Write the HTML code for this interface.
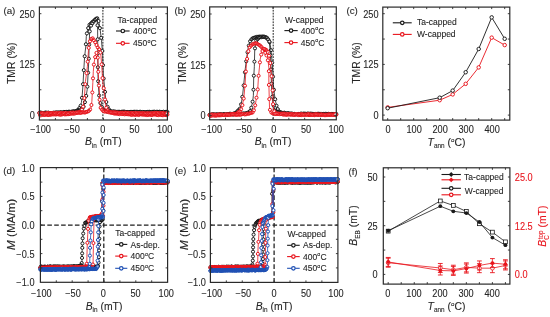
<!DOCTYPE html><html><head><meta charset="utf-8"><style>html,body{margin:0;padding:0;background:#fff;}svg{display:block;filter:blur(0.35px);}</style></head><body><svg width="550" height="317" viewBox="0 0 550 317" font-family='"Liberation Sans", sans-serif'>
<rect width="550" height="317" fill="#fff"/>
<line x1="102.9" y1="7" x2="102.9" y2="120" stroke="#1e1e1e" stroke-width="1" stroke-dasharray="1.8,1.1"/>
<path d="M167.4,112.06 L129,112.06 L116.2,111.86 L109.8,111.04 L106.92,105.49 L105.64,98.06 L104.81,89.95 L103.91,80.62 L103.3,74.74 L102.7,55.31 L101.48,40.23 L100.2,29.92 L98.92,22.22 L97.64,18.16 L96.36,18.57 L94.44,20.19 L91.24,23.03 L88.94,25.46 L87.4,30.74 L86.31,36.41 L85.8,46.15 L84.58,57.1 L83.69,71.7 L82.98,85.09 L82.09,97.01 L81.38,102.69 L80.36,106.99 L77.8,110.23 L71.4,111.86 L58.6,112.67 L39.4,113.07" fill="none" stroke="#1a1a1a" stroke-width="0.8"/>
<defs><g id="m1"><circle cx="167.4" cy="111.92" r="1.55"/><circle cx="166.1" cy="111.78" r="1.55"/><circle cx="164.8" cy="112.18" r="1.55"/><circle cx="163.5" cy="111.72" r="1.55"/><circle cx="162.2" cy="112.09" r="1.55"/><circle cx="160.9" cy="111.95" r="1.55"/><circle cx="159.6" cy="111.7" r="1.55"/><circle cx="158.3" cy="112.06" r="1.55"/><circle cx="157" cy="111.69" r="1.55"/><circle cx="155.7" cy="112" r="1.55"/><circle cx="154.4" cy="111.71" r="1.55"/><circle cx="153.1" cy="111.73" r="1.55"/><circle cx="151.8" cy="112" r="1.55"/><circle cx="150.5" cy="112.32" r="1.55"/><circle cx="149.2" cy="111.76" r="1.55"/><circle cx="147.9" cy="111.84" r="1.55"/><circle cx="146.6" cy="112.16" r="1.55"/><circle cx="145.3" cy="112.42" r="1.55"/><circle cx="144" cy="112.12" r="1.55"/><circle cx="142.7" cy="111.98" r="1.55"/><circle cx="141.4" cy="112.44" r="1.55"/><circle cx="140.1" cy="111.7" r="1.55"/><circle cx="138.8" cy="112.34" r="1.55"/><circle cx="137.5" cy="111.89" r="1.55"/><circle cx="136.2" cy="111.77" r="1.55"/><circle cx="134.9" cy="111.75" r="1.55"/><circle cx="133.6" cy="111.9" r="1.55"/><circle cx="132.3" cy="112.31" r="1.55"/><circle cx="131" cy="111.8" r="1.55"/><circle cx="129.7" cy="112.12" r="1.55"/><circle cx="128.4" cy="112.16" r="1.55"/><circle cx="127.1" cy="111.93" r="1.55"/><circle cx="125.8" cy="112.05" r="1.55"/><circle cx="124.5" cy="111.64" r="1.55"/><circle cx="123.2" cy="111.61" r="1.55"/><circle cx="121.9" cy="111.71" r="1.55"/><circle cx="120.6" cy="112.07" r="1.55"/><circle cx="119.3" cy="111.85" r="1.55"/><circle cx="118" cy="111.74" r="1.55"/><circle cx="116.7" cy="111.93" r="1.55"/><circle cx="115.4" cy="111.72" r="1.55"/><circle cx="114.1" cy="111.43" r="1.55"/><circle cx="112.8" cy="111.66" r="1.55"/><circle cx="111.5" cy="111.42" r="1.55"/><circle cx="110.2" cy="110.89" r="1.55"/><circle cx="108.9" cy="109.37" r="1.55"/><circle cx="107.6" cy="106.81" r="1.55"/><circle cx="106.3" cy="102" r="1.55"/><circle cx="105" cy="91.89" r="1.55"/><circle cx="103.7" cy="78.53" r="1.55"/><circle cx="103" cy="65.22" r="1.55"/><circle cx="102.35" cy="50.96" r="1.55"/><circle cx="101.19" cy="37.85" r="1.55"/><circle cx="99.89" cy="28.12" r="1.55"/><circle cx="98.59" cy="21.06" r="1.55"/><circle cx="97.29" cy="18.27" r="1.55"/><circle cx="95.99" cy="18.74" r="1.55"/><circle cx="94.69" cy="20.03" r="1.55"/><circle cx="93.39" cy="21.2" r="1.55"/><circle cx="92.09" cy="22.3" r="1.55"/><circle cx="90.79" cy="23.62" r="1.55"/><circle cx="89.49" cy="24.82" r="1.55"/><circle cx="88.19" cy="28.09" r="1.55"/><circle cx="86.89" cy="33.44" r="1.55"/><circle cx="85.9" cy="44.24" r="1.55"/><circle cx="84.68" cy="56.23" r="1.55"/><circle cx="83.79" cy="70.17" r="1.55"/><circle cx="83.04" cy="84.21" r="1.55"/><circle cx="81.99" cy="97.8" r="1.55"/><circle cx="80.69" cy="105.65" r="1.55"/><circle cx="79.39" cy="108.09" r="1.55"/><circle cx="78.09" cy="110.03" r="1.55"/><circle cx="76.79" cy="110.61" r="1.55"/><circle cx="75.49" cy="111.21" r="1.55"/><circle cx="74.19" cy="111.41" r="1.55"/><circle cx="72.89" cy="111.31" r="1.55"/><circle cx="71.59" cy="111.72" r="1.55"/><circle cx="70.29" cy="112.06" r="1.55"/><circle cx="68.99" cy="111.63" r="1.55"/><circle cx="67.69" cy="112.06" r="1.55"/><circle cx="66.39" cy="111.91" r="1.55"/><circle cx="65.09" cy="111.95" r="1.55"/><circle cx="63.79" cy="111.98" r="1.55"/><circle cx="62.49" cy="112.63" r="1.55"/><circle cx="61.19" cy="112.21" r="1.55"/><circle cx="59.89" cy="112.38" r="1.55"/><circle cx="58.59" cy="112.58" r="1.55"/><circle cx="57.29" cy="112.99" r="1.55"/><circle cx="55.99" cy="112.39" r="1.55"/><circle cx="54.69" cy="112.71" r="1.55"/><circle cx="53.39" cy="112.82" r="1.55"/><circle cx="52.09" cy="113.11" r="1.55"/><circle cx="50.79" cy="113.09" r="1.55"/><circle cx="49.49" cy="113.15" r="1.55"/><circle cx="48.19" cy="112.71" r="1.55"/><circle cx="46.89" cy="112.85" r="1.55"/><circle cx="45.59" cy="112.83" r="1.55"/><circle cx="44.29" cy="113.28" r="1.55"/><circle cx="42.99" cy="113.36" r="1.55"/><circle cx="41.69" cy="112.74" r="1.55"/><circle cx="40.39" cy="112.79" r="1.55"/></g></defs>
<use href="#m1" fill="#fff"/>
<use href="#m1" fill="none" stroke="#1a1a1a" stroke-width="1"/>
<circle cx="40.39" cy="112.79" r="1.55" fill="#fff" stroke="#1a1a1a" stroke-width="1"/>
<path d="M39.4,113.07 L65,112.67 L77.8,111.86 L82.92,108.61 L84.52,103.74 L85.93,97.7 L87.27,89.18 L87.98,76 L88.68,62.78 L89.13,46.15 L89.64,31.95 L90.6,26.27 L92.52,23.03 L94.44,20.6 L96.04,18.97 L97,19.78 L97.45,24.25 L97.64,29.92 L97.77,54.26 L97.96,74.54 L98.28,84.68 L99.24,96.85 L100.84,105.37 L103.4,110.23 L109.8,111.86 L122.6,112.26 L167.4,112.46" fill="none" stroke="#1a1a1a" stroke-width="0.8"/>
<defs><g id="m2"><circle cx="39.4" cy="112.86" r="1.55"/><circle cx="40.7" cy="112.84" r="1.55"/><circle cx="42" cy="113.02" r="1.55"/><circle cx="43.3" cy="113.08" r="1.55"/><circle cx="44.6" cy="112.8" r="1.55"/><circle cx="45.9" cy="112.57" r="1.55"/><circle cx="47.2" cy="112.88" r="1.55"/><circle cx="48.5" cy="112.82" r="1.55"/><circle cx="49.8" cy="112.96" r="1.55"/><circle cx="51.1" cy="113.25" r="1.55"/><circle cx="52.4" cy="113.02" r="1.55"/><circle cx="53.7" cy="112.86" r="1.55"/><circle cx="55" cy="112.92" r="1.55"/><circle cx="56.3" cy="112.95" r="1.55"/><circle cx="57.6" cy="112.43" r="1.55"/><circle cx="58.9" cy="113.08" r="1.55"/><circle cx="60.2" cy="112.97" r="1.55"/><circle cx="61.5" cy="113.02" r="1.55"/><circle cx="62.8" cy="112.94" r="1.55"/><circle cx="64.1" cy="112.59" r="1.55"/><circle cx="65.4" cy="112.56" r="1.55"/><circle cx="66.7" cy="112.24" r="1.55"/><circle cx="68" cy="112.58" r="1.55"/><circle cx="69.3" cy="112.04" r="1.55"/><circle cx="70.6" cy="111.97" r="1.55"/><circle cx="71.9" cy="112" r="1.55"/><circle cx="73.2" cy="111.88" r="1.55"/><circle cx="74.5" cy="111.94" r="1.55"/><circle cx="75.8" cy="111.62" r="1.55"/><circle cx="77.1" cy="111.5" r="1.55"/><circle cx="78.4" cy="111.2" r="1.55"/><circle cx="79.7" cy="110.33" r="1.55"/><circle cx="81" cy="109.72" r="1.55"/><circle cx="82.3" cy="108.86" r="1.55"/><circle cx="83.6" cy="106.65" r="1.55"/><circle cx="84.9" cy="102.15" r="1.55"/><circle cx="86.2" cy="95.87" r="1.55"/><circle cx="87.4" cy="86.65" r="1.55"/><circle cx="88.15" cy="72.68" r="1.55"/><circle cx="88.79" cy="58.69" r="1.55"/><circle cx="89.18" cy="44.61" r="1.55"/><circle cx="89.75" cy="31.38" r="1.55"/><circle cx="91.05" cy="25.65" r="1.55"/><circle cx="92.35" cy="23.3" r="1.55"/><circle cx="93.65" cy="21.59" r="1.55"/><circle cx="94.95" cy="19.95" r="1.55"/><circle cx="96.25" cy="19.03" r="1.55"/><circle cx="97.49" cy="25.34" r="1.55"/><circle cx="97.69" cy="39.31" r="1.55"/><circle cx="97.76" cy="53.48" r="1.55"/><circle cx="97.89" cy="67.28" r="1.55"/><circle cx="98.18" cy="81.24" r="1.55"/><circle cx="99.12" cy="95.52" r="1.55"/><circle cx="100.4" cy="103.05" r="1.55"/><circle cx="101.7" cy="106.9" r="1.55"/><circle cx="103" cy="109.51" r="1.55"/><circle cx="104.3" cy="110.08" r="1.55"/><circle cx="105.6" cy="110.81" r="1.55"/><circle cx="106.9" cy="111.5" r="1.55"/><circle cx="108.2" cy="111.74" r="1.55"/><circle cx="109.5" cy="111.94" r="1.55"/><circle cx="110.8" cy="111.7" r="1.55"/><circle cx="112.1" cy="111.82" r="1.55"/><circle cx="113.4" cy="111.7" r="1.55"/><circle cx="114.7" cy="112.23" r="1.55"/><circle cx="116" cy="112.08" r="1.55"/><circle cx="117.3" cy="112.32" r="1.55"/><circle cx="118.6" cy="112" r="1.55"/><circle cx="119.9" cy="111.95" r="1.55"/><circle cx="121.2" cy="112.47" r="1.55"/><circle cx="122.5" cy="112.65" r="1.55"/><circle cx="123.8" cy="112.55" r="1.55"/><circle cx="125.1" cy="112.52" r="1.55"/><circle cx="126.4" cy="112.53" r="1.55"/><circle cx="127.7" cy="112.48" r="1.55"/><circle cx="129" cy="112.07" r="1.55"/><circle cx="130.3" cy="112.31" r="1.55"/><circle cx="131.6" cy="112.19" r="1.55"/><circle cx="132.9" cy="111.93" r="1.55"/><circle cx="134.2" cy="111.94" r="1.55"/><circle cx="135.5" cy="112.14" r="1.55"/><circle cx="136.8" cy="112.13" r="1.55"/><circle cx="138.1" cy="112.49" r="1.55"/><circle cx="139.4" cy="112.7" r="1.55"/><circle cx="140.7" cy="112.3" r="1.55"/><circle cx="142" cy="112.7" r="1.55"/><circle cx="143.3" cy="112.74" r="1.55"/><circle cx="144.6" cy="112.72" r="1.55"/><circle cx="145.9" cy="112.26" r="1.55"/><circle cx="147.2" cy="112.15" r="1.55"/><circle cx="148.5" cy="112.16" r="1.55"/><circle cx="149.8" cy="112.14" r="1.55"/><circle cx="151.1" cy="112.15" r="1.55"/><circle cx="152.4" cy="112.49" r="1.55"/><circle cx="153.7" cy="112.72" r="1.55"/><circle cx="155" cy="112.68" r="1.55"/><circle cx="156.3" cy="112.4" r="1.55"/><circle cx="157.6" cy="112.54" r="1.55"/><circle cx="158.9" cy="112.66" r="1.55"/><circle cx="160.2" cy="112.1" r="1.55"/><circle cx="161.5" cy="112.57" r="1.55"/><circle cx="162.8" cy="112.77" r="1.55"/><circle cx="164.1" cy="112.67" r="1.55"/><circle cx="165.4" cy="112.65" r="1.55"/><circle cx="166.7" cy="112.44" r="1.55"/></g></defs>
<use href="#m2" fill="#fff"/>
<use href="#m2" fill="none" stroke="#1a1a1a" stroke-width="1"/>
<circle cx="166.7" cy="112.44" r="1.55" fill="#fff" stroke="#1a1a1a" stroke-width="1"/>
<path d="M167.4,114.9 L129,114.49 L116.2,113.68 L109.8,112.26 L106.6,109.42 L105.32,102.93 L104.36,92.79 L102.7,81.44 L101.8,66.43 L100.71,53.45 L99.24,49.39 L97.45,46.96 L95.08,42.09 L92.2,37.63 L90.28,40.47 L89,44.93 L88.49,50.2 L87.4,66.43 L85.48,81.44 L84.2,100.5 L82.92,107.8 L80.36,111.86 L74.6,113.48 L58.6,114.49 L39.4,114.9" fill="none" stroke="#e8141c" stroke-width="0.8"/>
<defs><g id="m3"><circle cx="167.4" cy="114.67" r="1.55"/><circle cx="166.1" cy="115.09" r="1.55"/><circle cx="164.8" cy="114.75" r="1.55"/><circle cx="163.5" cy="115.07" r="1.55"/><circle cx="162.2" cy="115.17" r="1.55"/><circle cx="160.9" cy="114.76" r="1.55"/><circle cx="159.6" cy="114.75" r="1.55"/><circle cx="158.3" cy="115.11" r="1.55"/><circle cx="157" cy="114.94" r="1.55"/><circle cx="155.7" cy="114.54" r="1.55"/><circle cx="154.4" cy="114.5" r="1.55"/><circle cx="153.1" cy="114.5" r="1.55"/><circle cx="151.8" cy="115.02" r="1.55"/><circle cx="150.5" cy="114.93" r="1.55"/><circle cx="149.2" cy="114.46" r="1.55"/><circle cx="147.9" cy="114.92" r="1.55"/><circle cx="146.6" cy="115.01" r="1.55"/><circle cx="145.3" cy="114.77" r="1.55"/><circle cx="144" cy="114.55" r="1.55"/><circle cx="142.7" cy="114.67" r="1.55"/><circle cx="141.4" cy="114.36" r="1.55"/><circle cx="140.1" cy="114.27" r="1.55"/><circle cx="138.8" cy="114.92" r="1.55"/><circle cx="137.5" cy="114.69" r="1.55"/><circle cx="136.2" cy="114.59" r="1.55"/><circle cx="134.9" cy="114.86" r="1.55"/><circle cx="133.6" cy="114.49" r="1.55"/><circle cx="132.3" cy="114.79" r="1.55"/><circle cx="131" cy="114.74" r="1.55"/><circle cx="129.7" cy="114.3" r="1.55"/><circle cx="128.4" cy="114.28" r="1.55"/><circle cx="127.1" cy="114.23" r="1.55"/><circle cx="125.8" cy="114.11" r="1.55"/><circle cx="124.5" cy="114.27" r="1.55"/><circle cx="123.2" cy="113.96" r="1.55"/><circle cx="121.9" cy="113.98" r="1.55"/><circle cx="120.6" cy="113.7" r="1.55"/><circle cx="119.3" cy="114.16" r="1.55"/><circle cx="118" cy="113.69" r="1.55"/><circle cx="116.7" cy="113.68" r="1.55"/><circle cx="115.4" cy="113.56" r="1.55"/><circle cx="114.1" cy="113.5" r="1.55"/><circle cx="112.8" cy="112.87" r="1.55"/><circle cx="111.5" cy="112.93" r="1.55"/><circle cx="110.2" cy="112.35" r="1.55"/><circle cx="108.9" cy="111.48" r="1.55"/><circle cx="107.6" cy="110.33" r="1.55"/><circle cx="106.3" cy="107.76" r="1.55"/><circle cx="105" cy="99.53" r="1.55"/><circle cx="103.7" cy="88.19" r="1.55"/><circle cx="102.51" cy="78.1" r="1.55"/><circle cx="101.62" cy="64.34" r="1.55"/><circle cx="100.41" cy="52.53" r="1.55"/><circle cx="99.11" cy="49.21" r="1.55"/><circle cx="97.81" cy="47.52" r="1.55"/><circle cx="96.51" cy="45.06" r="1.55"/><circle cx="95.21" cy="42.32" r="1.55"/><circle cx="93.91" cy="40.29" r="1.55"/><circle cx="92.61" cy="38.29" r="1.55"/><circle cx="91.31" cy="39.02" r="1.55"/><circle cx="90.01" cy="41.28" r="1.55"/><circle cx="88.71" cy="47.89" r="1.55"/><circle cx="87.71" cy="61.69" r="1.55"/><circle cx="86.53" cy="73.14" r="1.55"/><circle cx="85.3" cy="84.17" r="1.55"/><circle cx="84.36" cy="98.09" r="1.55"/><circle cx="83.12" cy="106.66" r="1.55"/><circle cx="81.82" cy="109.72" r="1.55"/><circle cx="80.52" cy="111.89" r="1.55"/><circle cx="79.22" cy="112.14" r="1.55"/><circle cx="77.92" cy="112.62" r="1.55"/><circle cx="76.62" cy="112.91" r="1.55"/><circle cx="75.32" cy="113.28" r="1.55"/><circle cx="74.02" cy="113.65" r="1.55"/><circle cx="72.72" cy="113.56" r="1.55"/><circle cx="71.42" cy="113.7" r="1.55"/><circle cx="70.12" cy="113.75" r="1.55"/><circle cx="68.82" cy="114.15" r="1.55"/><circle cx="67.52" cy="114.07" r="1.55"/><circle cx="66.22" cy="114.27" r="1.55"/><circle cx="64.92" cy="114.4" r="1.55"/><circle cx="63.62" cy="114" r="1.55"/><circle cx="62.32" cy="114.3" r="1.55"/><circle cx="61.02" cy="114.65" r="1.55"/><circle cx="59.72" cy="114.66" r="1.55"/><circle cx="58.42" cy="114.24" r="1.55"/><circle cx="57.12" cy="114.26" r="1.55"/><circle cx="55.82" cy="114.51" r="1.55"/><circle cx="54.52" cy="114.28" r="1.55"/><circle cx="53.22" cy="114.42" r="1.55"/><circle cx="51.92" cy="114.33" r="1.55"/><circle cx="50.62" cy="114.78" r="1.55"/><circle cx="49.32" cy="114.89" r="1.55"/><circle cx="48.02" cy="114.99" r="1.55"/><circle cx="46.72" cy="114.5" r="1.55"/><circle cx="45.42" cy="114.92" r="1.55"/><circle cx="44.12" cy="114.91" r="1.55"/><circle cx="42.82" cy="114.57" r="1.55"/><circle cx="41.52" cy="115.12" r="1.55"/><circle cx="40.22" cy="115.21" r="1.55"/></g></defs>
<use href="#m3" fill="#fff"/>
<use href="#m3" fill="none" stroke="#e8141c" stroke-width="1"/>
<circle cx="40.22" cy="115.21" r="1.55" fill="#fff" stroke="#e8141c" stroke-width="1"/>
<path d="M39.4,113.27 L65,113.07 L84.2,112.46 L89.32,111.04 L90.92,108.61 L91.88,101.31 L92.84,82.65 L93.29,71.7 L93.99,63.18 L95.02,57.71 L96.04,53.45 L97.13,51.83 L97.83,58.32 L98.41,74.54 L98.92,85.29 L99.5,92.91 L99.69,102.93 L100.84,108.61 L103.4,111.04 L109.8,112.46 L129,113.07 L167.4,113.27" fill="none" stroke="#e8141c" stroke-width="0.8"/>
<defs><g id="m4"><circle cx="39.4" cy="113.08" r="1.55"/><circle cx="40.7" cy="113.58" r="1.55"/><circle cx="42" cy="113.18" r="1.55"/><circle cx="43.3" cy="113.23" r="1.55"/><circle cx="44.6" cy="113.58" r="1.55"/><circle cx="45.9" cy="113.46" r="1.55"/><circle cx="47.2" cy="112.98" r="1.55"/><circle cx="48.5" cy="113.15" r="1.55"/><circle cx="49.8" cy="113.2" r="1.55"/><circle cx="51.1" cy="113.07" r="1.55"/><circle cx="52.4" cy="112.96" r="1.55"/><circle cx="53.7" cy="113.03" r="1.55"/><circle cx="55" cy="113.31" r="1.55"/><circle cx="56.3" cy="112.8" r="1.55"/><circle cx="57.6" cy="113.17" r="1.55"/><circle cx="58.9" cy="113.08" r="1.55"/><circle cx="60.2" cy="112.77" r="1.55"/><circle cx="61.5" cy="112.98" r="1.55"/><circle cx="62.8" cy="113.18" r="1.55"/><circle cx="64.1" cy="113.09" r="1.55"/><circle cx="65.4" cy="112.75" r="1.55"/><circle cx="66.7" cy="113.36" r="1.55"/><circle cx="68" cy="113.18" r="1.55"/><circle cx="69.3" cy="113.27" r="1.55"/><circle cx="70.6" cy="112.62" r="1.55"/><circle cx="71.9" cy="112.69" r="1.55"/><circle cx="73.2" cy="112.49" r="1.55"/><circle cx="74.5" cy="112.97" r="1.55"/><circle cx="75.8" cy="112.57" r="1.55"/><circle cx="77.1" cy="112.43" r="1.55"/><circle cx="78.4" cy="112.59" r="1.55"/><circle cx="79.7" cy="112.89" r="1.55"/><circle cx="81" cy="112.79" r="1.55"/><circle cx="82.3" cy="112.35" r="1.55"/><circle cx="83.6" cy="112.24" r="1.55"/><circle cx="84.9" cy="112.56" r="1.55"/><circle cx="86.2" cy="111.96" r="1.55"/><circle cx="87.5" cy="111.69" r="1.55"/><circle cx="88.8" cy="110.9" r="1.55"/><circle cx="90.1" cy="109.55" r="1.55"/><circle cx="91.4" cy="105.02" r="1.55"/><circle cx="92.33" cy="92.46" r="1.55"/><circle cx="93.01" cy="78.35" r="1.55"/><circle cx="93.88" cy="64.61" r="1.55"/><circle cx="95.17" cy="57.1" r="1.55"/><circle cx="96.47" cy="52.9" r="1.55"/><circle cx="97.77" cy="57.64" r="1.55"/><circle cx="98.31" cy="71.77" r="1.55"/><circle cx="98.95" cy="85.54" r="1.55"/><circle cx="99.63" cy="99.78" r="1.55"/><circle cx="100.68" cy="107.83" r="1.55"/><circle cx="101.98" cy="109.59" r="1.55"/><circle cx="103.28" cy="110.97" r="1.55"/><circle cx="104.58" cy="111.61" r="1.55"/><circle cx="105.88" cy="111.43" r="1.55"/><circle cx="107.18" cy="111.62" r="1.55"/><circle cx="108.48" cy="112.19" r="1.55"/><circle cx="109.78" cy="112.28" r="1.55"/><circle cx="111.08" cy="112.23" r="1.55"/><circle cx="112.38" cy="112.31" r="1.55"/><circle cx="113.68" cy="112.27" r="1.55"/><circle cx="114.98" cy="112.42" r="1.55"/><circle cx="116.28" cy="112.54" r="1.55"/><circle cx="117.58" cy="112.57" r="1.55"/><circle cx="118.88" cy="112.93" r="1.55"/><circle cx="120.18" cy="112.65" r="1.55"/><circle cx="121.48" cy="112.83" r="1.55"/><circle cx="122.78" cy="112.65" r="1.55"/><circle cx="124.08" cy="112.81" r="1.55"/><circle cx="125.38" cy="112.62" r="1.55"/><circle cx="126.68" cy="112.82" r="1.55"/><circle cx="127.98" cy="112.7" r="1.55"/><circle cx="129.28" cy="113.24" r="1.55"/><circle cx="130.58" cy="113.12" r="1.55"/><circle cx="131.88" cy="112.87" r="1.55"/><circle cx="133.18" cy="113.08" r="1.55"/><circle cx="134.48" cy="113.41" r="1.55"/><circle cx="135.78" cy="112.83" r="1.55"/><circle cx="137.08" cy="113.34" r="1.55"/><circle cx="138.38" cy="113.07" r="1.55"/><circle cx="139.68" cy="113.12" r="1.55"/><circle cx="140.98" cy="113.37" r="1.55"/><circle cx="142.28" cy="113.07" r="1.55"/><circle cx="143.58" cy="113.15" r="1.55"/><circle cx="144.88" cy="113.29" r="1.55"/><circle cx="146.18" cy="113.5" r="1.55"/><circle cx="147.48" cy="113.06" r="1.55"/><circle cx="148.78" cy="113.41" r="1.55"/><circle cx="150.08" cy="113.33" r="1.55"/><circle cx="151.38" cy="113.29" r="1.55"/><circle cx="152.68" cy="113.13" r="1.55"/><circle cx="153.98" cy="113.1" r="1.55"/><circle cx="155.28" cy="112.9" r="1.55"/><circle cx="156.58" cy="112.96" r="1.55"/><circle cx="157.88" cy="112.92" r="1.55"/><circle cx="159.18" cy="113.4" r="1.55"/><circle cx="160.48" cy="113.07" r="1.55"/><circle cx="161.78" cy="113.01" r="1.55"/><circle cx="163.08" cy="112.96" r="1.55"/><circle cx="164.38" cy="113.5" r="1.55"/><circle cx="165.68" cy="113.53" r="1.55"/><circle cx="166.98" cy="113.39" r="1.55"/></g></defs>
<use href="#m4" fill="#fff"/>
<use href="#m4" fill="none" stroke="#e8141c" stroke-width="1"/>
<circle cx="166.98" cy="113.39" r="1.55" fill="#fff" stroke="#e8141c" stroke-width="1"/>
<rect x="39.4" y="7" width="128" height="113" fill="none" stroke="#2a2a2a" stroke-width="1.2"/>
<line x1="55.4" y1="120" x2="55.4" y2="118" stroke="#2a2a2a" stroke-width="0.9"/>
<line x1="55.4" y1="7" x2="55.4" y2="9" stroke="#2a2a2a" stroke-width="0.9"/>
<line x1="71.4" y1="120" x2="71.4" y2="118" stroke="#2a2a2a" stroke-width="0.9"/>
<line x1="71.4" y1="7" x2="71.4" y2="9" stroke="#2a2a2a" stroke-width="0.9"/>
<line x1="87.4" y1="120" x2="87.4" y2="118" stroke="#2a2a2a" stroke-width="0.9"/>
<line x1="87.4" y1="7" x2="87.4" y2="9" stroke="#2a2a2a" stroke-width="0.9"/>
<line x1="103.4" y1="120" x2="103.4" y2="118" stroke="#2a2a2a" stroke-width="0.9"/>
<line x1="103.4" y1="7" x2="103.4" y2="9" stroke="#2a2a2a" stroke-width="0.9"/>
<line x1="119.4" y1="120" x2="119.4" y2="118" stroke="#2a2a2a" stroke-width="0.9"/>
<line x1="119.4" y1="7" x2="119.4" y2="9" stroke="#2a2a2a" stroke-width="0.9"/>
<line x1="135.4" y1="120" x2="135.4" y2="118" stroke="#2a2a2a" stroke-width="0.9"/>
<line x1="135.4" y1="7" x2="135.4" y2="9" stroke="#2a2a2a" stroke-width="0.9"/>
<line x1="151.4" y1="120" x2="151.4" y2="118" stroke="#2a2a2a" stroke-width="0.9"/>
<line x1="151.4" y1="7" x2="151.4" y2="9" stroke="#2a2a2a" stroke-width="0.9"/>
<line x1="39.4" y1="115.1" x2="41.4" y2="115.1" stroke="#2a2a2a" stroke-width="0.9"/>
<line x1="167.4" y1="115.1" x2="165.4" y2="115.1" stroke="#2a2a2a" stroke-width="0.9"/>
<line x1="39.4" y1="89.75" x2="41.4" y2="89.75" stroke="#2a2a2a" stroke-width="0.9"/>
<line x1="167.4" y1="89.75" x2="165.4" y2="89.75" stroke="#2a2a2a" stroke-width="0.9"/>
<line x1="39.4" y1="64.4" x2="41.4" y2="64.4" stroke="#2a2a2a" stroke-width="0.9"/>
<line x1="167.4" y1="64.4" x2="165.4" y2="64.4" stroke="#2a2a2a" stroke-width="0.9"/>
<line x1="39.4" y1="39.05" x2="41.4" y2="39.05" stroke="#2a2a2a" stroke-width="0.9"/>
<line x1="167.4" y1="39.05" x2="165.4" y2="39.05" stroke="#2a2a2a" stroke-width="0.9"/>
<line x1="39.4" y1="13.7" x2="41.4" y2="13.7" stroke="#2a2a2a" stroke-width="0.9"/>
<line x1="167.4" y1="13.7" x2="165.4" y2="13.7" stroke="#2a2a2a" stroke-width="0.9"/>
<text x="3.4" y="14.2" font-size="9.8" text-anchor="start" fill="#262626" stroke="#262626" stroke-width="0.1">(a)</text>
<text transform="translate(34.8,17.6) scale(0.92,1)" font-size="10" text-anchor="end" fill="#262626" stroke="#262626" stroke-width="0.1">250</text>
<text transform="translate(34.8,68.3) scale(0.92,1)" font-size="10" text-anchor="end" fill="#262626" stroke="#262626" stroke-width="0.1">125</text>
<text transform="translate(34.8,119) scale(0.92,1)" font-size="10" text-anchor="end" fill="#262626" stroke="#262626" stroke-width="0.1">0</text>
<text transform="translate(40.6,132.7) scale(0.92,1)" font-size="10" text-anchor="middle" fill="#262626" stroke="#262626" stroke-width="0.1">−<tspan dx="0.8"></tspan>100</text>
<text transform="translate(72,132.7) scale(0.92,1)" font-size="10" text-anchor="middle" fill="#262626" stroke="#262626" stroke-width="0.1">−<tspan dx="0.8"></tspan>50</text>
<text transform="translate(102.8,132.7) scale(0.92,1)" font-size="10" text-anchor="middle" fill="#262626" stroke="#262626" stroke-width="0.1">0</text>
<text transform="translate(134.4,132.7) scale(0.92,1)" font-size="10" text-anchor="middle" fill="#262626" stroke="#262626" stroke-width="0.1">50</text>
<text transform="translate(164.6,132.7) scale(0.92,1)" font-size="10" text-anchor="middle" fill="#262626" stroke="#262626" stroke-width="0.1">100</text>
<text x="103.3" y="145.2" font-size="10.4" text-anchor="middle" fill="#262626" stroke="#262626" stroke-width="0.1"><tspan font-style="italic">B</tspan><tspan font-size="6.4" dy="2.6">in</tspan><tspan dy="-2.6"> (mT)</tspan></text>
<text x="0" y="0" font-size="10.4" text-anchor="middle" fill="#262626" stroke="#262626" stroke-width="0.1" transform="translate(14.6,63.2) rotate(-90)">TMR (%)</text>
<text x="117.6" y="23.4" font-size="8.5" text-anchor="start" fill="#262626" stroke="#262626" stroke-width="0.1">Ta-capped</text>
<line x1="116" y1="31" x2="129.6" y2="31" stroke="#1a1a1a" stroke-width="1.1"/>
<circle cx="122.8" cy="31" r="1.75" fill="#fff" stroke="#1a1a1a" stroke-width="1.2"/>
<text x="133.1" y="34.1" font-size="8.5" text-anchor="start" fill="#262626" stroke="#262626" stroke-width="0.1">400<tspan font-size="5.3" dy="-3.3" dx="0.15">o</tspan><tspan dy="3.3" dx="0.1">C</tspan></text>
<line x1="116" y1="43.3" x2="129.6" y2="43.3" stroke="#e8141c" stroke-width="1.1"/>
<circle cx="122.8" cy="43.3" r="1.75" fill="#fff" stroke="#e8141c" stroke-width="1.2"/>
<text x="133.1" y="46.4" font-size="8.5" text-anchor="start" fill="#262626" stroke="#262626" stroke-width="0.1">450<tspan font-size="5.3" dy="-3.3" dx="0.15">o</tspan><tspan dy="3.3" dx="0.1">C</tspan></text>
<line x1="273.2" y1="6.9" x2="273.2" y2="119.8" stroke="#1e1e1e" stroke-width="1" stroke-dasharray="1.8,1.1"/>
<path d="M336.3,114.18 L298.32,113.98 L285.66,113.37 L279.33,111.75 L276.8,107.29 L275.03,98.36 L274.27,93.09 L273.38,84.98 L272.87,72.61 L271.99,60 L270.47,45.8 L269.2,40.36 L266.67,37.52 L263.5,36.71 L257.18,36.71 L252.11,38.34 L250.02,41.58 L248.31,47.26 L246.79,56.79 L245.27,68.76 L243.88,82.95 L242.62,95.12 L241.35,103.23 L239.45,109.72 L235.02,113.37 L222.36,114.59 L209.7,114.79" fill="none" stroke="#1a1a1a" stroke-width="0.8"/>
<defs><g id="m5"><circle cx="336.3" cy="114.01" r="1.55"/><circle cx="335" cy="113.97" r="1.55"/><circle cx="333.7" cy="114" r="1.55"/><circle cx="332.4" cy="114.13" r="1.55"/><circle cx="331.1" cy="113.88" r="1.55"/><circle cx="329.8" cy="114.11" r="1.55"/><circle cx="328.5" cy="113.95" r="1.55"/><circle cx="327.2" cy="114.5" r="1.55"/><circle cx="325.9" cy="114.51" r="1.55"/><circle cx="324.6" cy="114.16" r="1.55"/><circle cx="323.3" cy="113.91" r="1.55"/><circle cx="322" cy="114.48" r="1.55"/><circle cx="320.7" cy="113.95" r="1.55"/><circle cx="319.4" cy="113.98" r="1.55"/><circle cx="318.1" cy="113.69" r="1.55"/><circle cx="316.8" cy="113.98" r="1.55"/><circle cx="315.5" cy="114.05" r="1.55"/><circle cx="314.2" cy="114.07" r="1.55"/><circle cx="312.9" cy="113.82" r="1.55"/><circle cx="311.6" cy="114.06" r="1.55"/><circle cx="310.3" cy="113.65" r="1.55"/><circle cx="309" cy="113.85" r="1.55"/><circle cx="307.7" cy="113.7" r="1.55"/><circle cx="306.4" cy="113.94" r="1.55"/><circle cx="305.1" cy="113.65" r="1.55"/><circle cx="303.8" cy="113.63" r="1.55"/><circle cx="302.5" cy="113.85" r="1.55"/><circle cx="301.2" cy="113.78" r="1.55"/><circle cx="299.9" cy="114.06" r="1.55"/><circle cx="298.6" cy="114.01" r="1.55"/><circle cx="297.3" cy="114.13" r="1.55"/><circle cx="296" cy="113.99" r="1.55"/><circle cx="294.7" cy="113.98" r="1.55"/><circle cx="293.4" cy="114.05" r="1.55"/><circle cx="292.1" cy="113.59" r="1.55"/><circle cx="290.8" cy="113.48" r="1.55"/><circle cx="289.5" cy="113.94" r="1.55"/><circle cx="288.2" cy="113.21" r="1.55"/><circle cx="286.9" cy="113.61" r="1.55"/><circle cx="285.6" cy="113.47" r="1.55"/><circle cx="284.3" cy="112.66" r="1.55"/><circle cx="283" cy="112.96" r="1.55"/><circle cx="281.7" cy="112.67" r="1.55"/><circle cx="280.4" cy="112.13" r="1.55"/><circle cx="279.1" cy="111.53" r="1.55"/><circle cx="277.8" cy="109.15" r="1.55"/><circle cx="276.5" cy="105.68" r="1.55"/><circle cx="275.2" cy="99.25" r="1.55"/><circle cx="273.9" cy="89.74" r="1.55"/><circle cx="273.04" cy="76.68" r="1.55"/><circle cx="272.17" cy="62.67" r="1.55"/><circle cx="270.93" cy="50.19" r="1.55"/><circle cx="269.63" cy="42.22" r="1.55"/><circle cx="268.33" cy="39.5" r="1.55"/><circle cx="267.03" cy="37.98" r="1.55"/><circle cx="265.73" cy="37.34" r="1.55"/><circle cx="264.43" cy="36.87" r="1.55"/><circle cx="263.13" cy="36.57" r="1.55"/><circle cx="261.83" cy="36.6" r="1.55"/><circle cx="260.53" cy="36.67" r="1.55"/><circle cx="259.23" cy="36.6" r="1.55"/><circle cx="257.93" cy="36.81" r="1.55"/><circle cx="256.63" cy="36.91" r="1.55"/><circle cx="255.33" cy="37.34" r="1.55"/><circle cx="254.03" cy="37.76" r="1.55"/><circle cx="252.73" cy="38.19" r="1.55"/><circle cx="251.43" cy="39.39" r="1.55"/><circle cx="250.13" cy="41.27" r="1.55"/><circle cx="248.83" cy="45.64" r="1.55"/><circle cx="247.53" cy="52.26" r="1.55"/><circle cx="246.23" cy="61.25" r="1.55"/><circle cx="244.93" cy="72.31" r="1.55"/><circle cx="243.63" cy="85.45" r="1.55"/><circle cx="242.33" cy="96.84" r="1.55"/><circle cx="241.03" cy="104.41" r="1.55"/><circle cx="239.73" cy="108.7" r="1.55"/><circle cx="238.43" cy="110.22" r="1.55"/><circle cx="237.13" cy="111.45" r="1.55"/><circle cx="235.83" cy="112.89" r="1.55"/><circle cx="234.53" cy="113.18" r="1.55"/><circle cx="233.23" cy="113.74" r="1.55"/><circle cx="231.93" cy="114.05" r="1.55"/><circle cx="230.63" cy="113.79" r="1.55"/><circle cx="229.33" cy="113.83" r="1.55"/><circle cx="228.03" cy="114.03" r="1.55"/><circle cx="226.73" cy="114.32" r="1.55"/><circle cx="225.43" cy="114.51" r="1.55"/><circle cx="224.13" cy="114.51" r="1.55"/><circle cx="222.83" cy="114.66" r="1.55"/><circle cx="221.53" cy="114.26" r="1.55"/><circle cx="220.23" cy="114.34" r="1.55"/><circle cx="218.93" cy="114.45" r="1.55"/><circle cx="217.63" cy="114.86" r="1.55"/><circle cx="216.33" cy="114.53" r="1.55"/><circle cx="215.03" cy="114.76" r="1.55"/><circle cx="213.73" cy="114.34" r="1.55"/><circle cx="212.43" cy="114.4" r="1.55"/><circle cx="211.13" cy="114.58" r="1.55"/><circle cx="209.83" cy="114.93" r="1.55"/></g></defs>
<use href="#m5" fill="#fff"/>
<use href="#m5" fill="none" stroke="#1a1a1a" stroke-width="1"/>
<circle cx="209.83" cy="114.93" r="1.55" fill="#fff" stroke="#1a1a1a" stroke-width="1"/>
<path d="M209.7,114.79 L235.02,114.18 L247.68,112.97 L250.21,110.94 L251.29,107.9 L252.74,101.2 L253.38,95.32 L253.69,77.88 L254.33,66.73 L254.71,50.5 L255.91,41.18 L259.07,37.52 L263.5,36.71 L266.67,37.52 L269.2,40.77 L270.47,54.56 L271.1,74.84 L271.73,91.06 L273,103.23 L274.9,110.53 L279.33,113.37 L298.32,113.98 L336.3,114.18" fill="none" stroke="#1a1a1a" stroke-width="0.8"/>
<defs><g id="m6"><circle cx="209.7" cy="114.95" r="1.55"/><circle cx="211" cy="114.9" r="1.55"/><circle cx="212.3" cy="114.56" r="1.55"/><circle cx="213.6" cy="114.71" r="1.55"/><circle cx="214.9" cy="114.64" r="1.55"/><circle cx="216.2" cy="114.61" r="1.55"/><circle cx="217.5" cy="114.3" r="1.55"/><circle cx="218.8" cy="114.89" r="1.55"/><circle cx="220.1" cy="114.3" r="1.55"/><circle cx="221.4" cy="114.89" r="1.55"/><circle cx="222.7" cy="114.83" r="1.55"/><circle cx="224" cy="114.06" r="1.55"/><circle cx="225.3" cy="114.38" r="1.55"/><circle cx="226.6" cy="114.64" r="1.55"/><circle cx="227.9" cy="114.73" r="1.55"/><circle cx="229.2" cy="114.28" r="1.55"/><circle cx="230.5" cy="114.11" r="1.55"/><circle cx="231.8" cy="114.03" r="1.55"/><circle cx="233.1" cy="114.59" r="1.55"/><circle cx="234.4" cy="113.97" r="1.55"/><circle cx="235.7" cy="114.18" r="1.55"/><circle cx="237" cy="113.71" r="1.55"/><circle cx="238.3" cy="113.89" r="1.55"/><circle cx="239.6" cy="114.11" r="1.55"/><circle cx="240.9" cy="113.32" r="1.55"/><circle cx="242.2" cy="113.75" r="1.55"/><circle cx="243.5" cy="113.38" r="1.55"/><circle cx="244.8" cy="113.55" r="1.55"/><circle cx="246.1" cy="113.28" r="1.55"/><circle cx="247.4" cy="112.78" r="1.55"/><circle cx="248.7" cy="112.47" r="1.55"/><circle cx="250" cy="111.1" r="1.55"/><circle cx="251.3" cy="107.7" r="1.55"/><circle cx="252.6" cy="101.72" r="1.55"/><circle cx="253.48" cy="89.69" r="1.55"/><circle cx="253.82" cy="75.68" r="1.55"/><circle cx="254.44" cy="61.63" r="1.55"/><circle cx="254.97" cy="48.37" r="1.55"/><circle cx="256.27" cy="40.71" r="1.55"/><circle cx="257.57" cy="39.21" r="1.55"/><circle cx="258.87" cy="37.86" r="1.55"/><circle cx="260.17" cy="37.18" r="1.55"/><circle cx="261.47" cy="37.16" r="1.55"/><circle cx="262.77" cy="36.95" r="1.55"/><circle cx="264.07" cy="36.74" r="1.55"/><circle cx="265.37" cy="37.32" r="1.55"/><circle cx="266.67" cy="37.59" r="1.55"/><circle cx="267.97" cy="39.31" r="1.55"/><circle cx="269.27" cy="41.41" r="1.55"/><circle cx="270.5" cy="55.44" r="1.55"/><circle cx="270.93" cy="69.44" r="1.55"/><circle cx="271.44" cy="83.63" r="1.55"/><circle cx="272.33" cy="96.81" r="1.55"/><circle cx="273.63" cy="105.61" r="1.55"/><circle cx="274.93" cy="110.49" r="1.55"/><circle cx="276.23" cy="111.21" r="1.55"/><circle cx="277.53" cy="111.86" r="1.55"/><circle cx="278.83" cy="112.73" r="1.55"/><circle cx="280.13" cy="113.67" r="1.55"/><circle cx="281.43" cy="113.27" r="1.55"/><circle cx="282.73" cy="113.83" r="1.55"/><circle cx="284.03" cy="113.32" r="1.55"/><circle cx="285.33" cy="113.38" r="1.55"/><circle cx="286.63" cy="113.61" r="1.55"/><circle cx="287.93" cy="113.4" r="1.55"/><circle cx="289.23" cy="113.59" r="1.55"/><circle cx="290.53" cy="114.1" r="1.55"/><circle cx="291.83" cy="114.08" r="1.55"/><circle cx="293.13" cy="114.06" r="1.55"/><circle cx="294.43" cy="113.96" r="1.55"/><circle cx="295.73" cy="114.23" r="1.55"/><circle cx="297.03" cy="114.29" r="1.55"/><circle cx="298.33" cy="114.02" r="1.55"/><circle cx="299.63" cy="114.16" r="1.55"/><circle cx="300.93" cy="113.63" r="1.55"/><circle cx="302.23" cy="114.19" r="1.55"/><circle cx="303.53" cy="113.97" r="1.55"/><circle cx="304.83" cy="114.22" r="1.55"/><circle cx="306.13" cy="114.14" r="1.55"/><circle cx="307.43" cy="113.86" r="1.55"/><circle cx="308.73" cy="113.68" r="1.55"/><circle cx="310.03" cy="114.38" r="1.55"/><circle cx="311.33" cy="113.75" r="1.55"/><circle cx="312.63" cy="114.03" r="1.55"/><circle cx="313.93" cy="113.94" r="1.55"/><circle cx="315.23" cy="113.91" r="1.55"/><circle cx="316.53" cy="114.27" r="1.55"/><circle cx="317.83" cy="114.47" r="1.55"/><circle cx="319.13" cy="113.9" r="1.55"/><circle cx="320.43" cy="114.22" r="1.55"/><circle cx="321.73" cy="113.95" r="1.55"/><circle cx="323.03" cy="114.16" r="1.55"/><circle cx="324.33" cy="114.03" r="1.55"/><circle cx="325.63" cy="113.86" r="1.55"/><circle cx="326.93" cy="113.86" r="1.55"/><circle cx="328.23" cy="113.91" r="1.55"/><circle cx="329.53" cy="114.47" r="1.55"/><circle cx="330.83" cy="114.15" r="1.55"/><circle cx="332.13" cy="113.94" r="1.55"/><circle cx="333.43" cy="114.49" r="1.55"/><circle cx="334.73" cy="114.57" r="1.55"/><circle cx="336.03" cy="114.14" r="1.55"/></g></defs>
<use href="#m6" fill="#fff"/>
<use href="#m6" fill="none" stroke="#1a1a1a" stroke-width="1"/>
<circle cx="336.03" cy="114.14" r="1.55" fill="#fff" stroke="#1a1a1a" stroke-width="1"/>
<path d="M336.3,114.99 L298.32,114.79 L285.66,114.39 L276.17,113.78 L273,113.37 L270.47,111.75 L269.52,107.9 L269.01,89.04 L268.82,78.9 L268.89,67.94 L268.25,62.67 L267.3,56.79 L264.14,50.5 L260.34,45.64 L255.91,43.2 L252.74,44.01 L249.58,47.26 L247.68,53.75 L246.41,64.7 L245.78,73.22 L245.02,84.98 L243.88,97.55 L242.62,104.04 L241.79,107.9 L240.08,111.34 L235.02,114.18 L222.36,115.2 L209.7,115.6" fill="none" stroke="#e8141c" stroke-width="0.8"/>
<defs><g id="m7"><circle cx="336.3" cy="114.74" r="1.55"/><circle cx="335" cy="114.77" r="1.55"/><circle cx="333.7" cy="114.69" r="1.55"/><circle cx="332.4" cy="114.86" r="1.55"/><circle cx="331.1" cy="114.68" r="1.55"/><circle cx="329.8" cy="114.78" r="1.55"/><circle cx="328.5" cy="114.78" r="1.55"/><circle cx="327.2" cy="114.99" r="1.55"/><circle cx="325.9" cy="115.21" r="1.55"/><circle cx="324.6" cy="115.11" r="1.55"/><circle cx="323.3" cy="114.86" r="1.55"/><circle cx="322" cy="114.86" r="1.55"/><circle cx="320.7" cy="114.93" r="1.55"/><circle cx="319.4" cy="114.82" r="1.55"/><circle cx="318.1" cy="114.78" r="1.55"/><circle cx="316.8" cy="114.58" r="1.55"/><circle cx="315.5" cy="114.73" r="1.55"/><circle cx="314.2" cy="115.2" r="1.55"/><circle cx="312.9" cy="114.61" r="1.55"/><circle cx="311.6" cy="114.86" r="1.55"/><circle cx="310.3" cy="114.95" r="1.55"/><circle cx="309" cy="115.1" r="1.55"/><circle cx="307.7" cy="114.64" r="1.55"/><circle cx="306.4" cy="114.67" r="1.55"/><circle cx="305.1" cy="114.65" r="1.55"/><circle cx="303.8" cy="114.75" r="1.55"/><circle cx="302.5" cy="114.78" r="1.55"/><circle cx="301.2" cy="115.12" r="1.55"/><circle cx="299.9" cy="115.04" r="1.55"/><circle cx="298.6" cy="115.05" r="1.55"/><circle cx="297.3" cy="114.42" r="1.55"/><circle cx="296" cy="114.39" r="1.55"/><circle cx="294.7" cy="114.82" r="1.55"/><circle cx="293.4" cy="114.91" r="1.55"/><circle cx="292.1" cy="114.57" r="1.55"/><circle cx="290.8" cy="114.61" r="1.55"/><circle cx="289.5" cy="114.16" r="1.55"/><circle cx="288.2" cy="114.39" r="1.55"/><circle cx="286.9" cy="114.72" r="1.55"/><circle cx="285.6" cy="114.61" r="1.55"/><circle cx="284.3" cy="114.55" r="1.55"/><circle cx="283" cy="114.55" r="1.55"/><circle cx="281.7" cy="113.96" r="1.55"/><circle cx="280.4" cy="113.78" r="1.55"/><circle cx="279.1" cy="113.72" r="1.55"/><circle cx="277.8" cy="113.9" r="1.55"/><circle cx="276.5" cy="113.93" r="1.55"/><circle cx="275.2" cy="113.96" r="1.55"/><circle cx="273.9" cy="113.64" r="1.55"/><circle cx="272.6" cy="113.22" r="1.55"/><circle cx="271.3" cy="112.47" r="1.55"/><circle cx="270" cy="109.82" r="1.55"/><circle cx="269.28" cy="99.1" r="1.55"/><circle cx="268.94" cy="84.94" r="1.55"/><circle cx="268.87" cy="71.17" r="1.55"/><circle cx="267.88" cy="60.26" r="1.55"/><circle cx="266.58" cy="55.47" r="1.55"/><circle cx="265.28" cy="52.81" r="1.55"/><circle cx="263.98" cy="50.24" r="1.55"/><circle cx="262.68" cy="48.52" r="1.55"/><circle cx="261.38" cy="46.89" r="1.55"/><circle cx="260.08" cy="45.53" r="1.55"/><circle cx="258.78" cy="44.84" r="1.55"/><circle cx="257.48" cy="43.95" r="1.55"/><circle cx="256.18" cy="43.22" r="1.55"/><circle cx="254.88" cy="43.48" r="1.55"/><circle cx="253.58" cy="43.83" r="1.55"/><circle cx="252.28" cy="44.46" r="1.55"/><circle cx="250.98" cy="45.74" r="1.55"/><circle cx="249.68" cy="47.19" r="1.55"/><circle cx="248.38" cy="51.22" r="1.55"/><circle cx="247.08" cy="58.91" r="1.55"/><circle cx="245.9" cy="71.55" r="1.55"/><circle cx="244.97" cy="85.7" r="1.55"/><circle cx="243.7" cy="98.55" r="1.55"/><circle cx="242.4" cy="105.19" r="1.55"/><circle cx="241.1" cy="109.3" r="1.55"/><circle cx="239.8" cy="111.32" r="1.55"/><circle cx="238.5" cy="112.06" r="1.55"/><circle cx="237.2" cy="113.29" r="1.55"/><circle cx="235.9" cy="113.84" r="1.55"/><circle cx="234.6" cy="114.08" r="1.55"/><circle cx="233.3" cy="113.99" r="1.55"/><circle cx="232" cy="114.42" r="1.55"/><circle cx="230.7" cy="114.65" r="1.55"/><circle cx="229.4" cy="114.58" r="1.55"/><circle cx="228.1" cy="114.57" r="1.55"/><circle cx="226.8" cy="114.96" r="1.55"/><circle cx="225.5" cy="115.24" r="1.55"/><circle cx="224.2" cy="114.86" r="1.55"/><circle cx="222.9" cy="114.83" r="1.55"/><circle cx="221.6" cy="115.11" r="1.55"/><circle cx="220.3" cy="115.21" r="1.55"/><circle cx="219" cy="115.43" r="1.55"/><circle cx="217.7" cy="115.14" r="1.55"/><circle cx="216.4" cy="115.6" r="1.55"/><circle cx="215.1" cy="115.6" r="1.55"/><circle cx="213.8" cy="115.48" r="1.55"/><circle cx="212.5" cy="115.31" r="1.55"/><circle cx="211.2" cy="115.88" r="1.55"/><circle cx="209.9" cy="115.46" r="1.55"/></g></defs>
<use href="#m7" fill="#fff"/>
<use href="#m7" fill="none" stroke="#e8141c" stroke-width="1"/>
<circle cx="209.9" cy="115.46" r="1.55" fill="#fff" stroke="#e8141c" stroke-width="1"/>
<path d="M209.7,114.79 L235.02,114.59 L247.68,113.98 L252.74,112.56 L254.52,109.52 L255.97,100.8 L257.62,91.47 L258.44,77.27 L259.39,67.94 L260.21,59.18 L261.61,52.53 L264.14,48.48 L267.3,50.5 L269.83,58.62 L271.1,70.78 L272.05,82.95 L272.68,90.66 L273,103.23 L273.63,110.53 L276.17,113.78 L298.32,114.39 L336.3,114.59" fill="none" stroke="#e8141c" stroke-width="0.8"/>
<defs><g id="m8"><circle cx="209.7" cy="115.02" r="1.55"/><circle cx="211" cy="114.59" r="1.55"/><circle cx="212.3" cy="114.58" r="1.55"/><circle cx="213.6" cy="114.94" r="1.55"/><circle cx="214.9" cy="114.61" r="1.55"/><circle cx="216.2" cy="115.06" r="1.55"/><circle cx="217.5" cy="114.73" r="1.55"/><circle cx="218.8" cy="114.5" r="1.55"/><circle cx="220.1" cy="114.51" r="1.55"/><circle cx="221.4" cy="114.64" r="1.55"/><circle cx="222.7" cy="114.8" r="1.55"/><circle cx="224" cy="114.99" r="1.55"/><circle cx="225.3" cy="114.42" r="1.55"/><circle cx="226.6" cy="114.58" r="1.55"/><circle cx="227.9" cy="114.44" r="1.55"/><circle cx="229.2" cy="114.97" r="1.55"/><circle cx="230.5" cy="114.37" r="1.55"/><circle cx="231.8" cy="114.3" r="1.55"/><circle cx="233.1" cy="114.3" r="1.55"/><circle cx="234.4" cy="114.52" r="1.55"/><circle cx="235.7" cy="114.83" r="1.55"/><circle cx="237" cy="114.76" r="1.55"/><circle cx="238.3" cy="114.59" r="1.55"/><circle cx="239.6" cy="114.72" r="1.55"/><circle cx="240.9" cy="114.61" r="1.55"/><circle cx="242.2" cy="114.12" r="1.55"/><circle cx="243.5" cy="113.96" r="1.55"/><circle cx="244.8" cy="114.42" r="1.55"/><circle cx="246.1" cy="114.23" r="1.55"/><circle cx="247.4" cy="113.67" r="1.55"/><circle cx="248.7" cy="113.81" r="1.55"/><circle cx="250" cy="113.25" r="1.55"/><circle cx="251.3" cy="112.88" r="1.55"/><circle cx="252.6" cy="112.48" r="1.55"/><circle cx="253.9" cy="110.35" r="1.55"/><circle cx="255.2" cy="105.28" r="1.55"/><circle cx="256.5" cy="97.74" r="1.55"/><circle cx="257.73" cy="89.47" r="1.55"/><circle cx="258.6" cy="75.8" r="1.55"/><circle cx="259.9" cy="62.36" r="1.55"/><circle cx="261.2" cy="54.59" r="1.55"/><circle cx="262.5" cy="51" r="1.55"/><circle cx="263.8" cy="48.97" r="1.55"/><circle cx="265.1" cy="49.19" r="1.55"/><circle cx="266.4" cy="50.03" r="1.55"/><circle cx="267.7" cy="51.77" r="1.55"/><circle cx="269" cy="55.82" r="1.55"/><circle cx="270.3" cy="63.12" r="1.55"/><circle cx="271.52" cy="76.17" r="1.55"/><circle cx="272.65" cy="90.33" r="1.55"/><circle cx="273.08" cy="104.12" r="1.55"/><circle cx="274.35" cy="111.35" r="1.55"/><circle cx="275.65" cy="113.39" r="1.55"/><circle cx="276.95" cy="113.47" r="1.55"/><circle cx="278.25" cy="113.77" r="1.55"/><circle cx="279.55" cy="114.09" r="1.55"/><circle cx="280.85" cy="114.09" r="1.55"/><circle cx="282.15" cy="113.62" r="1.55"/><circle cx="283.45" cy="113.65" r="1.55"/><circle cx="284.75" cy="113.71" r="1.55"/><circle cx="286.05" cy="114.34" r="1.55"/><circle cx="287.35" cy="113.91" r="1.55"/><circle cx="288.65" cy="114.29" r="1.55"/><circle cx="289.95" cy="114.44" r="1.55"/><circle cx="291.25" cy="114.08" r="1.55"/><circle cx="292.55" cy="114.07" r="1.55"/><circle cx="293.85" cy="114.58" r="1.55"/><circle cx="295.15" cy="114.38" r="1.55"/><circle cx="296.45" cy="114.17" r="1.55"/><circle cx="297.75" cy="114.52" r="1.55"/><circle cx="299.05" cy="114.26" r="1.55"/><circle cx="300.35" cy="114.24" r="1.55"/><circle cx="301.65" cy="114.06" r="1.55"/><circle cx="302.95" cy="114.59" r="1.55"/><circle cx="304.25" cy="114.71" r="1.55"/><circle cx="305.55" cy="114.52" r="1.55"/><circle cx="306.85" cy="114.74" r="1.55"/><circle cx="308.15" cy="114.11" r="1.55"/><circle cx="309.45" cy="114.26" r="1.55"/><circle cx="310.75" cy="114.43" r="1.55"/><circle cx="312.05" cy="114.78" r="1.55"/><circle cx="313.35" cy="114.78" r="1.55"/><circle cx="314.65" cy="114.39" r="1.55"/><circle cx="315.95" cy="114.31" r="1.55"/><circle cx="317.25" cy="114.44" r="1.55"/><circle cx="318.55" cy="114.49" r="1.55"/><circle cx="319.85" cy="114.8" r="1.55"/><circle cx="321.15" cy="114.29" r="1.55"/><circle cx="322.45" cy="114.73" r="1.55"/><circle cx="323.75" cy="114.69" r="1.55"/><circle cx="325.05" cy="114.75" r="1.55"/><circle cx="326.35" cy="114.73" r="1.55"/><circle cx="327.65" cy="114.62" r="1.55"/><circle cx="328.95" cy="114.43" r="1.55"/><circle cx="330.25" cy="114.43" r="1.55"/><circle cx="331.55" cy="114.47" r="1.55"/><circle cx="332.85" cy="114.77" r="1.55"/><circle cx="334.15" cy="114.28" r="1.55"/><circle cx="335.45" cy="114.37" r="1.55"/></g></defs>
<use href="#m8" fill="#fff"/>
<use href="#m8" fill="none" stroke="#e8141c" stroke-width="1"/>
<circle cx="335.45" cy="114.37" r="1.55" fill="#fff" stroke="#e8141c" stroke-width="1"/>
<rect x="209.7" y="6.9" width="126.6" height="112.9" fill="none" stroke="#2a2a2a" stroke-width="1.2"/>
<line x1="225.53" y1="119.8" x2="225.53" y2="117.8" stroke="#2a2a2a" stroke-width="0.9"/>
<line x1="225.53" y1="6.9" x2="225.53" y2="8.9" stroke="#2a2a2a" stroke-width="0.9"/>
<line x1="241.35" y1="119.8" x2="241.35" y2="117.8" stroke="#2a2a2a" stroke-width="0.9"/>
<line x1="241.35" y1="6.9" x2="241.35" y2="8.9" stroke="#2a2a2a" stroke-width="0.9"/>
<line x1="257.18" y1="119.8" x2="257.18" y2="117.8" stroke="#2a2a2a" stroke-width="0.9"/>
<line x1="257.18" y1="6.9" x2="257.18" y2="8.9" stroke="#2a2a2a" stroke-width="0.9"/>
<line x1="273" y1="119.8" x2="273" y2="117.8" stroke="#2a2a2a" stroke-width="0.9"/>
<line x1="273" y1="6.9" x2="273" y2="8.9" stroke="#2a2a2a" stroke-width="0.9"/>
<line x1="288.82" y1="119.8" x2="288.82" y2="117.8" stroke="#2a2a2a" stroke-width="0.9"/>
<line x1="288.82" y1="6.9" x2="288.82" y2="8.9" stroke="#2a2a2a" stroke-width="0.9"/>
<line x1="304.65" y1="119.8" x2="304.65" y2="117.8" stroke="#2a2a2a" stroke-width="0.9"/>
<line x1="304.65" y1="6.9" x2="304.65" y2="8.9" stroke="#2a2a2a" stroke-width="0.9"/>
<line x1="320.48" y1="119.8" x2="320.48" y2="117.8" stroke="#2a2a2a" stroke-width="0.9"/>
<line x1="320.48" y1="6.9" x2="320.48" y2="8.9" stroke="#2a2a2a" stroke-width="0.9"/>
<line x1="209.7" y1="115.4" x2="211.7" y2="115.4" stroke="#2a2a2a" stroke-width="0.9"/>
<line x1="336.3" y1="115.4" x2="334.3" y2="115.4" stroke="#2a2a2a" stroke-width="0.9"/>
<line x1="209.7" y1="90.05" x2="211.7" y2="90.05" stroke="#2a2a2a" stroke-width="0.9"/>
<line x1="336.3" y1="90.05" x2="334.3" y2="90.05" stroke="#2a2a2a" stroke-width="0.9"/>
<line x1="209.7" y1="64.7" x2="211.7" y2="64.7" stroke="#2a2a2a" stroke-width="0.9"/>
<line x1="336.3" y1="64.7" x2="334.3" y2="64.7" stroke="#2a2a2a" stroke-width="0.9"/>
<line x1="209.7" y1="39.35" x2="211.7" y2="39.35" stroke="#2a2a2a" stroke-width="0.9"/>
<line x1="336.3" y1="39.35" x2="334.3" y2="39.35" stroke="#2a2a2a" stroke-width="0.9"/>
<line x1="209.7" y1="14" x2="211.7" y2="14" stroke="#2a2a2a" stroke-width="0.9"/>
<line x1="336.3" y1="14" x2="334.3" y2="14" stroke="#2a2a2a" stroke-width="0.9"/>
<text x="174.4" y="14.2" font-size="9.8" text-anchor="start" fill="#262626" stroke="#262626" stroke-width="0.1">(b)</text>
<text transform="translate(205.6,17.9) scale(0.92,1)" font-size="10" text-anchor="end" fill="#262626" stroke="#262626" stroke-width="0.1">250</text>
<text transform="translate(205.6,68.6) scale(0.92,1)" font-size="10" text-anchor="end" fill="#262626" stroke="#262626" stroke-width="0.1">125</text>
<text transform="translate(205.6,119.3) scale(0.92,1)" font-size="10" text-anchor="end" fill="#262626" stroke="#262626" stroke-width="0.1">0</text>
<text transform="translate(211.7,132.7) scale(0.92,1)" font-size="10" text-anchor="middle" fill="#262626" stroke="#262626" stroke-width="0.1">−<tspan dx="0.8"></tspan>100</text>
<text transform="translate(244,132.7) scale(0.92,1)" font-size="10" text-anchor="middle" fill="#262626" stroke="#262626" stroke-width="0.1">−<tspan dx="0.8"></tspan>50</text>
<text transform="translate(273.8,132.7) scale(0.92,1)" font-size="10" text-anchor="middle" fill="#262626" stroke="#262626" stroke-width="0.1">0</text>
<text transform="translate(306,132.7) scale(0.92,1)" font-size="10" text-anchor="middle" fill="#262626" stroke="#262626" stroke-width="0.1">50</text>
<text transform="translate(336.1,132.7) scale(0.92,1)" font-size="10" text-anchor="middle" fill="#262626" stroke="#262626" stroke-width="0.1">100</text>
<text x="273" y="145.2" font-size="10.4" text-anchor="middle" fill="#262626" stroke="#262626" stroke-width="0.1"><tspan font-style="italic">B</tspan><tspan font-size="6.4" dy="2.6">in</tspan><tspan dy="-2.6"> (mT)</tspan></text>
<text x="0" y="0" font-size="10.4" text-anchor="middle" fill="#262626" stroke="#262626" stroke-width="0.1" transform="translate(186.2,63.2) rotate(-90)">TMR (%)</text>
<text x="285" y="23" font-size="8.5" text-anchor="start" fill="#262626" stroke="#262626" stroke-width="0.1">W-capped</text>
<line x1="284.4" y1="30.6" x2="297.7" y2="30.6" stroke="#1a1a1a" stroke-width="1.1"/>
<circle cx="291.05" cy="30.6" r="1.75" fill="#fff" stroke="#1a1a1a" stroke-width="1.2"/>
<text x="300.8" y="33.7" font-size="8.5" text-anchor="start" fill="#262626" stroke="#262626" stroke-width="0.1">400<tspan font-size="5.3" dy="-3.3" dx="0.15">o</tspan><tspan dy="3.3" dx="0.1">C</tspan></text>
<line x1="284.4" y1="42.6" x2="297.7" y2="42.6" stroke="#e8141c" stroke-width="1.1"/>
<circle cx="291.05" cy="42.6" r="1.75" fill="#fff" stroke="#e8141c" stroke-width="1.2"/>
<text x="300.8" y="45.7" font-size="8.5" text-anchor="start" fill="#262626" stroke="#262626" stroke-width="0.1">450<tspan font-size="5.3" dy="-3.3" dx="0.15">o</tspan><tspan dy="3.3" dx="0.1">C</tspan></text>
<path d="M387.7,107.39 L439.7,100.21 L452.7,94.41 L465.7,83.83 L478.7,67.4 L491.7,37.63 L504.7,45.09" fill="none" stroke="#e8141c" stroke-width="0.9"/>
<circle cx="387.7" cy="107.39" r="1.75" fill="#fff" stroke="#e8141c" stroke-width="0.95"/>
<circle cx="439.7" cy="100.21" r="1.75" fill="#fff" stroke="#e8141c" stroke-width="0.95"/>
<circle cx="452.7" cy="94.41" r="1.75" fill="#fff" stroke="#e8141c" stroke-width="0.95"/>
<circle cx="465.7" cy="83.83" r="1.75" fill="#fff" stroke="#e8141c" stroke-width="0.95"/>
<circle cx="478.7" cy="67.4" r="1.75" fill="#fff" stroke="#e8141c" stroke-width="0.95"/>
<circle cx="491.7" cy="37.63" r="1.75" fill="#fff" stroke="#e8141c" stroke-width="0.95"/>
<circle cx="504.7" cy="45.09" r="1.75" fill="#fff" stroke="#e8141c" stroke-width="0.95"/>
<path d="M387.7,108.2 L439.7,97.7 L452.7,90.6 L465.7,72.23 L478.7,48.99 L491.7,17.39 L504.7,38.81" fill="none" stroke="#1a1a1a" stroke-width="0.9"/>
<circle cx="387.7" cy="108.2" r="1.75" fill="#fff" stroke="#1a1a1a" stroke-width="0.95"/>
<circle cx="439.7" cy="97.7" r="1.75" fill="#fff" stroke="#1a1a1a" stroke-width="0.95"/>
<circle cx="452.7" cy="90.6" r="1.75" fill="#fff" stroke="#1a1a1a" stroke-width="0.95"/>
<circle cx="465.7" cy="72.23" r="1.75" fill="#fff" stroke="#1a1a1a" stroke-width="0.95"/>
<circle cx="478.7" cy="48.99" r="1.75" fill="#fff" stroke="#1a1a1a" stroke-width="0.95"/>
<circle cx="491.7" cy="17.39" r="1.75" fill="#fff" stroke="#1a1a1a" stroke-width="0.95"/>
<circle cx="504.7" cy="38.81" r="1.75" fill="#fff" stroke="#1a1a1a" stroke-width="0.95"/>
<rect x="382.8" y="7.1" width="127" height="113" fill="none" stroke="#2a2a2a" stroke-width="1.2"/>
<line x1="387.7" y1="120.1" x2="387.7" y2="118.1" stroke="#2a2a2a" stroke-width="0.9"/>
<line x1="387.7" y1="7.1" x2="387.7" y2="9.1" stroke="#2a2a2a" stroke-width="0.9"/>
<line x1="400.7" y1="120.1" x2="400.7" y2="118.1" stroke="#2a2a2a" stroke-width="0.9"/>
<line x1="400.7" y1="7.1" x2="400.7" y2="9.1" stroke="#2a2a2a" stroke-width="0.9"/>
<line x1="413.7" y1="120.1" x2="413.7" y2="118.1" stroke="#2a2a2a" stroke-width="0.9"/>
<line x1="413.7" y1="7.1" x2="413.7" y2="9.1" stroke="#2a2a2a" stroke-width="0.9"/>
<line x1="426.7" y1="120.1" x2="426.7" y2="118.1" stroke="#2a2a2a" stroke-width="0.9"/>
<line x1="426.7" y1="7.1" x2="426.7" y2="9.1" stroke="#2a2a2a" stroke-width="0.9"/>
<line x1="439.7" y1="120.1" x2="439.7" y2="118.1" stroke="#2a2a2a" stroke-width="0.9"/>
<line x1="439.7" y1="7.1" x2="439.7" y2="9.1" stroke="#2a2a2a" stroke-width="0.9"/>
<line x1="452.7" y1="120.1" x2="452.7" y2="118.1" stroke="#2a2a2a" stroke-width="0.9"/>
<line x1="452.7" y1="7.1" x2="452.7" y2="9.1" stroke="#2a2a2a" stroke-width="0.9"/>
<line x1="465.7" y1="120.1" x2="465.7" y2="118.1" stroke="#2a2a2a" stroke-width="0.9"/>
<line x1="465.7" y1="7.1" x2="465.7" y2="9.1" stroke="#2a2a2a" stroke-width="0.9"/>
<line x1="478.7" y1="120.1" x2="478.7" y2="118.1" stroke="#2a2a2a" stroke-width="0.9"/>
<line x1="478.7" y1="7.1" x2="478.7" y2="9.1" stroke="#2a2a2a" stroke-width="0.9"/>
<line x1="491.7" y1="120.1" x2="491.7" y2="118.1" stroke="#2a2a2a" stroke-width="0.9"/>
<line x1="491.7" y1="7.1" x2="491.7" y2="9.1" stroke="#2a2a2a" stroke-width="0.9"/>
<line x1="504.7" y1="120.1" x2="504.7" y2="118.1" stroke="#2a2a2a" stroke-width="0.9"/>
<line x1="504.7" y1="7.1" x2="504.7" y2="9.1" stroke="#2a2a2a" stroke-width="0.9"/>
<line x1="382.8" y1="115.1" x2="384.8" y2="115.1" stroke="#2a2a2a" stroke-width="0.9"/>
<line x1="509.8" y1="115.1" x2="507.8" y2="115.1" stroke="#2a2a2a" stroke-width="0.9"/>
<line x1="382.8" y1="89.75" x2="384.8" y2="89.75" stroke="#2a2a2a" stroke-width="0.9"/>
<line x1="509.8" y1="89.75" x2="507.8" y2="89.75" stroke="#2a2a2a" stroke-width="0.9"/>
<line x1="382.8" y1="64.4" x2="384.8" y2="64.4" stroke="#2a2a2a" stroke-width="0.9"/>
<line x1="509.8" y1="64.4" x2="507.8" y2="64.4" stroke="#2a2a2a" stroke-width="0.9"/>
<line x1="382.8" y1="39.05" x2="384.8" y2="39.05" stroke="#2a2a2a" stroke-width="0.9"/>
<line x1="509.8" y1="39.05" x2="507.8" y2="39.05" stroke="#2a2a2a" stroke-width="0.9"/>
<line x1="382.8" y1="13.7" x2="384.8" y2="13.7" stroke="#2a2a2a" stroke-width="0.9"/>
<line x1="509.8" y1="13.7" x2="507.8" y2="13.7" stroke="#2a2a2a" stroke-width="0.9"/>
<text x="346.4" y="14.2" font-size="9.8" text-anchor="start" fill="#262626" stroke="#262626" stroke-width="0.1">(c)</text>
<text transform="translate(378.6,17.6) scale(0.92,1)" font-size="10" text-anchor="end" fill="#262626" stroke="#262626" stroke-width="0.1">250</text>
<text transform="translate(378.6,68.3) scale(0.92,1)" font-size="10" text-anchor="end" fill="#262626" stroke="#262626" stroke-width="0.1">125</text>
<text transform="translate(378.6,119) scale(0.92,1)" font-size="10" text-anchor="end" fill="#262626" stroke="#262626" stroke-width="0.1">0</text>
<text transform="translate(388.1,132.7) scale(0.92,1)" font-size="10" text-anchor="middle" fill="#262626" stroke="#262626" stroke-width="0.1">0</text>
<text transform="translate(414.1,132.7) scale(0.92,1)" font-size="10" text-anchor="middle" fill="#262626" stroke="#262626" stroke-width="0.1">100</text>
<text transform="translate(440.1,132.7) scale(0.92,1)" font-size="10" text-anchor="middle" fill="#262626" stroke="#262626" stroke-width="0.1">200</text>
<text transform="translate(466.1,132.7) scale(0.92,1)" font-size="10" text-anchor="middle" fill="#262626" stroke="#262626" stroke-width="0.1">300</text>
<text transform="translate(492.1,132.7) scale(0.92,1)" font-size="10" text-anchor="middle" fill="#262626" stroke="#262626" stroke-width="0.1">400</text>
<text x="446.5" y="145.6" font-size="10.4" text-anchor="middle" fill="#262626" stroke="#262626" stroke-width="0.1"><tspan font-style="italic">T</tspan><tspan font-size="6.4" dy="2.6">ann</tspan><tspan dy="-2.6"> (<tspan font-size="6.2" dy="-3.4">o</tspan><tspan dy="3.4">C)</tspan></tspan></text>
<text x="0" y="0" font-size="10.4" text-anchor="middle" fill="#262626" stroke="#262626" stroke-width="0.1" transform="translate(360.3,63.0) rotate(-90)">TMR (%)</text>
<line x1="392.8" y1="22.8" x2="411.7" y2="22.8" stroke="#1a1a1a" stroke-width="1.1"/>
<circle cx="402.25" cy="22.8" r="1.75" fill="#fff" stroke="#1a1a1a" stroke-width="1.2"/>
<text x="417" y="24.9" font-size="8.5" text-anchor="start" fill="#262626" stroke="#262626" stroke-width="0.1">Ta-capped</text>
<line x1="392.8" y1="34.4" x2="411.7" y2="34.4" stroke="#e8141c" stroke-width="1.1"/>
<circle cx="402.25" cy="34.4" r="1.75" fill="#fff" stroke="#e8141c" stroke-width="1.2"/>
<text x="417" y="36.5" font-size="8.5" text-anchor="start" fill="#262626" stroke="#262626" stroke-width="0.1">W-capped</text>
<line x1="40.4" y1="225" x2="167.6" y2="225" stroke="#1e1e1e" stroke-width="1.25" stroke-dasharray="4.6,2.3"/>
<line x1="103.8" y1="167.6" x2="103.8" y2="282.3" stroke="#1e1e1e" stroke-width="1.25" stroke-dasharray="4.6,2.3"/>
<path d="M167.6,182.39 L102.35,182.39 L102.16,184.96 L101.9,218.14 L101.46,219.85 L96.37,220.14 L91.28,220.42 L88.74,220.88 L86.83,221.85 L84.98,223.28 L83.65,229.58 L82.63,238.16 L82.19,250.74 L81.99,260.46 L81.61,263.9 L80.47,265.9 L77.29,266.76 L40.4,267.04" fill="none" stroke="#1a1a1a" stroke-width="0.8"/>
<defs><g id="m9"><circle cx="167.6" cy="182.61" r="1.55"/><circle cx="166.96" cy="182.16" r="1.55"/><circle cx="166.32" cy="181.99" r="1.55"/><circle cx="165.68" cy="181.97" r="1.55"/><circle cx="165.04" cy="182.43" r="1.55"/><circle cx="164.4" cy="182.23" r="1.55"/><circle cx="163.76" cy="182.82" r="1.55"/><circle cx="163.12" cy="182.73" r="1.55"/><circle cx="162.48" cy="182.83" r="1.55"/><circle cx="161.84" cy="182.17" r="1.55"/><circle cx="161.2" cy="182.01" r="1.55"/><circle cx="160.56" cy="182.02" r="1.55"/><circle cx="159.92" cy="182.38" r="1.55"/><circle cx="159.28" cy="182.57" r="1.55"/><circle cx="158.64" cy="182.34" r="1.55"/><circle cx="158" cy="182.15" r="1.55"/><circle cx="157.36" cy="182.31" r="1.55"/><circle cx="156.72" cy="182.49" r="1.55"/><circle cx="156.08" cy="182.54" r="1.55"/><circle cx="155.44" cy="182.61" r="1.55"/><circle cx="154.8" cy="182.7" r="1.55"/><circle cx="154.16" cy="182.53" r="1.55"/><circle cx="153.52" cy="182.05" r="1.55"/><circle cx="152.88" cy="182.69" r="1.55"/><circle cx="152.24" cy="182.2" r="1.55"/><circle cx="151.6" cy="182.45" r="1.55"/><circle cx="150.96" cy="182.27" r="1.55"/><circle cx="150.32" cy="182.6" r="1.55"/><circle cx="149.68" cy="182.12" r="1.55"/><circle cx="149.04" cy="182.16" r="1.55"/><circle cx="148.4" cy="182.16" r="1.55"/><circle cx="147.76" cy="182.07" r="1.55"/><circle cx="147.12" cy="182.73" r="1.55"/><circle cx="146.48" cy="182.46" r="1.55"/><circle cx="145.84" cy="182.23" r="1.55"/><circle cx="145.2" cy="182.29" r="1.55"/><circle cx="144.56" cy="182.83" r="1.55"/><circle cx="143.92" cy="182.39" r="1.55"/><circle cx="143.28" cy="182.14" r="1.55"/><circle cx="142.64" cy="182.66" r="1.55"/><circle cx="142" cy="182.52" r="1.55"/><circle cx="141.36" cy="182.83" r="1.55"/><circle cx="140.72" cy="182.03" r="1.55"/><circle cx="140.08" cy="182.36" r="1.55"/><circle cx="139.44" cy="182.67" r="1.55"/><circle cx="138.8" cy="182.69" r="1.55"/><circle cx="138.16" cy="182.76" r="1.55"/><circle cx="137.52" cy="181.97" r="1.55"/><circle cx="136.88" cy="182.2" r="1.55"/><circle cx="136.24" cy="182.04" r="1.55"/><circle cx="135.6" cy="182.11" r="1.55"/><circle cx="134.96" cy="182.81" r="1.55"/><circle cx="134.32" cy="182.46" r="1.55"/><circle cx="133.68" cy="182.77" r="1.55"/><circle cx="133.04" cy="182.27" r="1.55"/><circle cx="132.4" cy="182.72" r="1.55"/><circle cx="131.76" cy="182.34" r="1.55"/><circle cx="131.12" cy="182.17" r="1.55"/><circle cx="130.48" cy="182.64" r="1.55"/><circle cx="129.84" cy="182.79" r="1.55"/><circle cx="129.2" cy="182.03" r="1.55"/><circle cx="128.56" cy="182.47" r="1.55"/><circle cx="127.92" cy="182.49" r="1.55"/><circle cx="127.28" cy="182.13" r="1.55"/><circle cx="126.64" cy="182.27" r="1.55"/><circle cx="126" cy="182.06" r="1.55"/><circle cx="125.36" cy="182.12" r="1.55"/><circle cx="124.72" cy="182.17" r="1.55"/><circle cx="124.08" cy="182.48" r="1.55"/><circle cx="123.44" cy="182.52" r="1.55"/><circle cx="122.8" cy="182.12" r="1.55"/><circle cx="122.16" cy="181.95" r="1.55"/><circle cx="121.52" cy="182.23" r="1.55"/><circle cx="120.88" cy="182.55" r="1.55"/><circle cx="120.24" cy="182.1" r="1.55"/><circle cx="119.6" cy="182.22" r="1.55"/><circle cx="118.96" cy="182.12" r="1.55"/><circle cx="118.32" cy="182.65" r="1.55"/><circle cx="117.68" cy="182.43" r="1.55"/><circle cx="117.04" cy="181.99" r="1.55"/><circle cx="116.4" cy="182.03" r="1.55"/><circle cx="115.76" cy="182.29" r="1.55"/><circle cx="115.12" cy="182.43" r="1.55"/><circle cx="114.48" cy="182.51" r="1.55"/><circle cx="113.84" cy="182.02" r="1.55"/><circle cx="113.2" cy="182.08" r="1.55"/><circle cx="112.56" cy="182.56" r="1.55"/><circle cx="111.92" cy="182.3" r="1.55"/><circle cx="111.28" cy="182.19" r="1.55"/><circle cx="110.64" cy="182.21" r="1.55"/><circle cx="110" cy="182.79" r="1.55"/><circle cx="109.36" cy="182.22" r="1.55"/><circle cx="108.72" cy="182.45" r="1.55"/><circle cx="108.08" cy="182.26" r="1.55"/><circle cx="107.44" cy="182.31" r="1.55"/><circle cx="106.8" cy="182.71" r="1.55"/><circle cx="106.16" cy="182.83" r="1.55"/><circle cx="105.52" cy="182.26" r="1.55"/><circle cx="104.88" cy="182.11" r="1.55"/><circle cx="104.24" cy="182.59" r="1.55"/><circle cx="103.6" cy="182.12" r="1.55"/><circle cx="102.96" cy="181.94" r="1.55"/><circle cx="102.32" cy="183.1" r="1.55"/><circle cx="102.03" cy="201.24" r="1.55"/><circle cx="101.75" cy="219" r="1.55"/><circle cx="101.11" cy="219.79" r="1.55"/><circle cx="100.47" cy="220.25" r="1.55"/><circle cx="99.83" cy="219.91" r="1.55"/><circle cx="99.19" cy="219.68" r="1.55"/><circle cx="98.55" cy="219.58" r="1.55"/><circle cx="97.91" cy="220.1" r="1.55"/><circle cx="97.27" cy="220.21" r="1.55"/><circle cx="96.63" cy="220.49" r="1.55"/><circle cx="95.99" cy="219.79" r="1.55"/><circle cx="95.35" cy="220.31" r="1.55"/><circle cx="94.71" cy="220.11" r="1.55"/><circle cx="94.07" cy="220.27" r="1.55"/><circle cx="93.43" cy="219.98" r="1.55"/><circle cx="92.79" cy="220.14" r="1.55"/><circle cx="92.15" cy="220.39" r="1.55"/><circle cx="91.51" cy="220.79" r="1.55"/><circle cx="90.87" cy="220.15" r="1.55"/><circle cx="90.23" cy="220.6" r="1.55"/><circle cx="89.59" cy="221" r="1.55"/><circle cx="88.95" cy="221.26" r="1.55"/><circle cx="88.31" cy="220.83" r="1.55"/><circle cx="87.67" cy="221.09" r="1.55"/><circle cx="87.03" cy="222.15" r="1.55"/><circle cx="86.39" cy="222.62" r="1.55"/><circle cx="85.75" cy="222.67" r="1.55"/><circle cx="85.11" cy="222.78" r="1.55"/><circle cx="84.47" cy="226.08" r="1.55"/><circle cx="83.83" cy="228.61" r="1.55"/><circle cx="83.22" cy="233.51" r="1.55"/><circle cx="82.63" cy="238.26" r="1.55"/><circle cx="82.45" cy="243.44" r="1.55"/><circle cx="82.28" cy="247.84" r="1.55"/><circle cx="82.14" cy="253.41" r="1.55"/><circle cx="82.04" cy="257.9" r="1.55"/><circle cx="81.7" cy="263.06" r="1.55"/><circle cx="81.07" cy="265.16" r="1.55"/><circle cx="80.43" cy="266.2" r="1.55"/><circle cx="79.79" cy="265.8" r="1.55"/><circle cx="79.15" cy="266" r="1.55"/><circle cx="78.51" cy="266.34" r="1.55"/><circle cx="77.87" cy="266.62" r="1.55"/><circle cx="77.23" cy="266.65" r="1.55"/><circle cx="76.59" cy="266.42" r="1.55"/><circle cx="75.95" cy="266.54" r="1.55"/><circle cx="75.31" cy="266.97" r="1.55"/><circle cx="74.67" cy="267.13" r="1.55"/><circle cx="74.03" cy="266.37" r="1.55"/><circle cx="73.39" cy="266.84" r="1.55"/><circle cx="72.75" cy="267.02" r="1.55"/><circle cx="72.11" cy="266.38" r="1.55"/><circle cx="71.47" cy="267.11" r="1.55"/><circle cx="70.83" cy="266.46" r="1.55"/><circle cx="70.19" cy="266.9" r="1.55"/><circle cx="69.55" cy="266.86" r="1.55"/><circle cx="68.91" cy="266.94" r="1.55"/><circle cx="68.27" cy="266.65" r="1.55"/><circle cx="67.63" cy="266.76" r="1.55"/><circle cx="66.99" cy="266.91" r="1.55"/><circle cx="66.35" cy="266.77" r="1.55"/><circle cx="65.71" cy="266.99" r="1.55"/><circle cx="65.07" cy="266.8" r="1.55"/><circle cx="64.43" cy="266.8" r="1.55"/><circle cx="63.79" cy="266.43" r="1.55"/><circle cx="63.15" cy="266.97" r="1.55"/><circle cx="62.51" cy="266.86" r="1.55"/><circle cx="61.87" cy="266.64" r="1.55"/><circle cx="61.23" cy="267.12" r="1.55"/><circle cx="60.59" cy="267.14" r="1.55"/><circle cx="59.95" cy="266.85" r="1.55"/><circle cx="59.31" cy="266.61" r="1.55"/><circle cx="58.67" cy="266.88" r="1.55"/><circle cx="58.03" cy="266.55" r="1.55"/><circle cx="57.39" cy="266.58" r="1.55"/><circle cx="56.75" cy="266.85" r="1.55"/><circle cx="56.11" cy="266.55" r="1.55"/><circle cx="55.47" cy="266.87" r="1.55"/><circle cx="54.83" cy="266.94" r="1.55"/><circle cx="54.19" cy="266.52" r="1.55"/><circle cx="53.55" cy="267.06" r="1.55"/><circle cx="52.91" cy="266.57" r="1.55"/><circle cx="52.27" cy="267.16" r="1.55"/><circle cx="51.63" cy="267.2" r="1.55"/><circle cx="50.99" cy="266.97" r="1.55"/><circle cx="50.35" cy="266.56" r="1.55"/><circle cx="49.71" cy="266.97" r="1.55"/><circle cx="49.07" cy="266.86" r="1.55"/><circle cx="48.43" cy="267.39" r="1.55"/><circle cx="47.79" cy="266.66" r="1.55"/><circle cx="47.15" cy="267.31" r="1.55"/><circle cx="46.51" cy="267.44" r="1.55"/><circle cx="45.87" cy="267.21" r="1.55"/><circle cx="45.23" cy="267.29" r="1.55"/><circle cx="44.59" cy="266.73" r="1.55"/><circle cx="43.95" cy="267.45" r="1.55"/><circle cx="43.31" cy="267.01" r="1.55"/><circle cx="42.67" cy="267.44" r="1.55"/><circle cx="42.03" cy="267.4" r="1.55"/><circle cx="41.39" cy="266.73" r="1.55"/><circle cx="40.75" cy="267.3" r="1.55"/></g></defs>
<use href="#m9" fill="#fff"/>
<use href="#m9" fill="none" stroke="#1a1a1a" stroke-width="1"/>
<circle cx="40.75" cy="267.3" r="1.55" fill="#fff" stroke="#1a1a1a" stroke-width="1"/>
<path d="M40.4,267.04 L97.32,266.76 L98.4,265.04 L98.78,259.32 L99.23,242.16 L99.61,225 L99.93,222.14 L100.82,220.42 L102.86,219.57 L103.17,213.56 L103.43,184.96 L103.87,182.67 L167.6,182.39" fill="none" stroke="#1a1a1a" stroke-width="0.8"/>
<defs><g id="m10"><circle cx="40.4" cy="267.43" r="1.55"/><circle cx="41.04" cy="266.65" r="1.55"/><circle cx="41.68" cy="266.9" r="1.55"/><circle cx="42.32" cy="267.26" r="1.55"/><circle cx="42.96" cy="266.72" r="1.55"/><circle cx="43.6" cy="267.38" r="1.55"/><circle cx="44.24" cy="266.82" r="1.55"/><circle cx="44.88" cy="267.3" r="1.55"/><circle cx="45.52" cy="266.7" r="1.55"/><circle cx="46.16" cy="267.02" r="1.55"/><circle cx="46.8" cy="267.39" r="1.55"/><circle cx="47.44" cy="266.74" r="1.55"/><circle cx="48.08" cy="266.79" r="1.55"/><circle cx="48.72" cy="267.01" r="1.55"/><circle cx="49.36" cy="266.83" r="1.55"/><circle cx="50" cy="266.58" r="1.55"/><circle cx="50.64" cy="266.7" r="1.55"/><circle cx="51.28" cy="266.68" r="1.55"/><circle cx="51.92" cy="267.38" r="1.55"/><circle cx="52.56" cy="267.14" r="1.55"/><circle cx="53.2" cy="267.33" r="1.55"/><circle cx="53.84" cy="266.68" r="1.55"/><circle cx="54.48" cy="267.23" r="1.55"/><circle cx="55.12" cy="266.62" r="1.55"/><circle cx="55.76" cy="266.99" r="1.55"/><circle cx="56.4" cy="267.08" r="1.55"/><circle cx="57.04" cy="266.83" r="1.55"/><circle cx="57.68" cy="267.29" r="1.55"/><circle cx="58.32" cy="267" r="1.55"/><circle cx="58.96" cy="267.02" r="1.55"/><circle cx="59.6" cy="267.29" r="1.55"/><circle cx="60.24" cy="266.59" r="1.55"/><circle cx="60.88" cy="267.38" r="1.55"/><circle cx="61.52" cy="267.05" r="1.55"/><circle cx="62.16" cy="266.84" r="1.55"/><circle cx="62.8" cy="267.2" r="1.55"/><circle cx="63.44" cy="266.71" r="1.55"/><circle cx="64.08" cy="267.36" r="1.55"/><circle cx="64.72" cy="266.99" r="1.55"/><circle cx="65.36" cy="266.79" r="1.55"/><circle cx="66" cy="267.15" r="1.55"/><circle cx="66.64" cy="266.86" r="1.55"/><circle cx="67.28" cy="266.62" r="1.55"/><circle cx="67.92" cy="267.12" r="1.55"/><circle cx="68.56" cy="266.49" r="1.55"/><circle cx="69.2" cy="267.19" r="1.55"/><circle cx="69.84" cy="266.67" r="1.55"/><circle cx="70.48" cy="267.02" r="1.55"/><circle cx="71.12" cy="267.32" r="1.55"/><circle cx="71.76" cy="266.96" r="1.55"/><circle cx="72.4" cy="267.03" r="1.55"/><circle cx="73.04" cy="266.71" r="1.55"/><circle cx="73.68" cy="266.43" r="1.55"/><circle cx="74.32" cy="266.45" r="1.55"/><circle cx="74.96" cy="266.55" r="1.55"/><circle cx="75.6" cy="266.97" r="1.55"/><circle cx="76.24" cy="266.8" r="1.55"/><circle cx="76.88" cy="266.87" r="1.55"/><circle cx="77.52" cy="267.21" r="1.55"/><circle cx="78.16" cy="266.52" r="1.55"/><circle cx="78.8" cy="266.6" r="1.55"/><circle cx="79.44" cy="266.98" r="1.55"/><circle cx="80.08" cy="266.41" r="1.55"/><circle cx="80.72" cy="266.39" r="1.55"/><circle cx="81.36" cy="266.71" r="1.55"/><circle cx="82" cy="266.48" r="1.55"/><circle cx="82.64" cy="266.7" r="1.55"/><circle cx="83.28" cy="266.58" r="1.55"/><circle cx="83.92" cy="266.9" r="1.55"/><circle cx="84.56" cy="266.9" r="1.55"/><circle cx="85.2" cy="266.55" r="1.55"/><circle cx="85.84" cy="266.93" r="1.55"/><circle cx="86.48" cy="266.79" r="1.55"/><circle cx="87.12" cy="266.48" r="1.55"/><circle cx="87.76" cy="267.2" r="1.55"/><circle cx="88.4" cy="266.57" r="1.55"/><circle cx="89.04" cy="266.48" r="1.55"/><circle cx="89.68" cy="266.43" r="1.55"/><circle cx="90.32" cy="266.92" r="1.55"/><circle cx="90.96" cy="267.12" r="1.55"/><circle cx="91.6" cy="267.04" r="1.55"/><circle cx="92.24" cy="266.69" r="1.55"/><circle cx="92.88" cy="266.57" r="1.55"/><circle cx="93.52" cy="266.34" r="1.55"/><circle cx="94.16" cy="266.9" r="1.55"/><circle cx="94.8" cy="266.82" r="1.55"/><circle cx="95.44" cy="266.63" r="1.55"/><circle cx="96.08" cy="266.89" r="1.55"/><circle cx="96.72" cy="266.71" r="1.55"/><circle cx="97.36" cy="267.09" r="1.55"/><circle cx="98" cy="265.89" r="1.55"/><circle cx="98.55" cy="262.59" r="1.55"/><circle cx="98.85" cy="257.18" r="1.55"/><circle cx="99.01" cy="250.41" r="1.55"/><circle cx="99.16" cy="244.85" r="1.55"/><circle cx="99.3" cy="238.74" r="1.55"/><circle cx="99.44" cy="232.58" r="1.55"/><circle cx="99.57" cy="226.42" r="1.55"/><circle cx="100.06" cy="222.14" r="1.55"/><circle cx="100.7" cy="220.22" r="1.55"/><circle cx="101.34" cy="220.25" r="1.55"/><circle cx="101.98" cy="220.33" r="1.55"/><circle cx="102.62" cy="219.34" r="1.55"/><circle cx="103.2" cy="210.39" r="1.55"/><circle cx="103.39" cy="188.76" r="1.55"/><circle cx="103.96" cy="182.68" r="1.55"/><circle cx="104.6" cy="182.8" r="1.55"/><circle cx="105.24" cy="182.95" r="1.55"/><circle cx="105.88" cy="182.37" r="1.55"/><circle cx="106.52" cy="182.49" r="1.55"/><circle cx="107.16" cy="182.48" r="1.55"/><circle cx="107.8" cy="182.25" r="1.55"/><circle cx="108.44" cy="183" r="1.55"/><circle cx="109.08" cy="182.9" r="1.55"/><circle cx="109.72" cy="182.84" r="1.55"/><circle cx="110.36" cy="182.2" r="1.55"/><circle cx="111" cy="182.95" r="1.55"/><circle cx="111.64" cy="182.86" r="1.55"/><circle cx="112.28" cy="182.6" r="1.55"/><circle cx="112.92" cy="182.85" r="1.55"/><circle cx="113.56" cy="182.59" r="1.55"/><circle cx="114.2" cy="182.38" r="1.55"/><circle cx="114.84" cy="182.27" r="1.55"/><circle cx="115.48" cy="182.38" r="1.55"/><circle cx="116.12" cy="182.2" r="1.55"/><circle cx="116.76" cy="182.47" r="1.55"/><circle cx="117.4" cy="182.84" r="1.55"/><circle cx="118.04" cy="182.78" r="1.55"/><circle cx="118.68" cy="182.92" r="1.55"/><circle cx="119.32" cy="182.79" r="1.55"/><circle cx="119.96" cy="182.39" r="1.55"/><circle cx="120.6" cy="182.65" r="1.55"/><circle cx="121.24" cy="182.54" r="1.55"/><circle cx="121.88" cy="182.85" r="1.55"/><circle cx="122.52" cy="182.61" r="1.55"/><circle cx="123.16" cy="182.37" r="1.55"/><circle cx="123.8" cy="182.71" r="1.55"/><circle cx="124.44" cy="183" r="1.55"/><circle cx="125.08" cy="182.32" r="1.55"/><circle cx="125.72" cy="182.92" r="1.55"/><circle cx="126.36" cy="182.13" r="1.55"/><circle cx="127" cy="182.35" r="1.55"/><circle cx="127.64" cy="182.33" r="1.55"/><circle cx="128.28" cy="182.78" r="1.55"/><circle cx="128.92" cy="182.96" r="1.55"/><circle cx="129.56" cy="182.78" r="1.55"/><circle cx="130.2" cy="182.4" r="1.55"/><circle cx="130.84" cy="182.89" r="1.55"/><circle cx="131.48" cy="182.39" r="1.55"/><circle cx="132.12" cy="182.31" r="1.55"/><circle cx="132.76" cy="182.91" r="1.55"/><circle cx="133.4" cy="182.66" r="1.55"/><circle cx="134.04" cy="182.71" r="1.55"/><circle cx="134.68" cy="182.68" r="1.55"/><circle cx="135.32" cy="182.96" r="1.55"/><circle cx="135.96" cy="182.5" r="1.55"/><circle cx="136.6" cy="182.83" r="1.55"/><circle cx="137.24" cy="182.7" r="1.55"/><circle cx="137.88" cy="182.84" r="1.55"/><circle cx="138.52" cy="182.46" r="1.55"/><circle cx="139.16" cy="182.72" r="1.55"/><circle cx="139.8" cy="182.57" r="1.55"/><circle cx="140.44" cy="182.33" r="1.55"/><circle cx="141.08" cy="182.25" r="1.55"/><circle cx="141.72" cy="182.61" r="1.55"/><circle cx="142.36" cy="182.12" r="1.55"/><circle cx="143" cy="182.87" r="1.55"/><circle cx="143.64" cy="182.17" r="1.55"/><circle cx="144.28" cy="182.06" r="1.55"/><circle cx="144.92" cy="182.13" r="1.55"/><circle cx="145.56" cy="182.87" r="1.55"/><circle cx="146.2" cy="182.34" r="1.55"/><circle cx="146.84" cy="182.16" r="1.55"/><circle cx="147.48" cy="182.05" r="1.55"/><circle cx="148.12" cy="182.06" r="1.55"/><circle cx="148.76" cy="182.64" r="1.55"/><circle cx="149.4" cy="182.59" r="1.55"/><circle cx="150.04" cy="182.64" r="1.55"/><circle cx="150.68" cy="182.68" r="1.55"/><circle cx="151.32" cy="182.07" r="1.55"/><circle cx="151.96" cy="182.54" r="1.55"/><circle cx="152.6" cy="182.33" r="1.55"/><circle cx="153.24" cy="182.74" r="1.55"/><circle cx="153.88" cy="182.74" r="1.55"/><circle cx="154.52" cy="182.8" r="1.55"/><circle cx="155.16" cy="182.05" r="1.55"/><circle cx="155.8" cy="182.77" r="1.55"/><circle cx="156.44" cy="182.81" r="1.55"/><circle cx="157.08" cy="182.83" r="1.55"/><circle cx="157.72" cy="182.08" r="1.55"/><circle cx="158.36" cy="182.16" r="1.55"/><circle cx="159" cy="182.08" r="1.55"/><circle cx="159.64" cy="182" r="1.55"/><circle cx="160.28" cy="182.73" r="1.55"/><circle cx="160.92" cy="182.7" r="1.55"/><circle cx="161.56" cy="182.53" r="1.55"/><circle cx="162.2" cy="182.7" r="1.55"/><circle cx="162.84" cy="182.53" r="1.55"/><circle cx="163.48" cy="182.21" r="1.55"/><circle cx="164.12" cy="182.04" r="1.55"/><circle cx="164.76" cy="182.04" r="1.55"/><circle cx="165.4" cy="182.63" r="1.55"/><circle cx="166.04" cy="182.13" r="1.55"/><circle cx="166.68" cy="182.23" r="1.55"/><circle cx="167.32" cy="182.32" r="1.55"/></g></defs>
<use href="#m10" fill="#fff"/>
<use href="#m10" fill="none" stroke="#1a1a1a" stroke-width="1"/>
<circle cx="167.32" cy="182.32" r="1.55" fill="#fff" stroke="#1a1a1a" stroke-width="1"/>
<path d="M167.6,182.1 L102.54,182.1 L102.35,184.96 L102.09,213.56 L101.71,215.85 L100.2,215.96 L98.69,216.08 L97.18,216.21 L95.67,216.35 L94.16,216.51 L92.65,216.71 L91.14,216.96 L89.63,217.56 L88.39,221 L87.72,234.72 L87.15,247.88 L86.76,263.32 L85.81,267.33 L40.4,267.9" fill="none" stroke="#e8141c" stroke-width="0.8"/>
<defs><g id="m11"><circle cx="167.6" cy="181.67" r="1.55"/><circle cx="166.96" cy="181.88" r="1.55"/><circle cx="166.32" cy="181.9" r="1.55"/><circle cx="165.68" cy="182.29" r="1.55"/><circle cx="165.04" cy="181.98" r="1.55"/><circle cx="164.4" cy="181.94" r="1.55"/><circle cx="163.76" cy="182.52" r="1.55"/><circle cx="163.12" cy="182.1" r="1.55"/><circle cx="162.48" cy="182.42" r="1.55"/><circle cx="161.84" cy="182.21" r="1.55"/><circle cx="161.2" cy="181.68" r="1.55"/><circle cx="160.56" cy="182.02" r="1.55"/><circle cx="159.92" cy="182.04" r="1.55"/><circle cx="159.28" cy="182.35" r="1.55"/><circle cx="158.64" cy="181.96" r="1.55"/><circle cx="158" cy="182.28" r="1.55"/><circle cx="157.36" cy="182.13" r="1.55"/><circle cx="156.72" cy="181.84" r="1.55"/><circle cx="156.08" cy="182.43" r="1.55"/><circle cx="155.44" cy="181.73" r="1.55"/><circle cx="154.8" cy="182.39" r="1.55"/><circle cx="154.16" cy="181.8" r="1.55"/><circle cx="153.52" cy="181.65" r="1.55"/><circle cx="152.88" cy="181.83" r="1.55"/><circle cx="152.24" cy="182.34" r="1.55"/><circle cx="151.6" cy="182.53" r="1.55"/><circle cx="150.96" cy="181.65" r="1.55"/><circle cx="150.32" cy="182.09" r="1.55"/><circle cx="149.68" cy="182.09" r="1.55"/><circle cx="149.04" cy="182.37" r="1.55"/><circle cx="148.4" cy="181.82" r="1.55"/><circle cx="147.76" cy="182.1" r="1.55"/><circle cx="147.12" cy="181.96" r="1.55"/><circle cx="146.48" cy="182.4" r="1.55"/><circle cx="145.84" cy="181.88" r="1.55"/><circle cx="145.2" cy="182.5" r="1.55"/><circle cx="144.56" cy="181.91" r="1.55"/><circle cx="143.92" cy="181.84" r="1.55"/><circle cx="143.28" cy="182.28" r="1.55"/><circle cx="142.64" cy="182.1" r="1.55"/><circle cx="142" cy="181.75" r="1.55"/><circle cx="141.36" cy="182.22" r="1.55"/><circle cx="140.72" cy="181.72" r="1.55"/><circle cx="140.08" cy="182.36" r="1.55"/><circle cx="139.44" cy="182.28" r="1.55"/><circle cx="138.8" cy="182.36" r="1.55"/><circle cx="138.16" cy="182.22" r="1.55"/><circle cx="137.52" cy="181.97" r="1.55"/><circle cx="136.88" cy="182.01" r="1.55"/><circle cx="136.24" cy="182.01" r="1.55"/><circle cx="135.6" cy="182.45" r="1.55"/><circle cx="134.96" cy="181.73" r="1.55"/><circle cx="134.32" cy="182.45" r="1.55"/><circle cx="133.68" cy="181.67" r="1.55"/><circle cx="133.04" cy="181.84" r="1.55"/><circle cx="132.4" cy="181.89" r="1.55"/><circle cx="131.76" cy="182.46" r="1.55"/><circle cx="131.12" cy="182.1" r="1.55"/><circle cx="130.48" cy="181.99" r="1.55"/><circle cx="129.84" cy="182.45" r="1.55"/><circle cx="129.2" cy="181.86" r="1.55"/><circle cx="128.56" cy="182.06" r="1.55"/><circle cx="127.92" cy="182.13" r="1.55"/><circle cx="127.28" cy="182.33" r="1.55"/><circle cx="126.64" cy="182.33" r="1.55"/><circle cx="126" cy="182.23" r="1.55"/><circle cx="125.36" cy="181.96" r="1.55"/><circle cx="124.72" cy="181.94" r="1.55"/><circle cx="124.08" cy="181.79" r="1.55"/><circle cx="123.44" cy="182.41" r="1.55"/><circle cx="122.8" cy="182.25" r="1.55"/><circle cx="122.16" cy="182.32" r="1.55"/><circle cx="121.52" cy="181.8" r="1.55"/><circle cx="120.88" cy="182.04" r="1.55"/><circle cx="120.24" cy="182.35" r="1.55"/><circle cx="119.6" cy="182.17" r="1.55"/><circle cx="118.96" cy="181.76" r="1.55"/><circle cx="118.32" cy="182.07" r="1.55"/><circle cx="117.68" cy="182.45" r="1.55"/><circle cx="117.04" cy="181.86" r="1.55"/><circle cx="116.4" cy="181.82" r="1.55"/><circle cx="115.76" cy="181.92" r="1.55"/><circle cx="115.12" cy="182.28" r="1.55"/><circle cx="114.48" cy="182.41" r="1.55"/><circle cx="113.84" cy="181.79" r="1.55"/><circle cx="113.2" cy="181.79" r="1.55"/><circle cx="112.56" cy="181.87" r="1.55"/><circle cx="111.92" cy="181.94" r="1.55"/><circle cx="111.28" cy="182.12" r="1.55"/><circle cx="110.64" cy="181.79" r="1.55"/><circle cx="110" cy="181.95" r="1.55"/><circle cx="109.36" cy="181.82" r="1.55"/><circle cx="108.72" cy="182.53" r="1.55"/><circle cx="108.08" cy="182.31" r="1.55"/><circle cx="107.44" cy="181.74" r="1.55"/><circle cx="106.8" cy="182.52" r="1.55"/><circle cx="106.16" cy="181.74" r="1.55"/><circle cx="105.52" cy="182" r="1.55"/><circle cx="104.88" cy="182.54" r="1.55"/><circle cx="104.24" cy="182.37" r="1.55"/><circle cx="103.6" cy="182.31" r="1.55"/><circle cx="102.96" cy="182.04" r="1.55"/><circle cx="102.34" cy="185.26" r="1.55"/><circle cx="102.22" cy="199.66" r="1.55"/><circle cx="102.09" cy="213.18" r="1.55"/><circle cx="101.45" cy="215.6" r="1.55"/><circle cx="100.81" cy="215.81" r="1.55"/><circle cx="100.17" cy="215.54" r="1.55"/><circle cx="99.53" cy="215.92" r="1.55"/><circle cx="98.89" cy="216.32" r="1.55"/><circle cx="98.25" cy="216.29" r="1.55"/><circle cx="97.61" cy="216.17" r="1.55"/><circle cx="96.97" cy="216.35" r="1.55"/><circle cx="96.33" cy="216.25" r="1.55"/><circle cx="95.69" cy="216.03" r="1.55"/><circle cx="95.05" cy="216.51" r="1.55"/><circle cx="94.41" cy="216.4" r="1.55"/><circle cx="93.77" cy="216.78" r="1.55"/><circle cx="93.13" cy="217.01" r="1.55"/><circle cx="92.49" cy="216.67" r="1.55"/><circle cx="91.85" cy="216.9" r="1.55"/><circle cx="91.21" cy="217.17" r="1.55"/><circle cx="90.57" cy="217.11" r="1.55"/><circle cx="89.93" cy="217.2" r="1.55"/><circle cx="89.29" cy="218.69" r="1.55"/><circle cx="88.65" cy="220.6" r="1.55"/><circle cx="88.01" cy="228.91" r="1.55"/><circle cx="87.37" cy="242.84" r="1.55"/><circle cx="86.73" cy="263.77" r="1.55"/><circle cx="86.09" cy="266.3" r="1.55"/><circle cx="85.45" cy="267.46" r="1.55"/><circle cx="84.81" cy="267.3" r="1.55"/><circle cx="84.17" cy="267.18" r="1.55"/><circle cx="83.53" cy="267.47" r="1.55"/><circle cx="82.89" cy="267" r="1.55"/><circle cx="82.25" cy="267.3" r="1.55"/><circle cx="81.61" cy="267.64" r="1.55"/><circle cx="80.97" cy="267.58" r="1.55"/><circle cx="80.33" cy="267.51" r="1.55"/><circle cx="79.69" cy="267.18" r="1.55"/><circle cx="79.05" cy="267.34" r="1.55"/><circle cx="78.41" cy="267.38" r="1.55"/><circle cx="77.77" cy="267.54" r="1.55"/><circle cx="77.13" cy="267.36" r="1.55"/><circle cx="76.49" cy="267.6" r="1.55"/><circle cx="75.85" cy="267.84" r="1.55"/><circle cx="75.21" cy="267.18" r="1.55"/><circle cx="74.57" cy="267.61" r="1.55"/><circle cx="73.93" cy="267.73" r="1.55"/><circle cx="73.29" cy="267.39" r="1.55"/><circle cx="72.65" cy="267.48" r="1.55"/><circle cx="72.01" cy="267.93" r="1.55"/><circle cx="71.37" cy="267.09" r="1.55"/><circle cx="70.73" cy="267.56" r="1.55"/><circle cx="70.09" cy="267.22" r="1.55"/><circle cx="69.45" cy="267.79" r="1.55"/><circle cx="68.81" cy="267.94" r="1.55"/><circle cx="68.17" cy="267.57" r="1.55"/><circle cx="67.53" cy="267.2" r="1.55"/><circle cx="66.89" cy="267.63" r="1.55"/><circle cx="66.25" cy="267.61" r="1.55"/><circle cx="65.61" cy="267.78" r="1.55"/><circle cx="64.97" cy="267.6" r="1.55"/><circle cx="64.33" cy="267.72" r="1.55"/><circle cx="63.69" cy="267.9" r="1.55"/><circle cx="63.05" cy="267.63" r="1.55"/><circle cx="62.41" cy="267.54" r="1.55"/><circle cx="61.77" cy="268.03" r="1.55"/><circle cx="61.13" cy="267.38" r="1.55"/><circle cx="60.49" cy="267.81" r="1.55"/><circle cx="59.85" cy="267.56" r="1.55"/><circle cx="59.21" cy="267.9" r="1.55"/><circle cx="58.57" cy="267.33" r="1.55"/><circle cx="57.93" cy="268.12" r="1.55"/><circle cx="57.29" cy="267.56" r="1.55"/><circle cx="56.65" cy="267.3" r="1.55"/><circle cx="56.01" cy="267.5" r="1.55"/><circle cx="55.37" cy="267.62" r="1.55"/><circle cx="54.73" cy="267.28" r="1.55"/><circle cx="54.09" cy="267.65" r="1.55"/><circle cx="53.45" cy="267.66" r="1.55"/><circle cx="52.81" cy="267.92" r="1.55"/><circle cx="52.17" cy="267.62" r="1.55"/><circle cx="51.53" cy="267.55" r="1.55"/><circle cx="50.89" cy="267.52" r="1.55"/><circle cx="50.25" cy="267.99" r="1.55"/><circle cx="49.61" cy="268.18" r="1.55"/><circle cx="48.97" cy="267.82" r="1.55"/><circle cx="48.33" cy="267.55" r="1.55"/><circle cx="47.69" cy="268.08" r="1.55"/><circle cx="47.05" cy="267.72" r="1.55"/><circle cx="46.41" cy="267.57" r="1.55"/><circle cx="45.77" cy="267.5" r="1.55"/><circle cx="45.13" cy="268.09" r="1.55"/><circle cx="44.49" cy="268.13" r="1.55"/><circle cx="43.85" cy="267.98" r="1.55"/><circle cx="43.21" cy="267.84" r="1.55"/><circle cx="42.57" cy="267.93" r="1.55"/><circle cx="41.93" cy="267.63" r="1.55"/><circle cx="41.29" cy="268.31" r="1.55"/><circle cx="40.65" cy="267.76" r="1.55"/></g></defs>
<use href="#m11" fill="#fff"/>
<use href="#m11" fill="none" stroke="#e8141c" stroke-width="1"/>
<circle cx="40.65" cy="267.76" r="1.55" fill="#fff" stroke="#e8141c" stroke-width="1"/>
<path d="M40.4,267.9 L91.85,267.33 L93.06,264.47 L93.44,242.16 L94.08,218.24 L95.67,216.35 L97.18,216.21 L98.69,216.08 L100.2,215.96 L101.71,215.85 L102.98,215.85 L103.36,212.42 L103.62,185.53 L104.13,182.67 L167.6,182.1" fill="none" stroke="#e8141c" stroke-width="0.8"/>
<defs><g id="m12"><circle cx="40.4" cy="268.02" r="1.55"/><circle cx="41.04" cy="268.18" r="1.55"/><circle cx="41.68" cy="268.17" r="1.55"/><circle cx="42.32" cy="267.85" r="1.55"/><circle cx="42.96" cy="267.69" r="1.55"/><circle cx="43.6" cy="267.91" r="1.55"/><circle cx="44.24" cy="267.52" r="1.55"/><circle cx="44.88" cy="268.15" r="1.55"/><circle cx="45.52" cy="267.71" r="1.55"/><circle cx="46.16" cy="268.15" r="1.55"/><circle cx="46.8" cy="267.62" r="1.55"/><circle cx="47.44" cy="267.71" r="1.55"/><circle cx="48.08" cy="267.59" r="1.55"/><circle cx="48.72" cy="267.74" r="1.55"/><circle cx="49.36" cy="267.52" r="1.55"/><circle cx="50" cy="267.35" r="1.55"/><circle cx="50.64" cy="267.99" r="1.55"/><circle cx="51.28" cy="267.58" r="1.55"/><circle cx="51.92" cy="267.54" r="1.55"/><circle cx="52.56" cy="267.59" r="1.55"/><circle cx="53.2" cy="267.74" r="1.55"/><circle cx="53.84" cy="267.69" r="1.55"/><circle cx="54.48" cy="267.87" r="1.55"/><circle cx="55.12" cy="267.88" r="1.55"/><circle cx="55.76" cy="267.61" r="1.55"/><circle cx="56.4" cy="268.11" r="1.55"/><circle cx="57.04" cy="268.03" r="1.55"/><circle cx="57.68" cy="267.31" r="1.55"/><circle cx="58.32" cy="268" r="1.55"/><circle cx="58.96" cy="268.06" r="1.55"/><circle cx="59.6" cy="267.94" r="1.55"/><circle cx="60.24" cy="267.36" r="1.55"/><circle cx="60.88" cy="267.97" r="1.55"/><circle cx="61.52" cy="267.79" r="1.55"/><circle cx="62.16" cy="267.22" r="1.55"/><circle cx="62.8" cy="267.21" r="1.55"/><circle cx="63.44" cy="268.05" r="1.55"/><circle cx="64.08" cy="267.78" r="1.55"/><circle cx="64.72" cy="267.4" r="1.55"/><circle cx="65.36" cy="267.26" r="1.55"/><circle cx="66" cy="267.29" r="1.55"/><circle cx="66.64" cy="267.37" r="1.55"/><circle cx="67.28" cy="267.85" r="1.55"/><circle cx="67.92" cy="267.46" r="1.55"/><circle cx="68.56" cy="267.27" r="1.55"/><circle cx="69.2" cy="267.94" r="1.55"/><circle cx="69.84" cy="267.84" r="1.55"/><circle cx="70.48" cy="267.27" r="1.55"/><circle cx="71.12" cy="267.91" r="1.55"/><circle cx="71.76" cy="267.65" r="1.55"/><circle cx="72.4" cy="267.8" r="1.55"/><circle cx="73.04" cy="267.69" r="1.55"/><circle cx="73.68" cy="267.88" r="1.55"/><circle cx="74.32" cy="267.78" r="1.55"/><circle cx="74.96" cy="267.82" r="1.55"/><circle cx="75.6" cy="267.24" r="1.55"/><circle cx="76.24" cy="267.68" r="1.55"/><circle cx="76.88" cy="267.52" r="1.55"/><circle cx="77.52" cy="267.71" r="1.55"/><circle cx="78.16" cy="267.42" r="1.55"/><circle cx="78.8" cy="267.82" r="1.55"/><circle cx="79.44" cy="267.52" r="1.55"/><circle cx="80.08" cy="267.25" r="1.55"/><circle cx="80.72" cy="267.21" r="1.55"/><circle cx="81.36" cy="267.12" r="1.55"/><circle cx="82" cy="267.43" r="1.55"/><circle cx="82.64" cy="267.03" r="1.55"/><circle cx="83.28" cy="267.39" r="1.55"/><circle cx="83.92" cy="267.1" r="1.55"/><circle cx="84.56" cy="267.4" r="1.55"/><circle cx="85.2" cy="267.4" r="1.55"/><circle cx="85.84" cy="267.43" r="1.55"/><circle cx="86.48" cy="267.71" r="1.55"/><circle cx="87.12" cy="266.94" r="1.55"/><circle cx="87.76" cy="267.68" r="1.55"/><circle cx="88.4" cy="267.34" r="1.55"/><circle cx="89.04" cy="267.42" r="1.55"/><circle cx="89.68" cy="267.5" r="1.55"/><circle cx="90.32" cy="267.65" r="1.55"/><circle cx="90.96" cy="267.23" r="1.55"/><circle cx="91.6" cy="267.26" r="1.55"/><circle cx="92.24" cy="266.83" r="1.55"/><circle cx="92.88" cy="264.51" r="1.55"/><circle cx="93.43" cy="243.07" r="1.55"/><circle cx="94.07" cy="218.84" r="1.55"/><circle cx="94.71" cy="217.07" r="1.55"/><circle cx="95.35" cy="216.83" r="1.55"/><circle cx="95.99" cy="216.48" r="1.55"/><circle cx="96.63" cy="216.65" r="1.55"/><circle cx="97.27" cy="216.05" r="1.55"/><circle cx="97.91" cy="216.58" r="1.55"/><circle cx="98.55" cy="216.1" r="1.55"/><circle cx="99.19" cy="216.02" r="1.55"/><circle cx="99.83" cy="216.35" r="1.55"/><circle cx="100.47" cy="215.52" r="1.55"/><circle cx="101.11" cy="216.09" r="1.55"/><circle cx="101.75" cy="215.96" r="1.55"/><circle cx="102.39" cy="215.7" r="1.55"/><circle cx="103.03" cy="215.78" r="1.55"/><circle cx="103.43" cy="205.7" r="1.55"/><circle cx="103.56" cy="191.79" r="1.55"/><circle cx="103.97" cy="183.57" r="1.55"/><circle cx="104.61" cy="182.91" r="1.55"/><circle cx="105.25" cy="182.4" r="1.55"/><circle cx="105.89" cy="182.6" r="1.55"/><circle cx="106.53" cy="182.58" r="1.55"/><circle cx="107.17" cy="182.69" r="1.55"/><circle cx="107.81" cy="182.93" r="1.55"/><circle cx="108.45" cy="182.45" r="1.55"/><circle cx="109.09" cy="182.92" r="1.55"/><circle cx="109.73" cy="182.53" r="1.55"/><circle cx="110.37" cy="182.62" r="1.55"/><circle cx="111.01" cy="182.4" r="1.55"/><circle cx="111.65" cy="182.61" r="1.55"/><circle cx="112.29" cy="183.03" r="1.55"/><circle cx="112.93" cy="182.73" r="1.55"/><circle cx="113.57" cy="182.85" r="1.55"/><circle cx="114.21" cy="182.43" r="1.55"/><circle cx="114.85" cy="182.41" r="1.55"/><circle cx="115.49" cy="182.39" r="1.55"/><circle cx="116.13" cy="182.64" r="1.55"/><circle cx="116.77" cy="182.68" r="1.55"/><circle cx="117.41" cy="182.81" r="1.55"/><circle cx="118.05" cy="182.13" r="1.55"/><circle cx="118.69" cy="182.74" r="1.55"/><circle cx="119.33" cy="182.88" r="1.55"/><circle cx="119.97" cy="182.57" r="1.55"/><circle cx="120.61" cy="182.12" r="1.55"/><circle cx="121.25" cy="182.34" r="1.55"/><circle cx="121.89" cy="182.07" r="1.55"/><circle cx="122.53" cy="182.23" r="1.55"/><circle cx="123.17" cy="182.88" r="1.55"/><circle cx="123.81" cy="182.59" r="1.55"/><circle cx="124.45" cy="182.63" r="1.55"/><circle cx="125.09" cy="182.74" r="1.55"/><circle cx="125.73" cy="182.85" r="1.55"/><circle cx="126.37" cy="182.57" r="1.55"/><circle cx="127.01" cy="182.57" r="1.55"/><circle cx="127.65" cy="182.57" r="1.55"/><circle cx="128.29" cy="182.63" r="1.55"/><circle cx="128.93" cy="182.54" r="1.55"/><circle cx="129.57" cy="182.61" r="1.55"/><circle cx="130.21" cy="182.18" r="1.55"/><circle cx="130.85" cy="182.58" r="1.55"/><circle cx="131.49" cy="182.39" r="1.55"/><circle cx="132.13" cy="182.66" r="1.55"/><circle cx="132.77" cy="182.06" r="1.55"/><circle cx="133.41" cy="182.12" r="1.55"/><circle cx="134.05" cy="181.99" r="1.55"/><circle cx="134.69" cy="182.64" r="1.55"/><circle cx="135.33" cy="182.76" r="1.55"/><circle cx="135.97" cy="182.53" r="1.55"/><circle cx="136.61" cy="182.26" r="1.55"/><circle cx="137.25" cy="182.66" r="1.55"/><circle cx="137.89" cy="182.63" r="1.55"/><circle cx="138.53" cy="182.42" r="1.55"/><circle cx="139.17" cy="182.14" r="1.55"/><circle cx="139.81" cy="182.17" r="1.55"/><circle cx="140.45" cy="182.27" r="1.55"/><circle cx="141.09" cy="182.18" r="1.55"/><circle cx="141.73" cy="182.27" r="1.55"/><circle cx="142.37" cy="182.45" r="1.55"/><circle cx="143.01" cy="182.71" r="1.55"/><circle cx="143.65" cy="181.91" r="1.55"/><circle cx="144.29" cy="182.37" r="1.55"/><circle cx="144.93" cy="181.89" r="1.55"/><circle cx="145.57" cy="181.96" r="1.55"/><circle cx="146.21" cy="182.57" r="1.55"/><circle cx="146.85" cy="182.35" r="1.55"/><circle cx="147.49" cy="182.66" r="1.55"/><circle cx="148.13" cy="182.23" r="1.55"/><circle cx="148.77" cy="181.83" r="1.55"/><circle cx="149.41" cy="182.16" r="1.55"/><circle cx="150.05" cy="182.34" r="1.55"/><circle cx="150.69" cy="182.65" r="1.55"/><circle cx="151.33" cy="182.68" r="1.55"/><circle cx="151.97" cy="182.22" r="1.55"/><circle cx="152.61" cy="182.16" r="1.55"/><circle cx="153.25" cy="181.87" r="1.55"/><circle cx="153.89" cy="182.35" r="1.55"/><circle cx="154.53" cy="181.96" r="1.55"/><circle cx="155.17" cy="181.9" r="1.55"/><circle cx="155.81" cy="181.77" r="1.55"/><circle cx="156.45" cy="181.75" r="1.55"/><circle cx="157.09" cy="182.36" r="1.55"/><circle cx="157.73" cy="181.85" r="1.55"/><circle cx="158.37" cy="182.6" r="1.55"/><circle cx="159.01" cy="181.81" r="1.55"/><circle cx="159.65" cy="182.5" r="1.55"/><circle cx="160.29" cy="181.83" r="1.55"/><circle cx="160.93" cy="181.73" r="1.55"/><circle cx="161.57" cy="182.35" r="1.55"/><circle cx="162.21" cy="181.92" r="1.55"/><circle cx="162.85" cy="182.35" r="1.55"/><circle cx="163.49" cy="181.86" r="1.55"/><circle cx="164.13" cy="181.73" r="1.55"/><circle cx="164.77" cy="182.37" r="1.55"/><circle cx="165.41" cy="182.31" r="1.55"/><circle cx="166.05" cy="182.43" r="1.55"/><circle cx="166.69" cy="182.31" r="1.55"/><circle cx="167.33" cy="181.73" r="1.55"/></g></defs>
<use href="#m12" fill="#fff"/>
<use href="#m12" fill="none" stroke="#e8141c" stroke-width="1"/>
<circle cx="167.33" cy="181.73" r="1.55" fill="#fff" stroke="#e8141c" stroke-width="1"/>
<path d="M167.6,180.67 L102.66,180.67 L102.47,183.53 L102.22,214.7 L101.84,216.99 L100.68,217.1 L99.52,217.22 L98.36,217.35 L97.19,217.49 L96.03,217.66 L94.87,217.85 L93.71,218.1 L92.55,218.71 L91.31,222.14 L90.64,235.87 L90.07,247.88 L89.69,264.93 L88.74,268.93 L40.4,269.5" fill="none" stroke="#1f50b4" stroke-width="0.8"/>
<defs><g id="m13"><circle cx="167.6" cy="180.79" r="1.55"/><circle cx="166.96" cy="180.86" r="1.55"/><circle cx="166.32" cy="180.63" r="1.55"/><circle cx="165.68" cy="181.06" r="1.55"/><circle cx="165.04" cy="180.45" r="1.55"/><circle cx="164.4" cy="181.09" r="1.55"/><circle cx="163.76" cy="180.87" r="1.55"/><circle cx="163.12" cy="180.23" r="1.55"/><circle cx="162.48" cy="180.23" r="1.55"/><circle cx="161.84" cy="180.81" r="1.55"/><circle cx="161.2" cy="180.96" r="1.55"/><circle cx="160.56" cy="180.29" r="1.55"/><circle cx="159.92" cy="180.5" r="1.55"/><circle cx="159.28" cy="180.88" r="1.55"/><circle cx="158.64" cy="180.37" r="1.55"/><circle cx="158" cy="180.99" r="1.55"/><circle cx="157.36" cy="180.66" r="1.55"/><circle cx="156.72" cy="180.27" r="1.55"/><circle cx="156.08" cy="180.55" r="1.55"/><circle cx="155.44" cy="180.74" r="1.55"/><circle cx="154.8" cy="180.61" r="1.55"/><circle cx="154.16" cy="180.83" r="1.55"/><circle cx="153.52" cy="180.35" r="1.55"/><circle cx="152.88" cy="180.94" r="1.55"/><circle cx="152.24" cy="180.55" r="1.55"/><circle cx="151.6" cy="180.8" r="1.55"/><circle cx="150.96" cy="180.79" r="1.55"/><circle cx="150.32" cy="180.6" r="1.55"/><circle cx="149.68" cy="180.57" r="1.55"/><circle cx="149.04" cy="180.93" r="1.55"/><circle cx="148.4" cy="181.07" r="1.55"/><circle cx="147.76" cy="180.93" r="1.55"/><circle cx="147.12" cy="180.73" r="1.55"/><circle cx="146.48" cy="180.48" r="1.55"/><circle cx="145.84" cy="180.27" r="1.55"/><circle cx="145.2" cy="181.1" r="1.55"/><circle cx="144.56" cy="180.85" r="1.55"/><circle cx="143.92" cy="180.96" r="1.55"/><circle cx="143.28" cy="180.52" r="1.55"/><circle cx="142.64" cy="180.77" r="1.55"/><circle cx="142" cy="181.1" r="1.55"/><circle cx="141.36" cy="180.97" r="1.55"/><circle cx="140.72" cy="180.76" r="1.55"/><circle cx="140.08" cy="180.5" r="1.55"/><circle cx="139.44" cy="180.61" r="1.55"/><circle cx="138.8" cy="181.02" r="1.55"/><circle cx="138.16" cy="180.56" r="1.55"/><circle cx="137.52" cy="180.84" r="1.55"/><circle cx="136.88" cy="180.76" r="1.55"/><circle cx="136.24" cy="181.03" r="1.55"/><circle cx="135.6" cy="180.95" r="1.55"/><circle cx="134.96" cy="180.47" r="1.55"/><circle cx="134.32" cy="180.22" r="1.55"/><circle cx="133.68" cy="180.46" r="1.55"/><circle cx="133.04" cy="180.6" r="1.55"/><circle cx="132.4" cy="180.75" r="1.55"/><circle cx="131.76" cy="180.95" r="1.55"/><circle cx="131.12" cy="181.02" r="1.55"/><circle cx="130.48" cy="180.26" r="1.55"/><circle cx="129.84" cy="180.97" r="1.55"/><circle cx="129.2" cy="180.95" r="1.55"/><circle cx="128.56" cy="181" r="1.55"/><circle cx="127.92" cy="180.73" r="1.55"/><circle cx="127.28" cy="180.47" r="1.55"/><circle cx="126.64" cy="180.99" r="1.55"/><circle cx="126" cy="180.95" r="1.55"/><circle cx="125.36" cy="180.84" r="1.55"/><circle cx="124.72" cy="181.04" r="1.55"/><circle cx="124.08" cy="180.53" r="1.55"/><circle cx="123.44" cy="180.3" r="1.55"/><circle cx="122.8" cy="180.72" r="1.55"/><circle cx="122.16" cy="180.94" r="1.55"/><circle cx="121.52" cy="180.4" r="1.55"/><circle cx="120.88" cy="180.9" r="1.55"/><circle cx="120.24" cy="181.06" r="1.55"/><circle cx="119.6" cy="180.43" r="1.55"/><circle cx="118.96" cy="180.77" r="1.55"/><circle cx="118.32" cy="180.83" r="1.55"/><circle cx="117.68" cy="180.64" r="1.55"/><circle cx="117.04" cy="180.41" r="1.55"/><circle cx="116.4" cy="180.45" r="1.55"/><circle cx="115.76" cy="180.9" r="1.55"/><circle cx="115.12" cy="180.93" r="1.55"/><circle cx="114.48" cy="180.63" r="1.55"/><circle cx="113.84" cy="180.3" r="1.55"/><circle cx="113.2" cy="180.95" r="1.55"/><circle cx="112.56" cy="180.91" r="1.55"/><circle cx="111.92" cy="180.43" r="1.55"/><circle cx="111.28" cy="180.74" r="1.55"/><circle cx="110.64" cy="181.03" r="1.55"/><circle cx="110" cy="181.02" r="1.55"/><circle cx="109.36" cy="180.69" r="1.55"/><circle cx="108.72" cy="180.65" r="1.55"/><circle cx="108.08" cy="180.75" r="1.55"/><circle cx="107.44" cy="180.39" r="1.55"/><circle cx="106.8" cy="180.39" r="1.55"/><circle cx="106.16" cy="180.38" r="1.55"/><circle cx="105.52" cy="180.85" r="1.55"/><circle cx="104.88" cy="180.55" r="1.55"/><circle cx="104.24" cy="180.73" r="1.55"/><circle cx="103.6" cy="180.58" r="1.55"/><circle cx="102.96" cy="180.69" r="1.55"/><circle cx="102.46" cy="184.66" r="1.55"/><circle cx="102.4" cy="192.57" r="1.55"/><circle cx="102.33" cy="201.42" r="1.55"/><circle cx="102.27" cy="208.86" r="1.55"/><circle cx="102.04" cy="215.44" r="1.55"/><circle cx="101.4" cy="217.15" r="1.55"/><circle cx="100.76" cy="217.35" r="1.55"/><circle cx="100.12" cy="216.85" r="1.55"/><circle cx="99.48" cy="217.31" r="1.55"/><circle cx="98.84" cy="217.16" r="1.55"/><circle cx="98.2" cy="217.39" r="1.55"/><circle cx="97.56" cy="217.02" r="1.55"/><circle cx="96.92" cy="217.11" r="1.55"/><circle cx="96.28" cy="218.06" r="1.55"/><circle cx="95.64" cy="218.05" r="1.55"/><circle cx="95" cy="217.82" r="1.55"/><circle cx="94.36" cy="218.02" r="1.55"/><circle cx="93.72" cy="217.89" r="1.55"/><circle cx="93.08" cy="218.68" r="1.55"/><circle cx="92.44" cy="218.96" r="1.55"/><circle cx="91.8" cy="221.2" r="1.55"/><circle cx="91.22" cy="224.31" r="1.55"/><circle cx="90.83" cy="232.36" r="1.55"/><circle cx="90.44" cy="240.49" r="1.55"/><circle cx="90.07" cy="247.85" r="1.55"/><circle cx="89.89" cy="255.65" r="1.55"/><circle cx="89.71" cy="263.8" r="1.55"/><circle cx="89.12" cy="267.04" r="1.55"/><circle cx="88.48" cy="268.56" r="1.55"/><circle cx="87.84" cy="268.54" r="1.55"/><circle cx="87.2" cy="269" r="1.55"/><circle cx="86.56" cy="269.29" r="1.55"/><circle cx="85.92" cy="268.93" r="1.55"/><circle cx="85.28" cy="269.37" r="1.55"/><circle cx="84.64" cy="269.35" r="1.55"/><circle cx="84" cy="268.59" r="1.55"/><circle cx="83.36" cy="269.08" r="1.55"/><circle cx="82.72" cy="268.91" r="1.55"/><circle cx="82.08" cy="268.67" r="1.55"/><circle cx="81.44" cy="269.43" r="1.55"/><circle cx="80.8" cy="268.81" r="1.55"/><circle cx="80.16" cy="269.09" r="1.55"/><circle cx="79.52" cy="269.17" r="1.55"/><circle cx="78.88" cy="269.46" r="1.55"/><circle cx="78.24" cy="269.21" r="1.55"/><circle cx="77.6" cy="268.97" r="1.55"/><circle cx="76.96" cy="269.02" r="1.55"/><circle cx="76.32" cy="268.77" r="1.55"/><circle cx="75.68" cy="269.5" r="1.55"/><circle cx="75.04" cy="269.53" r="1.55"/><circle cx="74.4" cy="268.85" r="1.55"/><circle cx="73.76" cy="268.69" r="1.55"/><circle cx="73.12" cy="268.89" r="1.55"/><circle cx="72.48" cy="268.99" r="1.55"/><circle cx="71.84" cy="269.49" r="1.55"/><circle cx="71.2" cy="269.5" r="1.55"/><circle cx="70.56" cy="269.45" r="1.55"/><circle cx="69.92" cy="268.74" r="1.55"/><circle cx="69.28" cy="269.42" r="1.55"/><circle cx="68.64" cy="269.36" r="1.55"/><circle cx="68" cy="269.31" r="1.55"/><circle cx="67.36" cy="269.62" r="1.55"/><circle cx="66.72" cy="268.79" r="1.55"/><circle cx="66.08" cy="268.88" r="1.55"/><circle cx="65.44" cy="269.43" r="1.55"/><circle cx="64.8" cy="269.61" r="1.55"/><circle cx="64.16" cy="269.38" r="1.55"/><circle cx="63.52" cy="269.05" r="1.55"/><circle cx="62.88" cy="269.32" r="1.55"/><circle cx="62.24" cy="269.48" r="1.55"/><circle cx="61.6" cy="268.9" r="1.55"/><circle cx="60.96" cy="269.1" r="1.55"/><circle cx="60.32" cy="269.05" r="1.55"/><circle cx="59.68" cy="268.94" r="1.55"/><circle cx="59.04" cy="269.26" r="1.55"/><circle cx="58.4" cy="268.99" r="1.55"/><circle cx="57.76" cy="269.06" r="1.55"/><circle cx="57.12" cy="268.98" r="1.55"/><circle cx="56.48" cy="269.47" r="1.55"/><circle cx="55.84" cy="268.88" r="1.55"/><circle cx="55.2" cy="269.52" r="1.55"/><circle cx="54.56" cy="269.06" r="1.55"/><circle cx="53.92" cy="268.92" r="1.55"/><circle cx="53.28" cy="269.73" r="1.55"/><circle cx="52.64" cy="269.11" r="1.55"/><circle cx="52" cy="269.75" r="1.55"/><circle cx="51.36" cy="269.7" r="1.55"/><circle cx="50.72" cy="269.73" r="1.55"/><circle cx="50.08" cy="269.06" r="1.55"/><circle cx="49.44" cy="269.35" r="1.55"/><circle cx="48.8" cy="269.04" r="1.55"/><circle cx="48.16" cy="269.8" r="1.55"/><circle cx="47.52" cy="269.73" r="1.55"/><circle cx="46.88" cy="269.54" r="1.55"/><circle cx="46.24" cy="269.39" r="1.55"/><circle cx="45.6" cy="269.3" r="1.55"/><circle cx="44.96" cy="269.74" r="1.55"/><circle cx="44.32" cy="269.44" r="1.55"/><circle cx="43.68" cy="269.58" r="1.55"/><circle cx="43.04" cy="269.15" r="1.55"/><circle cx="42.4" cy="269.23" r="1.55"/><circle cx="41.76" cy="269.09" r="1.55"/><circle cx="41.12" cy="269.69" r="1.55"/><circle cx="40.48" cy="269.55" r="1.55"/></g></defs>
<use href="#m13" fill="#fff"/>
<use href="#m13" fill="none" stroke="#1f50b4" stroke-width="1"/>
<circle cx="40.48" cy="269.55" r="1.55" fill="#fff" stroke="#1f50b4" stroke-width="1"/>
<path d="M40.4,269.5 L96.3,268.93 L97.51,266.07 L97.89,242.16 L98.53,219.05 L99.52,217.22 L100.68,217.1 L101.84,216.99 L103.11,216.99 L103.49,213.56 L103.75,184.1 L104.25,181.24 L167.6,180.67" fill="none" stroke="#1f50b4" stroke-width="0.8"/>
<defs><g id="m14"><circle cx="40.4" cy="269.18" r="1.55"/><circle cx="41.04" cy="269.83" r="1.55"/><circle cx="41.68" cy="269.28" r="1.55"/><circle cx="42.32" cy="269.4" r="1.55"/><circle cx="42.96" cy="269.17" r="1.55"/><circle cx="43.6" cy="269.26" r="1.55"/><circle cx="44.24" cy="269.77" r="1.55"/><circle cx="44.88" cy="269.31" r="1.55"/><circle cx="45.52" cy="269.15" r="1.55"/><circle cx="46.16" cy="269.43" r="1.55"/><circle cx="46.8" cy="269.27" r="1.55"/><circle cx="47.44" cy="269.79" r="1.55"/><circle cx="48.08" cy="269.08" r="1.55"/><circle cx="48.72" cy="269.85" r="1.55"/><circle cx="49.36" cy="269.01" r="1.55"/><circle cx="50" cy="269.76" r="1.55"/><circle cx="50.64" cy="269.55" r="1.55"/><circle cx="51.28" cy="269.13" r="1.55"/><circle cx="51.92" cy="269.36" r="1.55"/><circle cx="52.56" cy="269.18" r="1.55"/><circle cx="53.2" cy="269.15" r="1.55"/><circle cx="53.84" cy="269.1" r="1.55"/><circle cx="54.48" cy="269.24" r="1.55"/><circle cx="55.12" cy="269.79" r="1.55"/><circle cx="55.76" cy="269.79" r="1.55"/><circle cx="56.4" cy="269.72" r="1.55"/><circle cx="57.04" cy="268.97" r="1.55"/><circle cx="57.68" cy="269.14" r="1.55"/><circle cx="58.32" cy="269.67" r="1.55"/><circle cx="58.96" cy="268.91" r="1.55"/><circle cx="59.6" cy="269.51" r="1.55"/><circle cx="60.24" cy="269.11" r="1.55"/><circle cx="60.88" cy="269.72" r="1.55"/><circle cx="61.52" cy="268.85" r="1.55"/><circle cx="62.16" cy="269.56" r="1.55"/><circle cx="62.8" cy="269.13" r="1.55"/><circle cx="63.44" cy="268.94" r="1.55"/><circle cx="64.08" cy="268.81" r="1.55"/><circle cx="64.72" cy="269.55" r="1.55"/><circle cx="65.36" cy="269.27" r="1.55"/><circle cx="66" cy="268.96" r="1.55"/><circle cx="66.64" cy="269.17" r="1.55"/><circle cx="67.28" cy="269.6" r="1.55"/><circle cx="67.92" cy="268.97" r="1.55"/><circle cx="68.56" cy="269.28" r="1.55"/><circle cx="69.2" cy="268.88" r="1.55"/><circle cx="69.84" cy="268.91" r="1.55"/><circle cx="70.48" cy="269.44" r="1.55"/><circle cx="71.12" cy="269.38" r="1.55"/><circle cx="71.76" cy="268.91" r="1.55"/><circle cx="72.4" cy="268.8" r="1.55"/><circle cx="73.04" cy="268.8" r="1.55"/><circle cx="73.68" cy="269.26" r="1.55"/><circle cx="74.32" cy="269.15" r="1.55"/><circle cx="74.96" cy="268.94" r="1.55"/><circle cx="75.6" cy="268.88" r="1.55"/><circle cx="76.24" cy="269.24" r="1.55"/><circle cx="76.88" cy="269.32" r="1.55"/><circle cx="77.52" cy="269.4" r="1.55"/><circle cx="78.16" cy="269.19" r="1.55"/><circle cx="78.8" cy="268.84" r="1.55"/><circle cx="79.44" cy="268.71" r="1.55"/><circle cx="80.08" cy="269.31" r="1.55"/><circle cx="80.72" cy="269.01" r="1.55"/><circle cx="81.36" cy="269.28" r="1.55"/><circle cx="82" cy="268.68" r="1.55"/><circle cx="82.64" cy="269.35" r="1.55"/><circle cx="83.28" cy="268.91" r="1.55"/><circle cx="83.92" cy="269.36" r="1.55"/><circle cx="84.56" cy="269.38" r="1.55"/><circle cx="85.2" cy="269.04" r="1.55"/><circle cx="85.84" cy="268.6" r="1.55"/><circle cx="86.48" cy="269.4" r="1.55"/><circle cx="87.12" cy="269" r="1.55"/><circle cx="87.76" cy="269.35" r="1.55"/><circle cx="88.4" cy="268.8" r="1.55"/><circle cx="89.04" cy="268.72" r="1.55"/><circle cx="89.68" cy="269.3" r="1.55"/><circle cx="90.32" cy="268.87" r="1.55"/><circle cx="90.96" cy="268.68" r="1.55"/><circle cx="91.6" cy="268.86" r="1.55"/><circle cx="92.24" cy="269.06" r="1.55"/><circle cx="92.88" cy="268.52" r="1.55"/><circle cx="93.52" cy="268.98" r="1.55"/><circle cx="94.16" cy="268.9" r="1.55"/><circle cx="94.8" cy="268.96" r="1.55"/><circle cx="95.44" cy="268.6" r="1.55"/><circle cx="96.08" cy="269.13" r="1.55"/><circle cx="96.72" cy="268.23" r="1.55"/><circle cx="97.36" cy="266.76" r="1.55"/><circle cx="97.6" cy="260.58" r="1.55"/><circle cx="97.71" cy="253.93" r="1.55"/><circle cx="97.82" cy="246.63" r="1.55"/><circle cx="97.96" cy="239.97" r="1.55"/><circle cx="98.15" cy="232.35" r="1.55"/><circle cx="98.35" cy="226.08" r="1.55"/><circle cx="98.56" cy="219.4" r="1.55"/><circle cx="99.2" cy="217.81" r="1.55"/><circle cx="99.84" cy="217.2" r="1.55"/><circle cx="100.48" cy="217.15" r="1.55"/><circle cx="101.12" cy="217.09" r="1.55"/><circle cx="101.76" cy="216.57" r="1.55"/><circle cx="102.4" cy="217.41" r="1.55"/><circle cx="103.04" cy="216.74" r="1.55"/><circle cx="103.51" cy="210.93" r="1.55"/><circle cx="103.58" cy="202.86" r="1.55"/><circle cx="103.65" cy="195" r="1.55"/><circle cx="103.72" cy="187.51" r="1.55"/><circle cx="104.14" cy="181.48" r="1.55"/><circle cx="104.78" cy="180.87" r="1.55"/><circle cx="105.42" cy="181.41" r="1.55"/><circle cx="106.06" cy="180.95" r="1.55"/><circle cx="106.7" cy="180.79" r="1.55"/><circle cx="107.34" cy="181.3" r="1.55"/><circle cx="107.98" cy="181.28" r="1.55"/><circle cx="108.62" cy="181.22" r="1.55"/><circle cx="109.26" cy="181.38" r="1.55"/><circle cx="109.9" cy="180.83" r="1.55"/><circle cx="110.54" cy="181.52" r="1.55"/><circle cx="111.18" cy="181.37" r="1.55"/><circle cx="111.82" cy="180.76" r="1.55"/><circle cx="112.46" cy="180.83" r="1.55"/><circle cx="113.1" cy="181.16" r="1.55"/><circle cx="113.74" cy="181.16" r="1.55"/><circle cx="114.38" cy="180.95" r="1.55"/><circle cx="115.02" cy="180.8" r="1.55"/><circle cx="115.66" cy="181.05" r="1.55"/><circle cx="116.3" cy="180.81" r="1.55"/><circle cx="116.94" cy="181.21" r="1.55"/><circle cx="117.58" cy="181.45" r="1.55"/><circle cx="118.22" cy="180.8" r="1.55"/><circle cx="118.86" cy="181.18" r="1.55"/><circle cx="119.5" cy="181.33" r="1.55"/><circle cx="120.14" cy="180.8" r="1.55"/><circle cx="120.78" cy="181.39" r="1.55"/><circle cx="121.42" cy="181.48" r="1.55"/><circle cx="122.06" cy="180.98" r="1.55"/><circle cx="122.7" cy="181" r="1.55"/><circle cx="123.34" cy="181.38" r="1.55"/><circle cx="123.98" cy="181.09" r="1.55"/><circle cx="124.62" cy="180.96" r="1.55"/><circle cx="125.26" cy="181.45" r="1.55"/><circle cx="125.9" cy="181.3" r="1.55"/><circle cx="126.54" cy="180.9" r="1.55"/><circle cx="127.18" cy="180.8" r="1.55"/><circle cx="127.82" cy="180.88" r="1.55"/><circle cx="128.46" cy="180.97" r="1.55"/><circle cx="129.1" cy="181.45" r="1.55"/><circle cx="129.74" cy="181.29" r="1.55"/><circle cx="130.38" cy="181.38" r="1.55"/><circle cx="131.02" cy="181.28" r="1.55"/><circle cx="131.66" cy="181.31" r="1.55"/><circle cx="132.3" cy="180.59" r="1.55"/><circle cx="132.94" cy="181" r="1.55"/><circle cx="133.58" cy="181.39" r="1.55"/><circle cx="134.22" cy="181.36" r="1.55"/><circle cx="134.86" cy="180.74" r="1.55"/><circle cx="135.5" cy="180.89" r="1.55"/><circle cx="136.14" cy="181.07" r="1.55"/><circle cx="136.78" cy="180.83" r="1.55"/><circle cx="137.42" cy="180.97" r="1.55"/><circle cx="138.06" cy="180.55" r="1.55"/><circle cx="138.7" cy="180.87" r="1.55"/><circle cx="139.34" cy="180.93" r="1.55"/><circle cx="139.98" cy="180.49" r="1.55"/><circle cx="140.62" cy="180.59" r="1.55"/><circle cx="141.26" cy="181.33" r="1.55"/><circle cx="141.9" cy="181.15" r="1.55"/><circle cx="142.54" cy="181.29" r="1.55"/><circle cx="143.18" cy="181.01" r="1.55"/><circle cx="143.82" cy="181.16" r="1.55"/><circle cx="144.46" cy="181.22" r="1.55"/><circle cx="145.1" cy="181.22" r="1.55"/><circle cx="145.74" cy="180.45" r="1.55"/><circle cx="146.38" cy="180.99" r="1.55"/><circle cx="147.02" cy="180.65" r="1.55"/><circle cx="147.66" cy="181.01" r="1.55"/><circle cx="148.3" cy="180.64" r="1.55"/><circle cx="148.94" cy="180.88" r="1.55"/><circle cx="149.58" cy="181.21" r="1.55"/><circle cx="150.22" cy="180.94" r="1.55"/><circle cx="150.86" cy="180.6" r="1.55"/><circle cx="151.5" cy="180.83" r="1.55"/><circle cx="152.14" cy="180.75" r="1.55"/><circle cx="152.78" cy="181.21" r="1.55"/><circle cx="153.42" cy="180.61" r="1.55"/><circle cx="154.06" cy="180.62" r="1.55"/><circle cx="154.7" cy="180.92" r="1.55"/><circle cx="155.34" cy="180.44" r="1.55"/><circle cx="155.98" cy="180.86" r="1.55"/><circle cx="156.62" cy="181.18" r="1.55"/><circle cx="157.26" cy="180.78" r="1.55"/><circle cx="157.9" cy="180.55" r="1.55"/><circle cx="158.54" cy="180.72" r="1.55"/><circle cx="159.18" cy="180.78" r="1.55"/><circle cx="159.82" cy="180.42" r="1.55"/><circle cx="160.46" cy="180.4" r="1.55"/><circle cx="161.1" cy="180.4" r="1.55"/><circle cx="161.74" cy="180.54" r="1.55"/><circle cx="162.38" cy="180.63" r="1.55"/><circle cx="163.02" cy="180.52" r="1.55"/><circle cx="163.66" cy="180.47" r="1.55"/><circle cx="164.3" cy="180.33" r="1.55"/><circle cx="164.94" cy="180.74" r="1.55"/><circle cx="165.58" cy="180.99" r="1.55"/><circle cx="166.22" cy="180.78" r="1.55"/><circle cx="166.86" cy="180.74" r="1.55"/><circle cx="167.5" cy="180.81" r="1.55"/></g></defs>
<use href="#m14" fill="#fff"/>
<use href="#m14" fill="none" stroke="#1f50b4" stroke-width="1"/>
<circle cx="167.5" cy="180.81" r="1.55" fill="#fff" stroke="#1f50b4" stroke-width="1"/>
<rect x="40.4" y="167.6" width="127.2" height="114.7" fill="none" stroke="#2a2a2a" stroke-width="1.2"/>
<line x1="56.3" y1="282.3" x2="56.3" y2="280.3" stroke="#2a2a2a" stroke-width="0.9"/>
<line x1="56.3" y1="167.6" x2="56.3" y2="169.6" stroke="#2a2a2a" stroke-width="0.9"/>
<line x1="72.2" y1="282.3" x2="72.2" y2="280.3" stroke="#2a2a2a" stroke-width="0.9"/>
<line x1="72.2" y1="167.6" x2="72.2" y2="169.6" stroke="#2a2a2a" stroke-width="0.9"/>
<line x1="88.1" y1="282.3" x2="88.1" y2="280.3" stroke="#2a2a2a" stroke-width="0.9"/>
<line x1="88.1" y1="167.6" x2="88.1" y2="169.6" stroke="#2a2a2a" stroke-width="0.9"/>
<line x1="104" y1="282.3" x2="104" y2="280.3" stroke="#2a2a2a" stroke-width="0.9"/>
<line x1="104" y1="167.6" x2="104" y2="169.6" stroke="#2a2a2a" stroke-width="0.9"/>
<line x1="119.9" y1="282.3" x2="119.9" y2="280.3" stroke="#2a2a2a" stroke-width="0.9"/>
<line x1="119.9" y1="167.6" x2="119.9" y2="169.6" stroke="#2a2a2a" stroke-width="0.9"/>
<line x1="135.8" y1="282.3" x2="135.8" y2="280.3" stroke="#2a2a2a" stroke-width="0.9"/>
<line x1="135.8" y1="167.6" x2="135.8" y2="169.6" stroke="#2a2a2a" stroke-width="0.9"/>
<line x1="151.7" y1="282.3" x2="151.7" y2="280.3" stroke="#2a2a2a" stroke-width="0.9"/>
<line x1="151.7" y1="167.6" x2="151.7" y2="169.6" stroke="#2a2a2a" stroke-width="0.9"/>
<line x1="40.4" y1="267.9" x2="42.4" y2="267.9" stroke="#2a2a2a" stroke-width="0.9"/>
<line x1="167.6" y1="267.9" x2="165.6" y2="267.9" stroke="#2a2a2a" stroke-width="0.9"/>
<line x1="40.4" y1="253.6" x2="42.4" y2="253.6" stroke="#2a2a2a" stroke-width="0.9"/>
<line x1="167.6" y1="253.6" x2="165.6" y2="253.6" stroke="#2a2a2a" stroke-width="0.9"/>
<line x1="40.4" y1="239.3" x2="42.4" y2="239.3" stroke="#2a2a2a" stroke-width="0.9"/>
<line x1="167.6" y1="239.3" x2="165.6" y2="239.3" stroke="#2a2a2a" stroke-width="0.9"/>
<line x1="40.4" y1="225" x2="42.4" y2="225" stroke="#2a2a2a" stroke-width="0.9"/>
<line x1="167.6" y1="225" x2="165.6" y2="225" stroke="#2a2a2a" stroke-width="0.9"/>
<line x1="40.4" y1="210.7" x2="42.4" y2="210.7" stroke="#2a2a2a" stroke-width="0.9"/>
<line x1="167.6" y1="210.7" x2="165.6" y2="210.7" stroke="#2a2a2a" stroke-width="0.9"/>
<line x1="40.4" y1="196.4" x2="42.4" y2="196.4" stroke="#2a2a2a" stroke-width="0.9"/>
<line x1="167.6" y1="196.4" x2="165.6" y2="196.4" stroke="#2a2a2a" stroke-width="0.9"/>
<line x1="40.4" y1="182.1" x2="42.4" y2="182.1" stroke="#2a2a2a" stroke-width="0.9"/>
<line x1="167.6" y1="182.1" x2="165.6" y2="182.1" stroke="#2a2a2a" stroke-width="0.9"/>
<text x="3.2" y="174.4" font-size="9.8" text-anchor="start" fill="#262626" stroke="#262626" stroke-width="0.1">(d)</text>
<text transform="translate(34.5,171.7) scale(0.92,1)" font-size="10" text-anchor="end" fill="#262626" stroke="#262626" stroke-width="0.1">1.0</text>
<text transform="translate(34.5,200.3) scale(0.92,1)" font-size="10" text-anchor="end" fill="#262626" stroke="#262626" stroke-width="0.1">0.5</text>
<text transform="translate(34.5,228.9) scale(0.92,1)" font-size="10" text-anchor="end" fill="#262626" stroke="#262626" stroke-width="0.1">0.0</text>
<text transform="translate(34.5,257.5) scale(0.92,1)" font-size="10" text-anchor="end" fill="#262626" stroke="#262626" stroke-width="0.1">−<tspan dx="0.8"></tspan>0.5</text>
<text transform="translate(34.5,286.1) scale(0.92,1)" font-size="10" text-anchor="end" fill="#262626" stroke="#262626" stroke-width="0.1">−<tspan dx="0.8"></tspan>1.0</text>
<text transform="translate(41.3,296.8) scale(0.92,1)" font-size="10" text-anchor="middle" fill="#262626" stroke="#262626" stroke-width="0.1">−<tspan dx="0.8"></tspan>100</text>
<text transform="translate(73,296.8) scale(0.92,1)" font-size="10" text-anchor="middle" fill="#262626" stroke="#262626" stroke-width="0.1">−<tspan dx="0.8"></tspan>50</text>
<text transform="translate(103.3,296.8) scale(0.92,1)" font-size="10" text-anchor="middle" fill="#262626" stroke="#262626" stroke-width="0.1">0</text>
<text transform="translate(135.5,296.8) scale(0.92,1)" font-size="10" text-anchor="middle" fill="#262626" stroke="#262626" stroke-width="0.1">50</text>
<text transform="translate(166.2,296.8) scale(0.92,1)" font-size="10" text-anchor="middle" fill="#262626" stroke="#262626" stroke-width="0.1">100</text>
<text x="104" y="309.5" font-size="10.4" text-anchor="middle" fill="#262626" stroke="#262626" stroke-width="0.1"><tspan font-style="italic">B</tspan><tspan font-size="6.4" dy="2.6">in</tspan><tspan dy="-2.6"> (mT)</tspan></text>
<text x="0" y="0" font-size="10.4" text-anchor="middle" fill="#262626" stroke="#262626" stroke-width="0.1" transform="translate(14.9,224.4) rotate(-90) scale(1.12,1)"><tspan font-style="italic">M</tspan> (MA/m)</text>
<text x="115.2" y="236.4" font-size="8.5" text-anchor="start" fill="#262626" stroke="#262626" stroke-width="0.1">Ta-capped</text>
<line x1="115.2" y1="244.4" x2="127.3" y2="244.4" stroke="#1a1a1a" stroke-width="1.1"/>
<circle cx="121.25" cy="244.4" r="1.75" fill="#fff" stroke="#1a1a1a" stroke-width="1.2"/>
<text x="130.6" y="247.5" font-size="8.5" text-anchor="start" fill="#262626" stroke="#262626" stroke-width="0.1">As-dep.</text>
<line x1="115.2" y1="256.1" x2="127.3" y2="256.1" stroke="#e8141c" stroke-width="1.1"/>
<circle cx="121.25" cy="256.1" r="1.75" fill="#fff" stroke="#e8141c" stroke-width="1.2"/>
<text x="130.6" y="259.2" font-size="8.5" text-anchor="start" fill="#262626" stroke="#262626" stroke-width="0.1">400<tspan font-size="5.3" dy="-3.3" dx="0.15">o</tspan><tspan dy="3.3" dx="0.1">C</tspan></text>
<line x1="115.2" y1="268.3" x2="127.3" y2="268.3" stroke="#1f50b4" stroke-width="1.1"/>
<circle cx="121.25" cy="268.3" r="1.75" fill="#fff" stroke="#1f50b4" stroke-width="1.2"/>
<text x="130.6" y="271.4" font-size="8.5" text-anchor="start" fill="#262626" stroke="#262626" stroke-width="0.1">450<tspan font-size="5.3" dy="-3.3" dx="0.15">o</tspan><tspan dy="3.3" dx="0.1">C</tspan></text>
<line x1="210.4" y1="225" x2="337.9" y2="225" stroke="#1e1e1e" stroke-width="1.25" stroke-dasharray="4.6,2.3"/>
<line x1="274.1" y1="167.7" x2="274.1" y2="282.4" stroke="#1e1e1e" stroke-width="1.25" stroke-dasharray="4.6,2.3"/>
<path d="M337.8,182.1 L272.32,182.1 L272.13,184.96 L271.87,215.85 L270.92,216.99 L267.73,218.14 L263.91,219.28 L260.09,220.42 L257.41,221.57 L255.63,223.28 L254.35,227.86 L253.4,236.44 L253.08,247.88 L252.89,259.32 L252.44,264.47 L251.17,266.76 L210.4,267.33" fill="none" stroke="#1a1a1a" stroke-width="0.8"/>
<defs><g id="m15"><circle cx="337.8" cy="181.83" r="1.55"/><circle cx="337.16" cy="182.29" r="1.55"/><circle cx="336.52" cy="182.06" r="1.55"/><circle cx="335.88" cy="182.14" r="1.55"/><circle cx="335.24" cy="182.2" r="1.55"/><circle cx="334.6" cy="182.07" r="1.55"/><circle cx="333.96" cy="181.93" r="1.55"/><circle cx="333.32" cy="181.87" r="1.55"/><circle cx="332.68" cy="181.85" r="1.55"/><circle cx="332.04" cy="182.11" r="1.55"/><circle cx="331.4" cy="181.99" r="1.55"/><circle cx="330.76" cy="182.18" r="1.55"/><circle cx="330.12" cy="181.66" r="1.55"/><circle cx="329.48" cy="181.97" r="1.55"/><circle cx="328.84" cy="182.43" r="1.55"/><circle cx="328.2" cy="181.86" r="1.55"/><circle cx="327.56" cy="182.15" r="1.55"/><circle cx="326.92" cy="182.09" r="1.55"/><circle cx="326.28" cy="181.91" r="1.55"/><circle cx="325.64" cy="182.54" r="1.55"/><circle cx="325" cy="181.92" r="1.55"/><circle cx="324.36" cy="182.34" r="1.55"/><circle cx="323.72" cy="181.79" r="1.55"/><circle cx="323.08" cy="181.71" r="1.55"/><circle cx="322.44" cy="182.43" r="1.55"/><circle cx="321.8" cy="182.05" r="1.55"/><circle cx="321.16" cy="181.71" r="1.55"/><circle cx="320.52" cy="182" r="1.55"/><circle cx="319.88" cy="182.05" r="1.55"/><circle cx="319.24" cy="182.31" r="1.55"/><circle cx="318.6" cy="181.75" r="1.55"/><circle cx="317.96" cy="181.85" r="1.55"/><circle cx="317.32" cy="182.51" r="1.55"/><circle cx="316.68" cy="182.31" r="1.55"/><circle cx="316.04" cy="181.79" r="1.55"/><circle cx="315.4" cy="181.95" r="1.55"/><circle cx="314.76" cy="181.97" r="1.55"/><circle cx="314.12" cy="182.26" r="1.55"/><circle cx="313.48" cy="182.2" r="1.55"/><circle cx="312.84" cy="182.41" r="1.55"/><circle cx="312.2" cy="182.39" r="1.55"/><circle cx="311.56" cy="182.12" r="1.55"/><circle cx="310.92" cy="182.31" r="1.55"/><circle cx="310.28" cy="182.32" r="1.55"/><circle cx="309.64" cy="182.33" r="1.55"/><circle cx="309" cy="182.08" r="1.55"/><circle cx="308.36" cy="182.36" r="1.55"/><circle cx="307.72" cy="182.29" r="1.55"/><circle cx="307.08" cy="182.47" r="1.55"/><circle cx="306.44" cy="181.76" r="1.55"/><circle cx="305.8" cy="182.43" r="1.55"/><circle cx="305.16" cy="181.65" r="1.55"/><circle cx="304.52" cy="182.34" r="1.55"/><circle cx="303.88" cy="182.18" r="1.55"/><circle cx="303.24" cy="182.1" r="1.55"/><circle cx="302.6" cy="182.52" r="1.55"/><circle cx="301.96" cy="182.16" r="1.55"/><circle cx="301.32" cy="182.03" r="1.55"/><circle cx="300.68" cy="182.36" r="1.55"/><circle cx="300.04" cy="182.44" r="1.55"/><circle cx="299.4" cy="182.2" r="1.55"/><circle cx="298.76" cy="181.99" r="1.55"/><circle cx="298.12" cy="182.06" r="1.55"/><circle cx="297.48" cy="182.06" r="1.55"/><circle cx="296.84" cy="182.3" r="1.55"/><circle cx="296.2" cy="181.91" r="1.55"/><circle cx="295.56" cy="182" r="1.55"/><circle cx="294.92" cy="182.15" r="1.55"/><circle cx="294.28" cy="182" r="1.55"/><circle cx="293.64" cy="181.94" r="1.55"/><circle cx="293" cy="182.36" r="1.55"/><circle cx="292.36" cy="182.41" r="1.55"/><circle cx="291.72" cy="182.1" r="1.55"/><circle cx="291.08" cy="182.05" r="1.55"/><circle cx="290.44" cy="181.82" r="1.55"/><circle cx="289.8" cy="181.92" r="1.55"/><circle cx="289.16" cy="181.78" r="1.55"/><circle cx="288.52" cy="182.17" r="1.55"/><circle cx="287.88" cy="182.17" r="1.55"/><circle cx="287.24" cy="181.73" r="1.55"/><circle cx="286.6" cy="182.48" r="1.55"/><circle cx="285.96" cy="181.94" r="1.55"/><circle cx="285.32" cy="182.41" r="1.55"/><circle cx="284.68" cy="182.4" r="1.55"/><circle cx="284.04" cy="182.51" r="1.55"/><circle cx="283.4" cy="181.83" r="1.55"/><circle cx="282.76" cy="182.03" r="1.55"/><circle cx="282.12" cy="182.47" r="1.55"/><circle cx="281.48" cy="181.66" r="1.55"/><circle cx="280.84" cy="181.69" r="1.55"/><circle cx="280.2" cy="182.16" r="1.55"/><circle cx="279.56" cy="182.1" r="1.55"/><circle cx="278.92" cy="182.48" r="1.55"/><circle cx="278.28" cy="182.35" r="1.55"/><circle cx="277.64" cy="182.13" r="1.55"/><circle cx="277" cy="182.55" r="1.55"/><circle cx="276.36" cy="182.12" r="1.55"/><circle cx="275.72" cy="182.12" r="1.55"/><circle cx="275.08" cy="182.27" r="1.55"/><circle cx="274.44" cy="182" r="1.55"/><circle cx="273.8" cy="181.97" r="1.55"/><circle cx="273.16" cy="182.19" r="1.55"/><circle cx="272.52" cy="181.97" r="1.55"/><circle cx="272.06" cy="193.8" r="1.55"/><circle cx="271.87" cy="215.55" r="1.55"/><circle cx="271.24" cy="216.62" r="1.55"/><circle cx="270.6" cy="216.74" r="1.55"/><circle cx="269.96" cy="217.22" r="1.55"/><circle cx="269.32" cy="217.47" r="1.55"/><circle cx="268.68" cy="217.85" r="1.55"/><circle cx="268.04" cy="218.09" r="1.55"/><circle cx="267.4" cy="218.58" r="1.55"/><circle cx="266.76" cy="218.84" r="1.55"/><circle cx="266.12" cy="218.6" r="1.55"/><circle cx="265.48" cy="218.75" r="1.55"/><circle cx="264.84" cy="219.11" r="1.55"/><circle cx="264.2" cy="219.64" r="1.55"/><circle cx="263.56" cy="219.24" r="1.55"/><circle cx="262.92" cy="219.6" r="1.55"/><circle cx="262.28" cy="220.05" r="1.55"/><circle cx="261.64" cy="219.66" r="1.55"/><circle cx="261" cy="219.99" r="1.55"/><circle cx="260.36" cy="220.77" r="1.55"/><circle cx="259.72" cy="220.87" r="1.55"/><circle cx="259.08" cy="220.86" r="1.55"/><circle cx="258.44" cy="220.78" r="1.55"/><circle cx="257.8" cy="221.75" r="1.55"/><circle cx="257.16" cy="221.98" r="1.55"/><circle cx="256.52" cy="222.71" r="1.55"/><circle cx="255.88" cy="223.48" r="1.55"/><circle cx="255.24" cy="225.01" r="1.55"/><circle cx="254.6" cy="226.89" r="1.55"/><circle cx="254.06" cy="230.17" r="1.55"/><circle cx="253.58" cy="234.59" r="1.55"/><circle cx="253.32" cy="239.09" r="1.55"/><circle cx="253.2" cy="243.38" r="1.55"/><circle cx="253.08" cy="247.39" r="1.55"/><circle cx="253.01" cy="251.69" r="1.55"/><circle cx="252.94" cy="256.39" r="1.55"/><circle cx="252.78" cy="260.67" r="1.55"/><circle cx="252.38" cy="264.44" r="1.55"/><circle cx="251.74" cy="266.17" r="1.55"/><circle cx="251.1" cy="266.88" r="1.55"/><circle cx="250.46" cy="266.35" r="1.55"/><circle cx="249.82" cy="266.7" r="1.55"/><circle cx="249.18" cy="267.04" r="1.55"/><circle cx="248.54" cy="266.62" r="1.55"/><circle cx="247.9" cy="266.97" r="1.55"/><circle cx="247.26" cy="266.36" r="1.55"/><circle cx="246.62" cy="266.64" r="1.55"/><circle cx="245.98" cy="267.14" r="1.55"/><circle cx="245.34" cy="266.92" r="1.55"/><circle cx="244.7" cy="267" r="1.55"/><circle cx="244.06" cy="266.58" r="1.55"/><circle cx="243.42" cy="266.86" r="1.55"/><circle cx="242.78" cy="266.92" r="1.55"/><circle cx="242.14" cy="266.67" r="1.55"/><circle cx="241.5" cy="267.02" r="1.55"/><circle cx="240.86" cy="266.93" r="1.55"/><circle cx="240.22" cy="267.36" r="1.55"/><circle cx="239.58" cy="266.99" r="1.55"/><circle cx="238.94" cy="266.85" r="1.55"/><circle cx="238.3" cy="266.6" r="1.55"/><circle cx="237.66" cy="266.64" r="1.55"/><circle cx="237.02" cy="267.19" r="1.55"/><circle cx="236.38" cy="266.61" r="1.55"/><circle cx="235.74" cy="266.61" r="1.55"/><circle cx="235.1" cy="266.68" r="1.55"/><circle cx="234.46" cy="267.01" r="1.55"/><circle cx="233.82" cy="267.29" r="1.55"/><circle cx="233.18" cy="267.11" r="1.55"/><circle cx="232.54" cy="267.29" r="1.55"/><circle cx="231.9" cy="266.63" r="1.55"/><circle cx="231.26" cy="266.6" r="1.55"/><circle cx="230.62" cy="267.29" r="1.55"/><circle cx="229.98" cy="266.89" r="1.55"/><circle cx="229.34" cy="267.26" r="1.55"/><circle cx="228.7" cy="266.94" r="1.55"/><circle cx="228.06" cy="266.78" r="1.55"/><circle cx="227.42" cy="266.88" r="1.55"/><circle cx="226.78" cy="266.74" r="1.55"/><circle cx="226.14" cy="267.47" r="1.55"/><circle cx="225.5" cy="267.19" r="1.55"/><circle cx="224.86" cy="266.99" r="1.55"/><circle cx="224.22" cy="267.09" r="1.55"/><circle cx="223.58" cy="267.04" r="1.55"/><circle cx="222.94" cy="266.75" r="1.55"/><circle cx="222.3" cy="267.51" r="1.55"/><circle cx="221.66" cy="267.24" r="1.55"/><circle cx="221.02" cy="267.59" r="1.55"/><circle cx="220.38" cy="267.13" r="1.55"/><circle cx="219.74" cy="267.31" r="1.55"/><circle cx="219.1" cy="266.98" r="1.55"/><circle cx="218.46" cy="266.8" r="1.55"/><circle cx="217.82" cy="267.61" r="1.55"/><circle cx="217.18" cy="267.55" r="1.55"/><circle cx="216.54" cy="267.08" r="1.55"/><circle cx="215.9" cy="267.61" r="1.55"/><circle cx="215.26" cy="267.54" r="1.55"/><circle cx="214.62" cy="267.09" r="1.55"/><circle cx="213.98" cy="267.37" r="1.55"/><circle cx="213.34" cy="267.7" r="1.55"/><circle cx="212.7" cy="267.29" r="1.55"/><circle cx="212.06" cy="267.71" r="1.55"/><circle cx="211.42" cy="267.08" r="1.55"/><circle cx="210.78" cy="267.22" r="1.55"/></g></defs>
<use href="#m15" fill="#fff"/>
<use href="#m15" fill="none" stroke="#1a1a1a" stroke-width="1"/>
<circle cx="210.78" cy="267.22" r="1.55" fill="#fff" stroke="#1a1a1a" stroke-width="1"/>
<path d="M210.4,267.33 L261.68,267.04 L262.76,265.04 L263.14,253.6 L263.4,236.44 L263.72,222.14 L264.23,219.57 L267.73,218.14 L270.92,216.99 L272.83,216.42 L273.14,210.7 L273.4,184.96 L273.85,182.39 L337.8,182.1" fill="none" stroke="#1a1a1a" stroke-width="0.8"/>
<defs><g id="m16"><circle cx="210.4" cy="267.52" r="1.55"/><circle cx="211.04" cy="267.07" r="1.55"/><circle cx="211.68" cy="267.15" r="1.55"/><circle cx="212.32" cy="267.66" r="1.55"/><circle cx="212.96" cy="267.3" r="1.55"/><circle cx="213.6" cy="267.57" r="1.55"/><circle cx="214.24" cy="267.08" r="1.55"/><circle cx="214.88" cy="267.01" r="1.55"/><circle cx="215.52" cy="267.17" r="1.55"/><circle cx="216.16" cy="267.01" r="1.55"/><circle cx="216.8" cy="267.72" r="1.55"/><circle cx="217.44" cy="267.1" r="1.55"/><circle cx="218.08" cy="267.34" r="1.55"/><circle cx="218.72" cy="266.93" r="1.55"/><circle cx="219.36" cy="267.31" r="1.55"/><circle cx="220" cy="267.17" r="1.55"/><circle cx="220.64" cy="267.18" r="1.55"/><circle cx="221.28" cy="266.88" r="1.55"/><circle cx="221.92" cy="266.92" r="1.55"/><circle cx="222.56" cy="267.55" r="1.55"/><circle cx="223.2" cy="267.12" r="1.55"/><circle cx="223.84" cy="267.02" r="1.55"/><circle cx="224.48" cy="266.97" r="1.55"/><circle cx="225.12" cy="267.05" r="1.55"/><circle cx="225.76" cy="267.01" r="1.55"/><circle cx="226.4" cy="266.82" r="1.55"/><circle cx="227.04" cy="267.38" r="1.55"/><circle cx="227.68" cy="267.09" r="1.55"/><circle cx="228.32" cy="266.92" r="1.55"/><circle cx="228.96" cy="267.41" r="1.55"/><circle cx="229.6" cy="266.85" r="1.55"/><circle cx="230.24" cy="267.01" r="1.55"/><circle cx="230.88" cy="267.52" r="1.55"/><circle cx="231.52" cy="266.88" r="1.55"/><circle cx="232.16" cy="267.16" r="1.55"/><circle cx="232.8" cy="267.51" r="1.55"/><circle cx="233.44" cy="267.47" r="1.55"/><circle cx="234.08" cy="266.89" r="1.55"/><circle cx="234.72" cy="267.06" r="1.55"/><circle cx="235.36" cy="267.39" r="1.55"/><circle cx="236" cy="267.07" r="1.55"/><circle cx="236.64" cy="267.59" r="1.55"/><circle cx="237.28" cy="266.92" r="1.55"/><circle cx="237.92" cy="267.58" r="1.55"/><circle cx="238.56" cy="267.18" r="1.55"/><circle cx="239.2" cy="266.92" r="1.55"/><circle cx="239.84" cy="267.12" r="1.55"/><circle cx="240.48" cy="266.83" r="1.55"/><circle cx="241.12" cy="267.34" r="1.55"/><circle cx="241.76" cy="266.94" r="1.55"/><circle cx="242.4" cy="267.51" r="1.55"/><circle cx="243.04" cy="267.22" r="1.55"/><circle cx="243.68" cy="267.02" r="1.55"/><circle cx="244.32" cy="266.91" r="1.55"/><circle cx="244.96" cy="267.23" r="1.55"/><circle cx="245.6" cy="266.87" r="1.55"/><circle cx="246.24" cy="267.46" r="1.55"/><circle cx="246.88" cy="266.79" r="1.55"/><circle cx="247.52" cy="267.13" r="1.55"/><circle cx="248.16" cy="267.16" r="1.55"/><circle cx="248.8" cy="266.91" r="1.55"/><circle cx="249.44" cy="267.35" r="1.55"/><circle cx="250.08" cy="267" r="1.55"/><circle cx="250.72" cy="267.24" r="1.55"/><circle cx="251.36" cy="267.16" r="1.55"/><circle cx="252" cy="266.93" r="1.55"/><circle cx="252.64" cy="266.99" r="1.55"/><circle cx="253.28" cy="266.72" r="1.55"/><circle cx="253.92" cy="266.79" r="1.55"/><circle cx="254.56" cy="267.4" r="1.55"/><circle cx="255.2" cy="266.92" r="1.55"/><circle cx="255.84" cy="267.22" r="1.55"/><circle cx="256.48" cy="266.72" r="1.55"/><circle cx="257.12" cy="267.12" r="1.55"/><circle cx="257.76" cy="266.94" r="1.55"/><circle cx="258.4" cy="267.06" r="1.55"/><circle cx="259.04" cy="266.87" r="1.55"/><circle cx="259.68" cy="266.66" r="1.55"/><circle cx="260.32" cy="266.88" r="1.55"/><circle cx="260.96" cy="266.8" r="1.55"/><circle cx="261.6" cy="266.71" r="1.55"/><circle cx="262.24" cy="266.2" r="1.55"/><circle cx="262.79" cy="263.92" r="1.55"/><circle cx="262.96" cy="259.03" r="1.55"/><circle cx="263.13" cy="254.48" r="1.55"/><circle cx="263.21" cy="249.36" r="1.55"/><circle cx="263.28" cy="244.46" r="1.55"/><circle cx="263.36" cy="239.44" r="1.55"/><circle cx="263.45" cy="233.78" r="1.55"/><circle cx="263.56" cy="228.91" r="1.55"/><circle cx="263.67" cy="223.69" r="1.55"/><circle cx="264.1" cy="220.34" r="1.55"/><circle cx="264.74" cy="219.5" r="1.55"/><circle cx="265.38" cy="218.96" r="1.55"/><circle cx="266.02" cy="218.75" r="1.55"/><circle cx="266.66" cy="218.71" r="1.55"/><circle cx="267.3" cy="218.49" r="1.55"/><circle cx="267.94" cy="217.83" r="1.55"/><circle cx="268.58" cy="218.14" r="1.55"/><circle cx="269.22" cy="217.47" r="1.55"/><circle cx="269.86" cy="217.49" r="1.55"/><circle cx="270.5" cy="216.85" r="1.55"/><circle cx="271.14" cy="216.58" r="1.55"/><circle cx="271.78" cy="217.1" r="1.55"/><circle cx="272.42" cy="216.75" r="1.55"/><circle cx="273.06" cy="212.33" r="1.55"/><circle cx="273.33" cy="191.04" r="1.55"/><circle cx="273.85" cy="181.97" r="1.55"/><circle cx="274.49" cy="182.08" r="1.55"/><circle cx="275.13" cy="182.11" r="1.55"/><circle cx="275.77" cy="182.2" r="1.55"/><circle cx="276.41" cy="182.27" r="1.55"/><circle cx="277.05" cy="181.96" r="1.55"/><circle cx="277.69" cy="182.2" r="1.55"/><circle cx="278.33" cy="182.49" r="1.55"/><circle cx="278.97" cy="182.07" r="1.55"/><circle cx="279.61" cy="182.67" r="1.55"/><circle cx="280.25" cy="182.42" r="1.55"/><circle cx="280.89" cy="182.55" r="1.55"/><circle cx="281.53" cy="182.13" r="1.55"/><circle cx="282.17" cy="182.29" r="1.55"/><circle cx="282.81" cy="182.51" r="1.55"/><circle cx="283.45" cy="182.21" r="1.55"/><circle cx="284.09" cy="181.89" r="1.55"/><circle cx="284.73" cy="182.64" r="1.55"/><circle cx="285.37" cy="182.58" r="1.55"/><circle cx="286.01" cy="182.14" r="1.55"/><circle cx="286.65" cy="181.92" r="1.55"/><circle cx="287.29" cy="182.64" r="1.55"/><circle cx="287.93" cy="182.42" r="1.55"/><circle cx="288.57" cy="181.91" r="1.55"/><circle cx="289.21" cy="182.09" r="1.55"/><circle cx="289.85" cy="181.96" r="1.55"/><circle cx="290.49" cy="182.57" r="1.55"/><circle cx="291.13" cy="182.05" r="1.55"/><circle cx="291.77" cy="182.68" r="1.55"/><circle cx="292.41" cy="182.53" r="1.55"/><circle cx="293.05" cy="181.93" r="1.55"/><circle cx="293.69" cy="182.47" r="1.55"/><circle cx="294.33" cy="182.2" r="1.55"/><circle cx="294.97" cy="182.51" r="1.55"/><circle cx="295.61" cy="182.58" r="1.55"/><circle cx="296.25" cy="182.09" r="1.55"/><circle cx="296.89" cy="181.91" r="1.55"/><circle cx="297.53" cy="182.68" r="1.55"/><circle cx="298.17" cy="182.21" r="1.55"/><circle cx="298.81" cy="182.66" r="1.55"/><circle cx="299.45" cy="182.44" r="1.55"/><circle cx="300.09" cy="182.48" r="1.55"/><circle cx="300.73" cy="182.56" r="1.55"/><circle cx="301.37" cy="182.38" r="1.55"/><circle cx="302.01" cy="182.22" r="1.55"/><circle cx="302.65" cy="181.86" r="1.55"/><circle cx="303.29" cy="182.43" r="1.55"/><circle cx="303.93" cy="182.19" r="1.55"/><circle cx="304.57" cy="182.26" r="1.55"/><circle cx="305.21" cy="182.63" r="1.55"/><circle cx="305.85" cy="181.91" r="1.55"/><circle cx="306.49" cy="182.48" r="1.55"/><circle cx="307.13" cy="181.83" r="1.55"/><circle cx="307.77" cy="182.42" r="1.55"/><circle cx="308.41" cy="182.51" r="1.55"/><circle cx="309.05" cy="182.01" r="1.55"/><circle cx="309.69" cy="182.27" r="1.55"/><circle cx="310.33" cy="182.65" r="1.55"/><circle cx="310.97" cy="182.34" r="1.55"/><circle cx="311.61" cy="182.26" r="1.55"/><circle cx="312.25" cy="181.99" r="1.55"/><circle cx="312.89" cy="181.81" r="1.55"/><circle cx="313.53" cy="182.08" r="1.55"/><circle cx="314.17" cy="182.13" r="1.55"/><circle cx="314.81" cy="181.93" r="1.55"/><circle cx="315.45" cy="182.03" r="1.55"/><circle cx="316.09" cy="181.87" r="1.55"/><circle cx="316.73" cy="182.38" r="1.55"/><circle cx="317.37" cy="182.34" r="1.55"/><circle cx="318.01" cy="181.95" r="1.55"/><circle cx="318.65" cy="181.95" r="1.55"/><circle cx="319.29" cy="182.2" r="1.55"/><circle cx="319.93" cy="182.13" r="1.55"/><circle cx="320.57" cy="182.57" r="1.55"/><circle cx="321.21" cy="182.04" r="1.55"/><circle cx="321.85" cy="181.99" r="1.55"/><circle cx="322.49" cy="182.51" r="1.55"/><circle cx="323.13" cy="181.84" r="1.55"/><circle cx="323.77" cy="182.22" r="1.55"/><circle cx="324.41" cy="182.01" r="1.55"/><circle cx="325.05" cy="182.44" r="1.55"/><circle cx="325.69" cy="182.2" r="1.55"/><circle cx="326.33" cy="182.39" r="1.55"/><circle cx="326.97" cy="181.85" r="1.55"/><circle cx="327.61" cy="182.3" r="1.55"/><circle cx="328.25" cy="182.23" r="1.55"/><circle cx="328.89" cy="182.1" r="1.55"/><circle cx="329.53" cy="182.38" r="1.55"/><circle cx="330.17" cy="182.43" r="1.55"/><circle cx="330.81" cy="181.78" r="1.55"/><circle cx="331.45" cy="181.94" r="1.55"/><circle cx="332.09" cy="182" r="1.55"/><circle cx="332.73" cy="181.86" r="1.55"/><circle cx="333.37" cy="181.72" r="1.55"/><circle cx="334.01" cy="181.92" r="1.55"/><circle cx="334.65" cy="181.84" r="1.55"/><circle cx="335.29" cy="182.29" r="1.55"/><circle cx="335.93" cy="182.06" r="1.55"/><circle cx="336.57" cy="181.76" r="1.55"/><circle cx="337.21" cy="181.94" r="1.55"/></g></defs>
<use href="#m16" fill="#fff"/>
<use href="#m16" fill="none" stroke="#1a1a1a" stroke-width="1"/>
<circle cx="337.21" cy="181.94" r="1.55" fill="#fff" stroke="#1a1a1a" stroke-width="1"/>
<path d="M337.8,181.53 L272.63,181.53 L272.44,184.39 L272.19,214.7 L271.81,216.99 L270.4,217.23 L268.99,217.49 L267.58,217.77 L266.17,218.1 L264.76,218.49 L263.35,218.97 L261.94,219.65 L260.53,222.14 L259.29,225.57 L258.62,239.3 L258.05,247.88 L257.67,263.04 L256.71,267.04 L210.4,267.61" fill="none" stroke="#e8141c" stroke-width="0.8"/>
<defs><g id="m17"><circle cx="337.8" cy="181.5" r="1.55"/><circle cx="337.16" cy="181.4" r="1.55"/><circle cx="336.52" cy="181.23" r="1.55"/><circle cx="335.88" cy="181.14" r="1.55"/><circle cx="335.24" cy="181.09" r="1.55"/><circle cx="334.6" cy="181.97" r="1.55"/><circle cx="333.96" cy="181.75" r="1.55"/><circle cx="333.32" cy="181.15" r="1.55"/><circle cx="332.68" cy="181.72" r="1.55"/><circle cx="332.04" cy="181.96" r="1.55"/><circle cx="331.4" cy="181.59" r="1.55"/><circle cx="330.76" cy="181.18" r="1.55"/><circle cx="330.12" cy="181.52" r="1.55"/><circle cx="329.48" cy="181.47" r="1.55"/><circle cx="328.84" cy="181.25" r="1.55"/><circle cx="328.2" cy="181.57" r="1.55"/><circle cx="327.56" cy="181.09" r="1.55"/><circle cx="326.92" cy="181.91" r="1.55"/><circle cx="326.28" cy="181.66" r="1.55"/><circle cx="325.64" cy="181.64" r="1.55"/><circle cx="325" cy="181.92" r="1.55"/><circle cx="324.36" cy="181.67" r="1.55"/><circle cx="323.72" cy="181.3" r="1.55"/><circle cx="323.08" cy="181.3" r="1.55"/><circle cx="322.44" cy="181.2" r="1.55"/><circle cx="321.8" cy="181.1" r="1.55"/><circle cx="321.16" cy="181.77" r="1.55"/><circle cx="320.52" cy="181.83" r="1.55"/><circle cx="319.88" cy="181.34" r="1.55"/><circle cx="319.24" cy="181.25" r="1.55"/><circle cx="318.6" cy="181.65" r="1.55"/><circle cx="317.96" cy="181.84" r="1.55"/><circle cx="317.32" cy="181.91" r="1.55"/><circle cx="316.68" cy="181.23" r="1.55"/><circle cx="316.04" cy="181.78" r="1.55"/><circle cx="315.4" cy="181.83" r="1.55"/><circle cx="314.76" cy="181.75" r="1.55"/><circle cx="314.12" cy="181.37" r="1.55"/><circle cx="313.48" cy="181.24" r="1.55"/><circle cx="312.84" cy="181.82" r="1.55"/><circle cx="312.2" cy="181.37" r="1.55"/><circle cx="311.56" cy="181.41" r="1.55"/><circle cx="310.92" cy="181.57" r="1.55"/><circle cx="310.28" cy="181.41" r="1.55"/><circle cx="309.64" cy="181.83" r="1.55"/><circle cx="309" cy="181.29" r="1.55"/><circle cx="308.36" cy="181.12" r="1.55"/><circle cx="307.72" cy="181.59" r="1.55"/><circle cx="307.08" cy="181.64" r="1.55"/><circle cx="306.44" cy="181.82" r="1.55"/><circle cx="305.8" cy="181.71" r="1.55"/><circle cx="305.16" cy="181.89" r="1.55"/><circle cx="304.52" cy="181.93" r="1.55"/><circle cx="303.88" cy="181.52" r="1.55"/><circle cx="303.24" cy="181.53" r="1.55"/><circle cx="302.6" cy="181.22" r="1.55"/><circle cx="301.96" cy="181.35" r="1.55"/><circle cx="301.32" cy="181.6" r="1.55"/><circle cx="300.68" cy="181.15" r="1.55"/><circle cx="300.04" cy="181.7" r="1.55"/><circle cx="299.4" cy="181.23" r="1.55"/><circle cx="298.76" cy="181.48" r="1.55"/><circle cx="298.12" cy="181.95" r="1.55"/><circle cx="297.48" cy="181.16" r="1.55"/><circle cx="296.84" cy="181.11" r="1.55"/><circle cx="296.2" cy="181.47" r="1.55"/><circle cx="295.56" cy="181.25" r="1.55"/><circle cx="294.92" cy="181.73" r="1.55"/><circle cx="294.28" cy="181.08" r="1.55"/><circle cx="293.64" cy="181.83" r="1.55"/><circle cx="293" cy="181.85" r="1.55"/><circle cx="292.36" cy="181.79" r="1.55"/><circle cx="291.72" cy="181.46" r="1.55"/><circle cx="291.08" cy="181.33" r="1.55"/><circle cx="290.44" cy="181.67" r="1.55"/><circle cx="289.8" cy="181.54" r="1.55"/><circle cx="289.16" cy="181.46" r="1.55"/><circle cx="288.52" cy="181.38" r="1.55"/><circle cx="287.88" cy="181.47" r="1.55"/><circle cx="287.24" cy="181.68" r="1.55"/><circle cx="286.6" cy="181.82" r="1.55"/><circle cx="285.96" cy="181.89" r="1.55"/><circle cx="285.32" cy="181.23" r="1.55"/><circle cx="284.68" cy="181.34" r="1.55"/><circle cx="284.04" cy="181.48" r="1.55"/><circle cx="283.4" cy="181.59" r="1.55"/><circle cx="282.76" cy="181.39" r="1.55"/><circle cx="282.12" cy="181.25" r="1.55"/><circle cx="281.48" cy="181.15" r="1.55"/><circle cx="280.84" cy="181.37" r="1.55"/><circle cx="280.2" cy="181.49" r="1.55"/><circle cx="279.56" cy="181.95" r="1.55"/><circle cx="278.92" cy="181.9" r="1.55"/><circle cx="278.28" cy="181.86" r="1.55"/><circle cx="277.64" cy="181.95" r="1.55"/><circle cx="277" cy="181.94" r="1.55"/><circle cx="276.36" cy="181.64" r="1.55"/><circle cx="275.72" cy="181.81" r="1.55"/><circle cx="275.08" cy="181.13" r="1.55"/><circle cx="274.44" cy="181.69" r="1.55"/><circle cx="273.8" cy="181.63" r="1.55"/><circle cx="273.16" cy="181.35" r="1.55"/><circle cx="272.52" cy="183.31" r="1.55"/><circle cx="272.28" cy="204.18" r="1.55"/><circle cx="271.87" cy="216.61" r="1.55"/><circle cx="271.23" cy="217.22" r="1.55"/><circle cx="270.59" cy="217.01" r="1.55"/><circle cx="269.95" cy="217.17" r="1.55"/><circle cx="269.31" cy="217.77" r="1.55"/><circle cx="268.67" cy="217.13" r="1.55"/><circle cx="268.03" cy="217.4" r="1.55"/><circle cx="267.39" cy="217.98" r="1.55"/><circle cx="266.75" cy="217.92" r="1.55"/><circle cx="266.11" cy="217.74" r="1.55"/><circle cx="265.47" cy="218.44" r="1.55"/><circle cx="264.83" cy="218.35" r="1.55"/><circle cx="264.19" cy="218.76" r="1.55"/><circle cx="263.55" cy="218.83" r="1.55"/><circle cx="262.91" cy="219.21" r="1.55"/><circle cx="262.27" cy="219.55" r="1.55"/><circle cx="261.63" cy="220.11" r="1.55"/><circle cx="260.99" cy="220.99" r="1.55"/><circle cx="260.35" cy="222.36" r="1.55"/><circle cx="259.71" cy="224.77" r="1.55"/><circle cx="259.07" cy="230.18" r="1.55"/><circle cx="258.43" cy="241.85" r="1.55"/><circle cx="257.9" cy="253.9" r="1.55"/><circle cx="257.46" cy="263.69" r="1.55"/><circle cx="256.82" cy="266.23" r="1.55"/><circle cx="256.18" cy="267.08" r="1.55"/><circle cx="255.54" cy="266.83" r="1.55"/><circle cx="254.9" cy="267.05" r="1.55"/><circle cx="254.26" cy="267.12" r="1.55"/><circle cx="253.62" cy="266.83" r="1.55"/><circle cx="252.98" cy="267.15" r="1.55"/><circle cx="252.34" cy="266.75" r="1.55"/><circle cx="251.7" cy="267.12" r="1.55"/><circle cx="251.06" cy="267.19" r="1.55"/><circle cx="250.42" cy="266.74" r="1.55"/><circle cx="249.78" cy="267.04" r="1.55"/><circle cx="249.14" cy="266.75" r="1.55"/><circle cx="248.5" cy="267.09" r="1.55"/><circle cx="247.86" cy="267.48" r="1.55"/><circle cx="247.22" cy="267.2" r="1.55"/><circle cx="246.58" cy="267.36" r="1.55"/><circle cx="245.94" cy="267.41" r="1.55"/><circle cx="245.3" cy="266.84" r="1.55"/><circle cx="244.66" cy="267.63" r="1.55"/><circle cx="244.02" cy="267.4" r="1.55"/><circle cx="243.38" cy="266.85" r="1.55"/><circle cx="242.74" cy="267.51" r="1.55"/><circle cx="242.1" cy="267.13" r="1.55"/><circle cx="241.46" cy="266.93" r="1.55"/><circle cx="240.82" cy="267.65" r="1.55"/><circle cx="240.18" cy="267.3" r="1.55"/><circle cx="239.54" cy="267.5" r="1.55"/><circle cx="238.9" cy="266.94" r="1.55"/><circle cx="238.26" cy="267.52" r="1.55"/><circle cx="237.62" cy="266.88" r="1.55"/><circle cx="236.98" cy="267.05" r="1.55"/><circle cx="236.34" cy="267.18" r="1.55"/><circle cx="235.7" cy="266.87" r="1.55"/><circle cx="235.06" cy="267.39" r="1.55"/><circle cx="234.42" cy="267.06" r="1.55"/><circle cx="233.78" cy="267.15" r="1.55"/><circle cx="233.14" cy="267.52" r="1.55"/><circle cx="232.5" cy="267.27" r="1.55"/><circle cx="231.86" cy="267.7" r="1.55"/><circle cx="231.22" cy="267.47" r="1.55"/><circle cx="230.58" cy="267.7" r="1.55"/><circle cx="229.94" cy="267.43" r="1.55"/><circle cx="229.3" cy="267.76" r="1.55"/><circle cx="228.66" cy="267.72" r="1.55"/><circle cx="228.02" cy="267.1" r="1.55"/><circle cx="227.38" cy="267.63" r="1.55"/><circle cx="226.74" cy="267.27" r="1.55"/><circle cx="226.1" cy="267.66" r="1.55"/><circle cx="225.46" cy="267.59" r="1.55"/><circle cx="224.82" cy="267.73" r="1.55"/><circle cx="224.18" cy="267.1" r="1.55"/><circle cx="223.54" cy="267.34" r="1.55"/><circle cx="222.9" cy="267.67" r="1.55"/><circle cx="222.26" cy="267.87" r="1.55"/><circle cx="221.62" cy="267.68" r="1.55"/><circle cx="220.98" cy="267.07" r="1.55"/><circle cx="220.34" cy="267.58" r="1.55"/><circle cx="219.7" cy="267.14" r="1.55"/><circle cx="219.06" cy="267.55" r="1.55"/><circle cx="218.42" cy="267.79" r="1.55"/><circle cx="217.78" cy="267.17" r="1.55"/><circle cx="217.14" cy="267.91" r="1.55"/><circle cx="216.5" cy="267.7" r="1.55"/><circle cx="215.86" cy="267.33" r="1.55"/><circle cx="215.22" cy="267.28" r="1.55"/><circle cx="214.58" cy="267.51" r="1.55"/><circle cx="213.94" cy="267.87" r="1.55"/><circle cx="213.3" cy="267.65" r="1.55"/><circle cx="212.66" cy="267.24" r="1.55"/><circle cx="212.02" cy="267.16" r="1.55"/><circle cx="211.38" cy="267.25" r="1.55"/><circle cx="210.74" cy="267.88" r="1.55"/></g></defs>
<use href="#m17" fill="#fff"/>
<use href="#m17" fill="none" stroke="#e8141c" stroke-width="1"/>
<circle cx="210.74" cy="267.88" r="1.55" fill="#fff" stroke="#e8141c" stroke-width="1"/>
<path d="M210.4,267.61 L263.91,267.04 L265.12,264.18 L265.5,242.16 L266.14,219.82 L267.58,217.77 L268.99,217.49 L270.4,217.23 L271.81,216.99 L272.95,216.99 L273.34,213.56 L273.59,184.96 L274.1,182.1 L337.8,181.53" fill="none" stroke="#e8141c" stroke-width="0.8"/>
<defs><g id="m18"><circle cx="210.4" cy="267.33" r="1.55"/><circle cx="211.04" cy="267.66" r="1.55"/><circle cx="211.68" cy="267.41" r="1.55"/><circle cx="212.32" cy="267.76" r="1.55"/><circle cx="212.96" cy="267.48" r="1.55"/><circle cx="213.6" cy="267.26" r="1.55"/><circle cx="214.24" cy="267.91" r="1.55"/><circle cx="214.88" cy="267.6" r="1.55"/><circle cx="215.52" cy="267.73" r="1.55"/><circle cx="216.16" cy="267.83" r="1.55"/><circle cx="216.8" cy="267.95" r="1.55"/><circle cx="217.44" cy="267.1" r="1.55"/><circle cx="218.08" cy="267.39" r="1.55"/><circle cx="218.72" cy="267.21" r="1.55"/><circle cx="219.36" cy="267.52" r="1.55"/><circle cx="220" cy="267.85" r="1.55"/><circle cx="220.64" cy="267.77" r="1.55"/><circle cx="221.28" cy="267.08" r="1.55"/><circle cx="221.92" cy="267.2" r="1.55"/><circle cx="222.56" cy="267.77" r="1.55"/><circle cx="223.2" cy="267.64" r="1.55"/><circle cx="223.84" cy="267.37" r="1.55"/><circle cx="224.48" cy="267.44" r="1.55"/><circle cx="225.12" cy="267.15" r="1.55"/><circle cx="225.76" cy="267.76" r="1.55"/><circle cx="226.4" cy="267.35" r="1.55"/><circle cx="227.04" cy="267.77" r="1.55"/><circle cx="227.68" cy="267.53" r="1.55"/><circle cx="228.32" cy="267.04" r="1.55"/><circle cx="228.96" cy="267.26" r="1.55"/><circle cx="229.6" cy="267.15" r="1.55"/><circle cx="230.24" cy="267.76" r="1.55"/><circle cx="230.88" cy="267.48" r="1.55"/><circle cx="231.52" cy="266.98" r="1.55"/><circle cx="232.16" cy="267.08" r="1.55"/><circle cx="232.8" cy="267.25" r="1.55"/><circle cx="233.44" cy="267.34" r="1.55"/><circle cx="234.08" cy="267.43" r="1.55"/><circle cx="234.72" cy="267.25" r="1.55"/><circle cx="235.36" cy="267.22" r="1.55"/><circle cx="236" cy="266.9" r="1.55"/><circle cx="236.64" cy="267.4" r="1.55"/><circle cx="237.28" cy="267.18" r="1.55"/><circle cx="237.92" cy="266.89" r="1.55"/><circle cx="238.56" cy="267.28" r="1.55"/><circle cx="239.2" cy="267.74" r="1.55"/><circle cx="239.84" cy="266.89" r="1.55"/><circle cx="240.48" cy="266.97" r="1.55"/><circle cx="241.12" cy="267.44" r="1.55"/><circle cx="241.76" cy="267.07" r="1.55"/><circle cx="242.4" cy="267.07" r="1.55"/><circle cx="243.04" cy="267.27" r="1.55"/><circle cx="243.68" cy="267.04" r="1.55"/><circle cx="244.32" cy="267.31" r="1.55"/><circle cx="244.96" cy="267.27" r="1.55"/><circle cx="245.6" cy="267.65" r="1.55"/><circle cx="246.24" cy="267.67" r="1.55"/><circle cx="246.88" cy="266.8" r="1.55"/><circle cx="247.52" cy="267.27" r="1.55"/><circle cx="248.16" cy="267.45" r="1.55"/><circle cx="248.8" cy="267.54" r="1.55"/><circle cx="249.44" cy="267.44" r="1.55"/><circle cx="250.08" cy="267.31" r="1.55"/><circle cx="250.72" cy="267.3" r="1.55"/><circle cx="251.36" cy="267.05" r="1.55"/><circle cx="252" cy="266.97" r="1.55"/><circle cx="252.64" cy="267.43" r="1.55"/><circle cx="253.28" cy="267.49" r="1.55"/><circle cx="253.92" cy="267.54" r="1.55"/><circle cx="254.56" cy="267.31" r="1.55"/><circle cx="255.2" cy="266.96" r="1.55"/><circle cx="255.84" cy="267.37" r="1.55"/><circle cx="256.48" cy="267.34" r="1.55"/><circle cx="257.12" cy="267.12" r="1.55"/><circle cx="257.76" cy="267.23" r="1.55"/><circle cx="258.4" cy="266.97" r="1.55"/><circle cx="259.04" cy="267.14" r="1.55"/><circle cx="259.68" cy="267" r="1.55"/><circle cx="260.32" cy="266.68" r="1.55"/><circle cx="260.96" cy="266.93" r="1.55"/><circle cx="261.6" cy="266.91" r="1.55"/><circle cx="262.24" cy="267.5" r="1.55"/><circle cx="262.88" cy="267.04" r="1.55"/><circle cx="263.52" cy="266.93" r="1.55"/><circle cx="264.16" cy="266.22" r="1.55"/><circle cx="264.8" cy="264.7" r="1.55"/><circle cx="265.24" cy="257.01" r="1.55"/><circle cx="265.48" cy="242.82" r="1.55"/><circle cx="265.87" cy="228.7" r="1.55"/><circle cx="266.35" cy="219.85" r="1.55"/><circle cx="266.99" cy="218.57" r="1.55"/><circle cx="267.63" cy="217.71" r="1.55"/><circle cx="268.27" cy="217.69" r="1.55"/><circle cx="268.91" cy="217.32" r="1.55"/><circle cx="269.55" cy="217.08" r="1.55"/><circle cx="270.19" cy="216.87" r="1.55"/><circle cx="270.83" cy="216.98" r="1.55"/><circle cx="271.47" cy="216.88" r="1.55"/><circle cx="272.11" cy="217.2" r="1.55"/><circle cx="272.75" cy="217.04" r="1.55"/><circle cx="273.35" cy="212.03" r="1.55"/><circle cx="273.55" cy="189.5" r="1.55"/><circle cx="274.09" cy="182.51" r="1.55"/><circle cx="274.73" cy="182.17" r="1.55"/><circle cx="275.37" cy="181.71" r="1.55"/><circle cx="276.01" cy="181.79" r="1.55"/><circle cx="276.65" cy="182.15" r="1.55"/><circle cx="277.29" cy="182.51" r="1.55"/><circle cx="277.93" cy="181.94" r="1.55"/><circle cx="278.57" cy="182.31" r="1.55"/><circle cx="279.21" cy="181.99" r="1.55"/><circle cx="279.85" cy="182.38" r="1.55"/><circle cx="280.49" cy="181.65" r="1.55"/><circle cx="281.13" cy="182.02" r="1.55"/><circle cx="281.77" cy="182.39" r="1.55"/><circle cx="282.41" cy="181.82" r="1.55"/><circle cx="283.05" cy="181.8" r="1.55"/><circle cx="283.69" cy="181.58" r="1.55"/><circle cx="284.33" cy="181.71" r="1.55"/><circle cx="284.97" cy="181.79" r="1.55"/><circle cx="285.61" cy="182.18" r="1.55"/><circle cx="286.25" cy="181.74" r="1.55"/><circle cx="286.89" cy="181.89" r="1.55"/><circle cx="287.53" cy="181.71" r="1.55"/><circle cx="288.17" cy="182.07" r="1.55"/><circle cx="288.81" cy="182.3" r="1.55"/><circle cx="289.45" cy="182.1" r="1.55"/><circle cx="290.09" cy="181.68" r="1.55"/><circle cx="290.73" cy="182.16" r="1.55"/><circle cx="291.37" cy="182.36" r="1.55"/><circle cx="292.01" cy="182.03" r="1.55"/><circle cx="292.65" cy="181.55" r="1.55"/><circle cx="293.29" cy="182.21" r="1.55"/><circle cx="293.93" cy="182.26" r="1.55"/><circle cx="294.57" cy="181.77" r="1.55"/><circle cx="295.21" cy="181.58" r="1.55"/><circle cx="295.85" cy="181.62" r="1.55"/><circle cx="296.49" cy="181.93" r="1.55"/><circle cx="297.13" cy="182.23" r="1.55"/><circle cx="297.77" cy="182.01" r="1.55"/><circle cx="298.41" cy="182.26" r="1.55"/><circle cx="299.05" cy="181.62" r="1.55"/><circle cx="299.69" cy="181.71" r="1.55"/><circle cx="300.33" cy="182.09" r="1.55"/><circle cx="300.97" cy="181.99" r="1.55"/><circle cx="301.61" cy="181.77" r="1.55"/><circle cx="302.25" cy="182.01" r="1.55"/><circle cx="302.89" cy="181.7" r="1.55"/><circle cx="303.53" cy="181.44" r="1.55"/><circle cx="304.17" cy="181.75" r="1.55"/><circle cx="304.81" cy="181.42" r="1.55"/><circle cx="305.45" cy="181.93" r="1.55"/><circle cx="306.09" cy="181.66" r="1.55"/><circle cx="306.73" cy="181.8" r="1.55"/><circle cx="307.37" cy="181.89" r="1.55"/><circle cx="308.01" cy="181.58" r="1.55"/><circle cx="308.65" cy="181.76" r="1.55"/><circle cx="309.29" cy="181.35" r="1.55"/><circle cx="309.93" cy="182.16" r="1.55"/><circle cx="310.57" cy="181.83" r="1.55"/><circle cx="311.21" cy="182.21" r="1.55"/><circle cx="311.85" cy="181.36" r="1.55"/><circle cx="312.49" cy="181.86" r="1.55"/><circle cx="313.13" cy="181.95" r="1.55"/><circle cx="313.77" cy="181.59" r="1.55"/><circle cx="314.41" cy="181.37" r="1.55"/><circle cx="315.05" cy="181.42" r="1.55"/><circle cx="315.69" cy="181.4" r="1.55"/><circle cx="316.33" cy="181.96" r="1.55"/><circle cx="316.97" cy="181.35" r="1.55"/><circle cx="317.61" cy="181.99" r="1.55"/><circle cx="318.25" cy="181.63" r="1.55"/><circle cx="318.89" cy="181.73" r="1.55"/><circle cx="319.53" cy="181.77" r="1.55"/><circle cx="320.17" cy="181.74" r="1.55"/><circle cx="320.81" cy="181.82" r="1.55"/><circle cx="321.45" cy="181.77" r="1.55"/><circle cx="322.09" cy="181.52" r="1.55"/><circle cx="322.73" cy="181.88" r="1.55"/><circle cx="323.37" cy="181.44" r="1.55"/><circle cx="324.01" cy="181.84" r="1.55"/><circle cx="324.65" cy="181.88" r="1.55"/><circle cx="325.29" cy="181.89" r="1.55"/><circle cx="325.93" cy="181.46" r="1.55"/><circle cx="326.57" cy="181.87" r="1.55"/><circle cx="327.21" cy="182.05" r="1.55"/><circle cx="327.85" cy="181.58" r="1.55"/><circle cx="328.49" cy="181.41" r="1.55"/><circle cx="329.13" cy="181.63" r="1.55"/><circle cx="329.77" cy="182" r="1.55"/><circle cx="330.41" cy="181.26" r="1.55"/><circle cx="331.05" cy="181.15" r="1.55"/><circle cx="331.69" cy="181.56" r="1.55"/><circle cx="332.33" cy="181.72" r="1.55"/><circle cx="332.97" cy="181.82" r="1.55"/><circle cx="333.61" cy="181.44" r="1.55"/><circle cx="334.25" cy="182" r="1.55"/><circle cx="334.89" cy="181.31" r="1.55"/><circle cx="335.53" cy="181.78" r="1.55"/><circle cx="336.17" cy="181.17" r="1.55"/><circle cx="336.81" cy="181.11" r="1.55"/><circle cx="337.45" cy="181.2" r="1.55"/></g></defs>
<use href="#m18" fill="#fff"/>
<use href="#m18" fill="none" stroke="#e8141c" stroke-width="1"/>
<circle cx="337.45" cy="181.2" r="1.55" fill="#fff" stroke="#e8141c" stroke-width="1"/>
<path d="M337.8,179.53 L272.76,179.53 L272.57,182.39 L272.32,212.99 L271.93,215.28 L270.92,215.54 L269.9,215.82 L268.88,216.14 L267.86,216.51 L266.84,216.94 L265.82,217.47 L264.8,218.23 L263.78,221 L262.54,224.43 L261.87,238.16 L261.3,247.88 L260.91,265.9 L259.96,269.9 L210.4,270.47" fill="none" stroke="#1f50b4" stroke-width="0.8"/>
<defs><g id="m19"><circle cx="337.8" cy="179.13" r="1.55"/><circle cx="337.16" cy="179.53" r="1.55"/><circle cx="336.52" cy="179.58" r="1.55"/><circle cx="335.88" cy="179.24" r="1.55"/><circle cx="335.24" cy="179.92" r="1.55"/><circle cx="334.6" cy="179.41" r="1.55"/><circle cx="333.96" cy="179.21" r="1.55"/><circle cx="333.32" cy="179.24" r="1.55"/><circle cx="332.68" cy="179.74" r="1.55"/><circle cx="332.04" cy="179.91" r="1.55"/><circle cx="331.4" cy="179.22" r="1.55"/><circle cx="330.76" cy="179.1" r="1.55"/><circle cx="330.12" cy="179.78" r="1.55"/><circle cx="329.48" cy="179.29" r="1.55"/><circle cx="328.84" cy="179.96" r="1.55"/><circle cx="328.2" cy="179.53" r="1.55"/><circle cx="327.56" cy="179.65" r="1.55"/><circle cx="326.92" cy="179.39" r="1.55"/><circle cx="326.28" cy="179.8" r="1.55"/><circle cx="325.64" cy="179.49" r="1.55"/><circle cx="325" cy="179.37" r="1.55"/><circle cx="324.36" cy="179.89" r="1.55"/><circle cx="323.72" cy="179.17" r="1.55"/><circle cx="323.08" cy="179.74" r="1.55"/><circle cx="322.44" cy="179.13" r="1.55"/><circle cx="321.8" cy="179.66" r="1.55"/><circle cx="321.16" cy="179.44" r="1.55"/><circle cx="320.52" cy="179.85" r="1.55"/><circle cx="319.88" cy="179.13" r="1.55"/><circle cx="319.24" cy="179.58" r="1.55"/><circle cx="318.6" cy="179.44" r="1.55"/><circle cx="317.96" cy="179.9" r="1.55"/><circle cx="317.32" cy="179.93" r="1.55"/><circle cx="316.68" cy="179.64" r="1.55"/><circle cx="316.04" cy="179.28" r="1.55"/><circle cx="315.4" cy="179.3" r="1.55"/><circle cx="314.76" cy="179.31" r="1.55"/><circle cx="314.12" cy="179.47" r="1.55"/><circle cx="313.48" cy="179.28" r="1.55"/><circle cx="312.84" cy="179.26" r="1.55"/><circle cx="312.2" cy="179.76" r="1.55"/><circle cx="311.56" cy="179.65" r="1.55"/><circle cx="310.92" cy="179.34" r="1.55"/><circle cx="310.28" cy="179.97" r="1.55"/><circle cx="309.64" cy="179.27" r="1.55"/><circle cx="309" cy="179.59" r="1.55"/><circle cx="308.36" cy="179.22" r="1.55"/><circle cx="307.72" cy="179.85" r="1.55"/><circle cx="307.08" cy="179.86" r="1.55"/><circle cx="306.44" cy="179.32" r="1.55"/><circle cx="305.8" cy="179.75" r="1.55"/><circle cx="305.16" cy="179.82" r="1.55"/><circle cx="304.52" cy="179.33" r="1.55"/><circle cx="303.88" cy="179.37" r="1.55"/><circle cx="303.24" cy="179.51" r="1.55"/><circle cx="302.6" cy="179.88" r="1.55"/><circle cx="301.96" cy="179.22" r="1.55"/><circle cx="301.32" cy="179.69" r="1.55"/><circle cx="300.68" cy="179.61" r="1.55"/><circle cx="300.04" cy="179.48" r="1.55"/><circle cx="299.4" cy="179.6" r="1.55"/><circle cx="298.76" cy="179.87" r="1.55"/><circle cx="298.12" cy="179.26" r="1.55"/><circle cx="297.48" cy="179.87" r="1.55"/><circle cx="296.84" cy="179.4" r="1.55"/><circle cx="296.2" cy="179.78" r="1.55"/><circle cx="295.56" cy="179.85" r="1.55"/><circle cx="294.92" cy="179.24" r="1.55"/><circle cx="294.28" cy="179.85" r="1.55"/><circle cx="293.64" cy="179.97" r="1.55"/><circle cx="293" cy="179.34" r="1.55"/><circle cx="292.36" cy="179.1" r="1.55"/><circle cx="291.72" cy="179.18" r="1.55"/><circle cx="291.08" cy="179.95" r="1.55"/><circle cx="290.44" cy="179.08" r="1.55"/><circle cx="289.8" cy="179.9" r="1.55"/><circle cx="289.16" cy="179.21" r="1.55"/><circle cx="288.52" cy="179.74" r="1.55"/><circle cx="287.88" cy="179.16" r="1.55"/><circle cx="287.24" cy="179.23" r="1.55"/><circle cx="286.6" cy="179.69" r="1.55"/><circle cx="285.96" cy="179.16" r="1.55"/><circle cx="285.32" cy="179.38" r="1.55"/><circle cx="284.68" cy="179.9" r="1.55"/><circle cx="284.04" cy="179.72" r="1.55"/><circle cx="283.4" cy="179.87" r="1.55"/><circle cx="282.76" cy="179.96" r="1.55"/><circle cx="282.12" cy="179.11" r="1.55"/><circle cx="281.48" cy="179.29" r="1.55"/><circle cx="280.84" cy="179.79" r="1.55"/><circle cx="280.2" cy="179.7" r="1.55"/><circle cx="279.56" cy="179.11" r="1.55"/><circle cx="278.92" cy="179.53" r="1.55"/><circle cx="278.28" cy="179.28" r="1.55"/><circle cx="277.64" cy="179.46" r="1.55"/><circle cx="277" cy="179.17" r="1.55"/><circle cx="276.36" cy="179.09" r="1.55"/><circle cx="275.72" cy="179.97" r="1.55"/><circle cx="275.08" cy="179.36" r="1.55"/><circle cx="274.44" cy="179.87" r="1.55"/><circle cx="273.8" cy="179.18" r="1.55"/><circle cx="273.16" cy="179.51" r="1.55"/><circle cx="272.56" cy="183.82" r="1.55"/><circle cx="272.37" cy="206.08" r="1.55"/><circle cx="271.88" cy="215" r="1.55"/><circle cx="271.24" cy="215.62" r="1.55"/><circle cx="270.6" cy="215.31" r="1.55"/><circle cx="269.96" cy="216.02" r="1.55"/><circle cx="269.32" cy="216.01" r="1.55"/><circle cx="268.68" cy="215.87" r="1.55"/><circle cx="268.04" cy="216.31" r="1.55"/><circle cx="267.4" cy="216.7" r="1.55"/><circle cx="266.76" cy="217.36" r="1.55"/><circle cx="266.12" cy="217.18" r="1.55"/><circle cx="265.48" cy="217.47" r="1.55"/><circle cx="264.84" cy="218.63" r="1.55"/><circle cx="264.2" cy="220.22" r="1.55"/><circle cx="263.56" cy="221.83" r="1.55"/><circle cx="262.92" cy="223.18" r="1.55"/><circle cx="262.4" cy="227.01" r="1.55"/><circle cx="262.06" cy="234.09" r="1.55"/><circle cx="261.68" cy="240.92" r="1.55"/><circle cx="261.29" cy="247.89" r="1.55"/><circle cx="261.14" cy="255.31" r="1.55"/><circle cx="260.99" cy="262.22" r="1.55"/><circle cx="260.6" cy="267.25" r="1.55"/><circle cx="259.96" cy="269.76" r="1.55"/><circle cx="259.32" cy="269.47" r="1.55"/><circle cx="258.68" cy="270.09" r="1.55"/><circle cx="258.04" cy="270.06" r="1.55"/><circle cx="257.4" cy="269.97" r="1.55"/><circle cx="256.76" cy="269.98" r="1.55"/><circle cx="256.12" cy="270.12" r="1.55"/><circle cx="255.48" cy="270.39" r="1.55"/><circle cx="254.84" cy="270.3" r="1.55"/><circle cx="254.2" cy="270.16" r="1.55"/><circle cx="253.56" cy="269.89" r="1.55"/><circle cx="252.92" cy="269.82" r="1.55"/><circle cx="252.28" cy="269.92" r="1.55"/><circle cx="251.64" cy="270.42" r="1.55"/><circle cx="251" cy="269.9" r="1.55"/><circle cx="250.36" cy="269.91" r="1.55"/><circle cx="249.72" cy="269.94" r="1.55"/><circle cx="249.08" cy="269.71" r="1.55"/><circle cx="248.44" cy="270.48" r="1.55"/><circle cx="247.8" cy="269.6" r="1.55"/><circle cx="247.16" cy="270.15" r="1.55"/><circle cx="246.52" cy="270.44" r="1.55"/><circle cx="245.88" cy="269.84" r="1.55"/><circle cx="245.24" cy="270.17" r="1.55"/><circle cx="244.6" cy="269.97" r="1.55"/><circle cx="243.96" cy="269.85" r="1.55"/><circle cx="243.32" cy="269.82" r="1.55"/><circle cx="242.68" cy="269.76" r="1.55"/><circle cx="242.04" cy="270.42" r="1.55"/><circle cx="241.4" cy="270.37" r="1.55"/><circle cx="240.76" cy="270.49" r="1.55"/><circle cx="240.12" cy="269.73" r="1.55"/><circle cx="239.48" cy="270.31" r="1.55"/><circle cx="238.84" cy="269.99" r="1.55"/><circle cx="238.2" cy="270.28" r="1.55"/><circle cx="237.56" cy="270.2" r="1.55"/><circle cx="236.92" cy="270" r="1.55"/><circle cx="236.28" cy="270.6" r="1.55"/><circle cx="235.64" cy="269.73" r="1.55"/><circle cx="235" cy="270.41" r="1.55"/><circle cx="234.36" cy="270.52" r="1.55"/><circle cx="233.72" cy="270.21" r="1.55"/><circle cx="233.08" cy="270.3" r="1.55"/><circle cx="232.44" cy="270.66" r="1.55"/><circle cx="231.8" cy="269.99" r="1.55"/><circle cx="231.16" cy="270.35" r="1.55"/><circle cx="230.52" cy="270.46" r="1.55"/><circle cx="229.88" cy="270.14" r="1.55"/><circle cx="229.24" cy="270.45" r="1.55"/><circle cx="228.6" cy="270.17" r="1.55"/><circle cx="227.96" cy="270.29" r="1.55"/><circle cx="227.32" cy="270.38" r="1.55"/><circle cx="226.68" cy="270.45" r="1.55"/><circle cx="226.04" cy="270.13" r="1.55"/><circle cx="225.4" cy="270.42" r="1.55"/><circle cx="224.76" cy="270.35" r="1.55"/><circle cx="224.12" cy="270.07" r="1.55"/><circle cx="223.48" cy="270.42" r="1.55"/><circle cx="222.84" cy="270.12" r="1.55"/><circle cx="222.2" cy="270.71" r="1.55"/><circle cx="221.56" cy="270.32" r="1.55"/><circle cx="220.92" cy="270.55" r="1.55"/><circle cx="220.28" cy="270.38" r="1.55"/><circle cx="219.64" cy="270.35" r="1.55"/><circle cx="219" cy="270.12" r="1.55"/><circle cx="218.36" cy="270.06" r="1.55"/><circle cx="217.72" cy="270.77" r="1.55"/><circle cx="217.08" cy="270.42" r="1.55"/><circle cx="216.44" cy="270.43" r="1.55"/><circle cx="215.8" cy="270.44" r="1.55"/><circle cx="215.16" cy="270.7" r="1.55"/><circle cx="214.52" cy="270.19" r="1.55"/><circle cx="213.88" cy="270.14" r="1.55"/><circle cx="213.24" cy="270.73" r="1.55"/><circle cx="212.6" cy="270.41" r="1.55"/><circle cx="211.96" cy="270.58" r="1.55"/><circle cx="211.32" cy="270.76" r="1.55"/><circle cx="210.68" cy="270.83" r="1.55"/></g></defs>
<use href="#m19" fill="#fff"/>
<use href="#m19" fill="none" stroke="#1f50b4" stroke-width="1"/>
<circle cx="210.68" cy="270.83" r="1.55" fill="#fff" stroke="#1f50b4" stroke-width="1"/>
<path d="M210.4,270.47 L266.14,269.9 L267.35,267.04 L267.73,242.16 L268.37,218.04 L268.88,216.14 L269.9,215.82 L270.92,215.54 L271.93,215.28 L273.08,215.28 L273.46,211.84 L273.72,182.96 L274.23,180.1 L337.8,179.53" fill="none" stroke="#1f50b4" stroke-width="0.8"/>
<defs><g id="m20"><circle cx="210.4" cy="270.81" r="1.55"/><circle cx="211.04" cy="270.06" r="1.55"/><circle cx="211.68" cy="270.35" r="1.55"/><circle cx="212.32" cy="270.75" r="1.55"/><circle cx="212.96" cy="270.73" r="1.55"/><circle cx="213.6" cy="270.1" r="1.55"/><circle cx="214.24" cy="270.12" r="1.55"/><circle cx="214.88" cy="270.2" r="1.55"/><circle cx="215.52" cy="270.06" r="1.55"/><circle cx="216.16" cy="270.29" r="1.55"/><circle cx="216.8" cy="270.68" r="1.55"/><circle cx="217.44" cy="270.42" r="1.55"/><circle cx="218.08" cy="270.35" r="1.55"/><circle cx="218.72" cy="270.02" r="1.55"/><circle cx="219.36" cy="270.29" r="1.55"/><circle cx="220" cy="270.82" r="1.55"/><circle cx="220.64" cy="270.54" r="1.55"/><circle cx="221.28" cy="270.32" r="1.55"/><circle cx="221.92" cy="270.34" r="1.55"/><circle cx="222.56" cy="270.62" r="1.55"/><circle cx="223.2" cy="270.58" r="1.55"/><circle cx="223.84" cy="270.02" r="1.55"/><circle cx="224.48" cy="270.49" r="1.55"/><circle cx="225.12" cy="270.2" r="1.55"/><circle cx="225.76" cy="270.33" r="1.55"/><circle cx="226.4" cy="270.07" r="1.55"/><circle cx="227.04" cy="270.19" r="1.55"/><circle cx="227.68" cy="270.15" r="1.55"/><circle cx="228.32" cy="270.18" r="1.55"/><circle cx="228.96" cy="269.85" r="1.55"/><circle cx="229.6" cy="270.01" r="1.55"/><circle cx="230.24" cy="270.33" r="1.55"/><circle cx="230.88" cy="269.87" r="1.55"/><circle cx="231.52" cy="269.97" r="1.55"/><circle cx="232.16" cy="270.45" r="1.55"/><circle cx="232.8" cy="270.04" r="1.55"/><circle cx="233.44" cy="270.08" r="1.55"/><circle cx="234.08" cy="270" r="1.55"/><circle cx="234.72" cy="270.53" r="1.55"/><circle cx="235.36" cy="269.85" r="1.55"/><circle cx="236" cy="270.33" r="1.55"/><circle cx="236.64" cy="270.53" r="1.55"/><circle cx="237.28" cy="269.93" r="1.55"/><circle cx="237.92" cy="270.12" r="1.55"/><circle cx="238.56" cy="270.45" r="1.55"/><circle cx="239.2" cy="270.28" r="1.55"/><circle cx="239.84" cy="270.06" r="1.55"/><circle cx="240.48" cy="269.75" r="1.55"/><circle cx="241.12" cy="270.11" r="1.55"/><circle cx="241.76" cy="270.03" r="1.55"/><circle cx="242.4" cy="270.34" r="1.55"/><circle cx="243.04" cy="269.95" r="1.55"/><circle cx="243.68" cy="270.05" r="1.55"/><circle cx="244.32" cy="270.26" r="1.55"/><circle cx="244.96" cy="270.4" r="1.55"/><circle cx="245.6" cy="269.98" r="1.55"/><circle cx="246.24" cy="270" r="1.55"/><circle cx="246.88" cy="270.17" r="1.55"/><circle cx="247.52" cy="270.48" r="1.55"/><circle cx="248.16" cy="269.81" r="1.55"/><circle cx="248.8" cy="270.5" r="1.55"/><circle cx="249.44" cy="270.26" r="1.55"/><circle cx="250.08" cy="269.95" r="1.55"/><circle cx="250.72" cy="270.21" r="1.55"/><circle cx="251.36" cy="269.9" r="1.55"/><circle cx="252" cy="269.66" r="1.55"/><circle cx="252.64" cy="270.27" r="1.55"/><circle cx="253.28" cy="269.93" r="1.55"/><circle cx="253.92" cy="270.05" r="1.55"/><circle cx="254.56" cy="270.02" r="1.55"/><circle cx="255.2" cy="270.38" r="1.55"/><circle cx="255.84" cy="270.24" r="1.55"/><circle cx="256.48" cy="269.57" r="1.55"/><circle cx="257.12" cy="270.08" r="1.55"/><circle cx="257.76" cy="269.95" r="1.55"/><circle cx="258.4" cy="269.95" r="1.55"/><circle cx="259.04" cy="270.28" r="1.55"/><circle cx="259.68" cy="269.89" r="1.55"/><circle cx="260.32" cy="269.94" r="1.55"/><circle cx="260.96" cy="270.31" r="1.55"/><circle cx="261.6" cy="269.89" r="1.55"/><circle cx="262.24" cy="269.93" r="1.55"/><circle cx="262.88" cy="269.95" r="1.55"/><circle cx="263.52" cy="270.22" r="1.55"/><circle cx="264.16" cy="270.08" r="1.55"/><circle cx="264.8" cy="270.13" r="1.55"/><circle cx="265.44" cy="269.82" r="1.55"/><circle cx="266.08" cy="269.49" r="1.55"/><circle cx="266.72" cy="268.69" r="1.55"/><circle cx="267.35" cy="266.96" r="1.55"/><circle cx="267.46" cy="260.15" r="1.55"/><circle cx="267.56" cy="253.15" r="1.55"/><circle cx="267.67" cy="245.56" r="1.55"/><circle cx="267.82" cy="238.66" r="1.55"/><circle cx="268" cy="231.53" r="1.55"/><circle cx="268.19" cy="225.19" r="1.55"/><circle cx="268.38" cy="217.63" r="1.55"/><circle cx="269.02" cy="215.73" r="1.55"/><circle cx="269.66" cy="216.13" r="1.55"/><circle cx="270.3" cy="215.77" r="1.55"/><circle cx="270.94" cy="215.13" r="1.55"/><circle cx="271.58" cy="215.53" r="1.55"/><circle cx="272.22" cy="215.47" r="1.55"/><circle cx="272.86" cy="215.26" r="1.55"/><circle cx="273.47" cy="210.22" r="1.55"/><circle cx="273.67" cy="188.79" r="1.55"/><circle cx="274.19" cy="180.22" r="1.55"/><circle cx="274.83" cy="180.17" r="1.55"/><circle cx="275.47" cy="180.54" r="1.55"/><circle cx="276.11" cy="180.37" r="1.55"/><circle cx="276.75" cy="180.41" r="1.55"/><circle cx="277.39" cy="179.75" r="1.55"/><circle cx="278.03" cy="179.91" r="1.55"/><circle cx="278.67" cy="180.07" r="1.55"/><circle cx="279.31" cy="179.61" r="1.55"/><circle cx="279.95" cy="180.49" r="1.55"/><circle cx="280.59" cy="179.84" r="1.55"/><circle cx="281.23" cy="179.82" r="1.55"/><circle cx="281.87" cy="179.86" r="1.55"/><circle cx="282.51" cy="179.8" r="1.55"/><circle cx="283.15" cy="180.34" r="1.55"/><circle cx="283.79" cy="180.06" r="1.55"/><circle cx="284.43" cy="180.02" r="1.55"/><circle cx="285.07" cy="179.93" r="1.55"/><circle cx="285.71" cy="179.59" r="1.55"/><circle cx="286.35" cy="179.81" r="1.55"/><circle cx="286.99" cy="180.31" r="1.55"/><circle cx="287.63" cy="180.25" r="1.55"/><circle cx="288.27" cy="180.29" r="1.55"/><circle cx="288.91" cy="179.75" r="1.55"/><circle cx="289.55" cy="179.69" r="1.55"/><circle cx="290.19" cy="179.55" r="1.55"/><circle cx="290.83" cy="179.98" r="1.55"/><circle cx="291.47" cy="179.83" r="1.55"/><circle cx="292.11" cy="179.9" r="1.55"/><circle cx="292.75" cy="179.92" r="1.55"/><circle cx="293.39" cy="180" r="1.55"/><circle cx="294.03" cy="179.8" r="1.55"/><circle cx="294.67" cy="180.19" r="1.55"/><circle cx="295.31" cy="179.64" r="1.55"/><circle cx="295.95" cy="180.28" r="1.55"/><circle cx="296.59" cy="179.95" r="1.55"/><circle cx="297.23" cy="179.49" r="1.55"/><circle cx="297.87" cy="179.72" r="1.55"/><circle cx="298.51" cy="179.91" r="1.55"/><circle cx="299.15" cy="179.79" r="1.55"/><circle cx="299.79" cy="179.93" r="1.55"/><circle cx="300.43" cy="179.7" r="1.55"/><circle cx="301.07" cy="179.65" r="1.55"/><circle cx="301.71" cy="180.12" r="1.55"/><circle cx="302.35" cy="179.66" r="1.55"/><circle cx="302.99" cy="180.03" r="1.55"/><circle cx="303.63" cy="180.11" r="1.55"/><circle cx="304.27" cy="179.91" r="1.55"/><circle cx="304.91" cy="179.78" r="1.55"/><circle cx="305.55" cy="180.21" r="1.55"/><circle cx="306.19" cy="179.76" r="1.55"/><circle cx="306.83" cy="180.14" r="1.55"/><circle cx="307.47" cy="179.4" r="1.55"/><circle cx="308.11" cy="179.73" r="1.55"/><circle cx="308.75" cy="179.91" r="1.55"/><circle cx="309.39" cy="179.38" r="1.55"/><circle cx="310.03" cy="180.1" r="1.55"/><circle cx="310.67" cy="179.38" r="1.55"/><circle cx="311.31" cy="179.85" r="1.55"/><circle cx="311.95" cy="179.47" r="1.55"/><circle cx="312.59" cy="180.13" r="1.55"/><circle cx="313.23" cy="179.8" r="1.55"/><circle cx="313.87" cy="180.01" r="1.55"/><circle cx="314.51" cy="179.73" r="1.55"/><circle cx="315.15" cy="179.89" r="1.55"/><circle cx="315.79" cy="179.88" r="1.55"/><circle cx="316.43" cy="179.53" r="1.55"/><circle cx="317.07" cy="179.45" r="1.55"/><circle cx="317.71" cy="180.01" r="1.55"/><circle cx="318.35" cy="179.38" r="1.55"/><circle cx="318.99" cy="180.07" r="1.55"/><circle cx="319.63" cy="179.43" r="1.55"/><circle cx="320.27" cy="179.32" r="1.55"/><circle cx="320.91" cy="179.31" r="1.55"/><circle cx="321.55" cy="179.93" r="1.55"/><circle cx="322.19" cy="180.07" r="1.55"/><circle cx="322.83" cy="179.58" r="1.55"/><circle cx="323.47" cy="179.8" r="1.55"/><circle cx="324.11" cy="179.43" r="1.55"/><circle cx="324.75" cy="180.01" r="1.55"/><circle cx="325.39" cy="179.8" r="1.55"/><circle cx="326.03" cy="179.32" r="1.55"/><circle cx="326.67" cy="179.23" r="1.55"/><circle cx="327.31" cy="179.8" r="1.55"/><circle cx="327.95" cy="179.2" r="1.55"/><circle cx="328.59" cy="179.91" r="1.55"/><circle cx="329.23" cy="179.42" r="1.55"/><circle cx="329.87" cy="179.36" r="1.55"/><circle cx="330.51" cy="179.67" r="1.55"/><circle cx="331.15" cy="179.42" r="1.55"/><circle cx="331.79" cy="179.63" r="1.55"/><circle cx="332.43" cy="179.26" r="1.55"/><circle cx="333.07" cy="179.94" r="1.55"/><circle cx="333.71" cy="179.4" r="1.55"/><circle cx="334.35" cy="179.86" r="1.55"/><circle cx="334.99" cy="179.24" r="1.55"/><circle cx="335.63" cy="179.81" r="1.55"/><circle cx="336.27" cy="179.97" r="1.55"/><circle cx="336.91" cy="179.44" r="1.55"/><circle cx="337.55" cy="179.11" r="1.55"/></g></defs>
<use href="#m20" fill="#fff"/>
<use href="#m20" fill="none" stroke="#1f50b4" stroke-width="1"/>
<circle cx="337.55" cy="179.11" r="1.55" fill="#fff" stroke="#1f50b4" stroke-width="1"/>
<rect x="210.4" y="167.7" width="127.5" height="114.7" fill="none" stroke="#2a2a2a" stroke-width="1.2"/>
<line x1="226.33" y1="282.4" x2="226.33" y2="280.4" stroke="#2a2a2a" stroke-width="0.9"/>
<line x1="226.33" y1="167.7" x2="226.33" y2="169.7" stroke="#2a2a2a" stroke-width="0.9"/>
<line x1="242.25" y1="282.4" x2="242.25" y2="280.4" stroke="#2a2a2a" stroke-width="0.9"/>
<line x1="242.25" y1="167.7" x2="242.25" y2="169.7" stroke="#2a2a2a" stroke-width="0.9"/>
<line x1="258.18" y1="282.4" x2="258.18" y2="280.4" stroke="#2a2a2a" stroke-width="0.9"/>
<line x1="258.18" y1="167.7" x2="258.18" y2="169.7" stroke="#2a2a2a" stroke-width="0.9"/>
<line x1="274.1" y1="282.4" x2="274.1" y2="280.4" stroke="#2a2a2a" stroke-width="0.9"/>
<line x1="274.1" y1="167.7" x2="274.1" y2="169.7" stroke="#2a2a2a" stroke-width="0.9"/>
<line x1="290.03" y1="282.4" x2="290.03" y2="280.4" stroke="#2a2a2a" stroke-width="0.9"/>
<line x1="290.03" y1="167.7" x2="290.03" y2="169.7" stroke="#2a2a2a" stroke-width="0.9"/>
<line x1="305.95" y1="282.4" x2="305.95" y2="280.4" stroke="#2a2a2a" stroke-width="0.9"/>
<line x1="305.95" y1="167.7" x2="305.95" y2="169.7" stroke="#2a2a2a" stroke-width="0.9"/>
<line x1="321.88" y1="282.4" x2="321.88" y2="280.4" stroke="#2a2a2a" stroke-width="0.9"/>
<line x1="321.88" y1="167.7" x2="321.88" y2="169.7" stroke="#2a2a2a" stroke-width="0.9"/>
<line x1="210.4" y1="267.9" x2="212.4" y2="267.9" stroke="#2a2a2a" stroke-width="0.9"/>
<line x1="337.9" y1="267.9" x2="335.9" y2="267.9" stroke="#2a2a2a" stroke-width="0.9"/>
<line x1="210.4" y1="253.6" x2="212.4" y2="253.6" stroke="#2a2a2a" stroke-width="0.9"/>
<line x1="337.9" y1="253.6" x2="335.9" y2="253.6" stroke="#2a2a2a" stroke-width="0.9"/>
<line x1="210.4" y1="239.3" x2="212.4" y2="239.3" stroke="#2a2a2a" stroke-width="0.9"/>
<line x1="337.9" y1="239.3" x2="335.9" y2="239.3" stroke="#2a2a2a" stroke-width="0.9"/>
<line x1="210.4" y1="225" x2="212.4" y2="225" stroke="#2a2a2a" stroke-width="0.9"/>
<line x1="337.9" y1="225" x2="335.9" y2="225" stroke="#2a2a2a" stroke-width="0.9"/>
<line x1="210.4" y1="210.7" x2="212.4" y2="210.7" stroke="#2a2a2a" stroke-width="0.9"/>
<line x1="337.9" y1="210.7" x2="335.9" y2="210.7" stroke="#2a2a2a" stroke-width="0.9"/>
<line x1="210.4" y1="196.4" x2="212.4" y2="196.4" stroke="#2a2a2a" stroke-width="0.9"/>
<line x1="337.9" y1="196.4" x2="335.9" y2="196.4" stroke="#2a2a2a" stroke-width="0.9"/>
<line x1="210.4" y1="182.1" x2="212.4" y2="182.1" stroke="#2a2a2a" stroke-width="0.9"/>
<line x1="337.9" y1="182.1" x2="335.9" y2="182.1" stroke="#2a2a2a" stroke-width="0.9"/>
<text x="174.4" y="174.4" font-size="9.8" text-anchor="start" fill="#262626" stroke="#262626" stroke-width="0.1">(e)</text>
<text transform="translate(205.9,171.7) scale(0.92,1)" font-size="10" text-anchor="end" fill="#262626" stroke="#262626" stroke-width="0.1">1.0</text>
<text transform="translate(205.9,200.3) scale(0.92,1)" font-size="10" text-anchor="end" fill="#262626" stroke="#262626" stroke-width="0.1">0.5</text>
<text transform="translate(205.9,228.9) scale(0.92,1)" font-size="10" text-anchor="end" fill="#262626" stroke="#262626" stroke-width="0.1">0.0</text>
<text transform="translate(205.9,257.5) scale(0.92,1)" font-size="10" text-anchor="end" fill="#262626" stroke="#262626" stroke-width="0.1">−<tspan dx="0.8"></tspan>0.5</text>
<text transform="translate(205.9,286.1) scale(0.92,1)" font-size="10" text-anchor="end" fill="#262626" stroke="#262626" stroke-width="0.1">−<tspan dx="0.8"></tspan>1.0</text>
<text transform="translate(211.8,296.8) scale(0.92,1)" font-size="10" text-anchor="middle" fill="#262626" stroke="#262626" stroke-width="0.1">−<tspan dx="0.8"></tspan>100</text>
<text transform="translate(243.4,296.8) scale(0.92,1)" font-size="10" text-anchor="middle" fill="#262626" stroke="#262626" stroke-width="0.1">−<tspan dx="0.8"></tspan>50</text>
<text transform="translate(274,296.8) scale(0.92,1)" font-size="10" text-anchor="middle" fill="#262626" stroke="#262626" stroke-width="0.1">0</text>
<text transform="translate(306.1,296.8) scale(0.92,1)" font-size="10" text-anchor="middle" fill="#262626" stroke="#262626" stroke-width="0.1">50</text>
<text transform="translate(336,296.8) scale(0.92,1)" font-size="10" text-anchor="middle" fill="#262626" stroke="#262626" stroke-width="0.1">100</text>
<text x="274" y="309.5" font-size="10.4" text-anchor="middle" fill="#262626" stroke="#262626" stroke-width="0.1"><tspan font-style="italic">B</tspan><tspan font-size="6.4" dy="2.6">in</tspan><tspan dy="-2.6"> (mT)</tspan></text>
<text x="0" y="0" font-size="10.4" text-anchor="middle" fill="#262626" stroke="#262626" stroke-width="0.1" transform="translate(187.6,224.4) rotate(-90) scale(1.12,1)"><tspan font-style="italic">M</tspan> (MA/m)</text>
<text x="287.4" y="236.8" font-size="8.5" text-anchor="start" fill="#262626" stroke="#262626" stroke-width="0.1">W-capped</text>
<line x1="287.1" y1="245.3" x2="299.7" y2="245.3" stroke="#1a1a1a" stroke-width="1.1"/>
<circle cx="293.4" cy="245.3" r="1.75" fill="#fff" stroke="#1a1a1a" stroke-width="1.2"/>
<text x="303" y="248.4" font-size="8.5" text-anchor="start" fill="#262626" stroke="#262626" stroke-width="0.1">As-dep.</text>
<line x1="287.1" y1="256.6" x2="299.7" y2="256.6" stroke="#e8141c" stroke-width="1.1"/>
<circle cx="293.4" cy="256.6" r="1.75" fill="#fff" stroke="#e8141c" stroke-width="1.2"/>
<text x="303" y="259.7" font-size="8.5" text-anchor="start" fill="#262626" stroke="#262626" stroke-width="0.1">400<tspan font-size="5.3" dy="-3.3" dx="0.15">o</tspan><tspan dy="3.3" dx="0.1">C</tspan></text>
<line x1="287.1" y1="268.3" x2="299.7" y2="268.3" stroke="#1f50b4" stroke-width="1.1"/>
<circle cx="293.4" cy="268.3" r="1.75" fill="#fff" stroke="#1f50b4" stroke-width="1.2"/>
<text x="303" y="271.4" font-size="8.5" text-anchor="start" fill="#262626" stroke="#262626" stroke-width="0.1">450<tspan font-size="5.3" dy="-3.3" dx="0.15">o</tspan><tspan dy="3.3" dx="0.1">C</tspan></text>
<path d="M388.2,262.71 L440.3,267.97 L453.32,269.72 L466.35,267.39 L479.38,268.17 L492.4,268.17 L505.43,265.44" fill="none" stroke="#e8141c" stroke-width="0.8"/>
<line x1="388.2" y1="258.21" x2="388.2" y2="267.21" stroke="#e8141c" stroke-width="0.8"/>
<line x1="385.8" y1="258.21" x2="390.6" y2="258.21" stroke="#e8141c" stroke-width="0.9"/>
<line x1="385.8" y1="267.21" x2="390.6" y2="267.21" stroke="#e8141c" stroke-width="0.9"/>
<circle cx="388.2" cy="262.71" r="1.9" fill="#fff" stroke="#e8141c" stroke-width="0.8"/>
<line x1="440.3" y1="263.47" x2="440.3" y2="272.47" stroke="#e8141c" stroke-width="0.8"/>
<line x1="437.9" y1="263.47" x2="442.7" y2="263.47" stroke="#e8141c" stroke-width="0.9"/>
<line x1="437.9" y1="272.47" x2="442.7" y2="272.47" stroke="#e8141c" stroke-width="0.9"/>
<circle cx="440.3" cy="267.97" r="1.9" fill="#fff" stroke="#e8141c" stroke-width="0.8"/>
<line x1="453.32" y1="265.22" x2="453.32" y2="274.22" stroke="#e8141c" stroke-width="0.8"/>
<line x1="450.93" y1="265.22" x2="455.72" y2="265.22" stroke="#e8141c" stroke-width="0.9"/>
<line x1="450.93" y1="274.22" x2="455.72" y2="274.22" stroke="#e8141c" stroke-width="0.9"/>
<circle cx="453.32" cy="269.72" r="1.9" fill="#fff" stroke="#e8141c" stroke-width="0.8"/>
<line x1="466.35" y1="262.89" x2="466.35" y2="271.89" stroke="#e8141c" stroke-width="0.8"/>
<line x1="463.95" y1="262.89" x2="468.75" y2="262.89" stroke="#e8141c" stroke-width="0.9"/>
<line x1="463.95" y1="271.89" x2="468.75" y2="271.89" stroke="#e8141c" stroke-width="0.9"/>
<circle cx="466.35" cy="267.39" r="1.9" fill="#fff" stroke="#e8141c" stroke-width="0.8"/>
<line x1="479.38" y1="263.67" x2="479.38" y2="272.67" stroke="#e8141c" stroke-width="0.8"/>
<line x1="476.98" y1="263.67" x2="481.77" y2="263.67" stroke="#e8141c" stroke-width="0.9"/>
<line x1="476.98" y1="272.67" x2="481.77" y2="272.67" stroke="#e8141c" stroke-width="0.9"/>
<circle cx="479.38" cy="268.17" r="1.9" fill="#fff" stroke="#e8141c" stroke-width="0.8"/>
<line x1="492.4" y1="263.67" x2="492.4" y2="272.67" stroke="#e8141c" stroke-width="0.8"/>
<line x1="490" y1="263.67" x2="494.8" y2="263.67" stroke="#e8141c" stroke-width="0.9"/>
<line x1="490" y1="272.67" x2="494.8" y2="272.67" stroke="#e8141c" stroke-width="0.9"/>
<circle cx="492.4" cy="268.17" r="1.9" fill="#fff" stroke="#e8141c" stroke-width="0.8"/>
<line x1="505.43" y1="260.94" x2="505.43" y2="269.94" stroke="#e8141c" stroke-width="0.8"/>
<line x1="503.03" y1="260.94" x2="507.82" y2="260.94" stroke="#e8141c" stroke-width="0.9"/>
<line x1="503.03" y1="269.94" x2="507.82" y2="269.94" stroke="#e8141c" stroke-width="0.9"/>
<circle cx="505.43" cy="265.44" r="1.9" fill="#fff" stroke="#e8141c" stroke-width="0.8"/>
<path d="M388.2,261.93 L440.3,270.5 L453.32,270.89 L466.35,268.56 L479.38,265.44 L492.4,263.1 L505.43,264.27" fill="none" stroke="#e8141c" stroke-width="0.8"/>
<line x1="388.2" y1="257.43" x2="388.2" y2="266.43" stroke="#e8141c" stroke-width="0.8"/>
<line x1="385.8" y1="257.43" x2="390.6" y2="257.43" stroke="#e8141c" stroke-width="0.9"/>
<line x1="385.8" y1="266.43" x2="390.6" y2="266.43" stroke="#e8141c" stroke-width="0.9"/>
<circle cx="388.2" cy="261.93" r="1.9" fill="#e8141c"/>
<line x1="440.3" y1="266" x2="440.3" y2="275" stroke="#e8141c" stroke-width="0.8"/>
<line x1="437.9" y1="266" x2="442.7" y2="266" stroke="#e8141c" stroke-width="0.9"/>
<line x1="437.9" y1="275" x2="442.7" y2="275" stroke="#e8141c" stroke-width="0.9"/>
<circle cx="440.3" cy="270.5" r="1.9" fill="#e8141c"/>
<line x1="453.32" y1="266.39" x2="453.32" y2="275.39" stroke="#e8141c" stroke-width="0.8"/>
<line x1="450.93" y1="266.39" x2="455.72" y2="266.39" stroke="#e8141c" stroke-width="0.9"/>
<line x1="450.93" y1="275.39" x2="455.72" y2="275.39" stroke="#e8141c" stroke-width="0.9"/>
<circle cx="453.32" cy="270.89" r="1.9" fill="#e8141c"/>
<line x1="466.35" y1="264.06" x2="466.35" y2="273.06" stroke="#e8141c" stroke-width="0.8"/>
<line x1="463.95" y1="264.06" x2="468.75" y2="264.06" stroke="#e8141c" stroke-width="0.9"/>
<line x1="463.95" y1="273.06" x2="468.75" y2="273.06" stroke="#e8141c" stroke-width="0.9"/>
<circle cx="466.35" cy="268.56" r="1.9" fill="#e8141c"/>
<line x1="479.38" y1="260.94" x2="479.38" y2="269.94" stroke="#e8141c" stroke-width="0.8"/>
<line x1="476.98" y1="260.94" x2="481.77" y2="260.94" stroke="#e8141c" stroke-width="0.9"/>
<line x1="476.98" y1="269.94" x2="481.77" y2="269.94" stroke="#e8141c" stroke-width="0.9"/>
<circle cx="479.38" cy="265.44" r="1.9" fill="#e8141c"/>
<line x1="492.4" y1="258.6" x2="492.4" y2="267.6" stroke="#e8141c" stroke-width="0.8"/>
<line x1="490" y1="258.6" x2="494.8" y2="258.6" stroke="#e8141c" stroke-width="0.9"/>
<line x1="490" y1="267.6" x2="494.8" y2="267.6" stroke="#e8141c" stroke-width="0.9"/>
<circle cx="492.4" cy="263.1" r="1.9" fill="#e8141c"/>
<line x1="505.43" y1="259.77" x2="505.43" y2="268.77" stroke="#e8141c" stroke-width="0.8"/>
<line x1="503.03" y1="259.77" x2="507.82" y2="259.77" stroke="#e8141c" stroke-width="0.9"/>
<line x1="503.03" y1="268.77" x2="507.82" y2="268.77" stroke="#e8141c" stroke-width="0.9"/>
<circle cx="505.43" cy="264.27" r="1.9" fill="#e8141c"/>
<path d="M388.2,231.15 L440.3,200.96 L453.32,205.44 L466.35,211.48 L479.38,223.75 L492.4,232.13 L505.43,241.87" fill="none" stroke="#1a1a1a" stroke-width="0.8"/>
<rect x="386.3" y="229.25" width="3.8" height="3.8" fill="#fff" stroke="#1a1a1a" stroke-width="0.8"/>
<rect x="438.4" y="199.06" width="3.8" height="3.8" fill="#fff" stroke="#1a1a1a" stroke-width="0.8"/>
<rect x="451.43" y="203.54" width="3.8" height="3.8" fill="#fff" stroke="#1a1a1a" stroke-width="0.8"/>
<rect x="464.45" y="209.58" width="3.8" height="3.8" fill="#fff" stroke="#1a1a1a" stroke-width="0.8"/>
<rect x="477.48" y="221.85" width="3.8" height="3.8" fill="#fff" stroke="#1a1a1a" stroke-width="0.8"/>
<rect x="490.5" y="230.23" width="3.8" height="3.8" fill="#fff" stroke="#1a1a1a" stroke-width="0.8"/>
<rect x="503.53" y="239.97" width="3.8" height="3.8" fill="#fff" stroke="#1a1a1a" stroke-width="0.8"/>
<path d="M388.2,230.76 L440.3,206.22 L453.32,211.28 L466.35,213.04 L479.38,222 L492.4,237.58 L505.43,245.18" fill="none" stroke="#1a1a1a" stroke-width="0.8"/>
<circle cx="388.2" cy="230.76" r="1.9" fill="#1a1a1a"/>
<circle cx="440.3" cy="206.22" r="1.9" fill="#1a1a1a"/>
<circle cx="453.32" cy="211.28" r="1.9" fill="#1a1a1a"/>
<circle cx="466.35" cy="213.04" r="1.9" fill="#1a1a1a"/>
<circle cx="479.38" cy="222" r="1.9" fill="#1a1a1a"/>
<circle cx="492.4" cy="237.58" r="1.9" fill="#1a1a1a"/>
<circle cx="505.43" cy="245.18" r="1.9" fill="#1a1a1a"/>
<rect x="383.3" y="167.8" width="126.6" height="116.3" fill="none" stroke="#2a2a2a" stroke-width="1.2"/>
<line x1="388.2" y1="284.1" x2="388.2" y2="282.1" stroke="#2a2a2a" stroke-width="0.9"/>
<line x1="388.2" y1="167.8" x2="388.2" y2="169.8" stroke="#2a2a2a" stroke-width="0.9"/>
<line x1="401.22" y1="284.1" x2="401.22" y2="282.1" stroke="#2a2a2a" stroke-width="0.9"/>
<line x1="401.22" y1="167.8" x2="401.22" y2="169.8" stroke="#2a2a2a" stroke-width="0.9"/>
<line x1="414.25" y1="284.1" x2="414.25" y2="282.1" stroke="#2a2a2a" stroke-width="0.9"/>
<line x1="414.25" y1="167.8" x2="414.25" y2="169.8" stroke="#2a2a2a" stroke-width="0.9"/>
<line x1="427.27" y1="284.1" x2="427.27" y2="282.1" stroke="#2a2a2a" stroke-width="0.9"/>
<line x1="427.27" y1="167.8" x2="427.27" y2="169.8" stroke="#2a2a2a" stroke-width="0.9"/>
<line x1="440.3" y1="284.1" x2="440.3" y2="282.1" stroke="#2a2a2a" stroke-width="0.9"/>
<line x1="440.3" y1="167.8" x2="440.3" y2="169.8" stroke="#2a2a2a" stroke-width="0.9"/>
<line x1="453.32" y1="284.1" x2="453.32" y2="282.1" stroke="#2a2a2a" stroke-width="0.9"/>
<line x1="453.32" y1="167.8" x2="453.32" y2="169.8" stroke="#2a2a2a" stroke-width="0.9"/>
<line x1="466.35" y1="284.1" x2="466.35" y2="282.1" stroke="#2a2a2a" stroke-width="0.9"/>
<line x1="466.35" y1="167.8" x2="466.35" y2="169.8" stroke="#2a2a2a" stroke-width="0.9"/>
<line x1="479.38" y1="284.1" x2="479.38" y2="282.1" stroke="#2a2a2a" stroke-width="0.9"/>
<line x1="479.38" y1="167.8" x2="479.38" y2="169.8" stroke="#2a2a2a" stroke-width="0.9"/>
<line x1="492.4" y1="284.1" x2="492.4" y2="282.1" stroke="#2a2a2a" stroke-width="0.9"/>
<line x1="492.4" y1="167.8" x2="492.4" y2="169.8" stroke="#2a2a2a" stroke-width="0.9"/>
<line x1="505.43" y1="284.1" x2="505.43" y2="282.1" stroke="#2a2a2a" stroke-width="0.9"/>
<line x1="505.43" y1="167.8" x2="505.43" y2="169.8" stroke="#2a2a2a" stroke-width="0.9"/>
<line x1="383.3" y1="274.4" x2="385.3" y2="274.4" stroke="#2a2a2a" stroke-width="0.9"/>
<line x1="509.9" y1="274.4" x2="507.9" y2="274.4" stroke="#2a2a2a" stroke-width="0.9"/>
<line x1="383.3" y1="250.05" x2="385.3" y2="250.05" stroke="#2a2a2a" stroke-width="0.9"/>
<line x1="509.9" y1="250.05" x2="507.9" y2="250.05" stroke="#2a2a2a" stroke-width="0.9"/>
<line x1="383.3" y1="225.7" x2="385.3" y2="225.7" stroke="#2a2a2a" stroke-width="0.9"/>
<line x1="509.9" y1="225.7" x2="507.9" y2="225.7" stroke="#2a2a2a" stroke-width="0.9"/>
<line x1="383.3" y1="201.35" x2="385.3" y2="201.35" stroke="#2a2a2a" stroke-width="0.9"/>
<line x1="509.9" y1="201.35" x2="507.9" y2="201.35" stroke="#2a2a2a" stroke-width="0.9"/>
<line x1="383.3" y1="177" x2="385.3" y2="177" stroke="#2a2a2a" stroke-width="0.9"/>
<line x1="509.9" y1="177" x2="507.9" y2="177" stroke="#2a2a2a" stroke-width="0.9"/>
<text x="348.4" y="174.6" font-size="9.8" text-anchor="start" fill="#262626" stroke="#262626" stroke-width="0.1">(f)</text>
<text transform="translate(377.6,180.9) scale(0.92,1)" font-size="10" text-anchor="end" fill="#262626" stroke="#262626" stroke-width="0.1">50</text>
<text transform="translate(377.6,229.6) scale(0.92,1)" font-size="10" text-anchor="end" fill="#262626" stroke="#262626" stroke-width="0.1">25</text>
<text transform="translate(377.6,278.3) scale(0.92,1)" font-size="10" text-anchor="end" fill="#262626" stroke="#262626" stroke-width="0.1">0</text>
<text transform="translate(514.8,180.9) scale(0.92,1)" font-size="10" text-anchor="start" fill="#e8141c" stroke="#e8141c" stroke-width="0.1">25.0</text>
<text transform="translate(514.8,229.6) scale(0.92,1)" font-size="10" text-anchor="start" fill="#e8141c" stroke="#e8141c" stroke-width="0.1">12.5</text>
<text transform="translate(514.8,278.3) scale(0.92,1)" font-size="10" text-anchor="start" fill="#e8141c" stroke="#e8141c" stroke-width="0.1">0.0</text>
<text transform="translate(387.9,296.8) scale(0.92,1)" font-size="10" text-anchor="middle" fill="#262626" stroke="#262626" stroke-width="0.1">0</text>
<text transform="translate(413.95,296.8) scale(0.92,1)" font-size="10" text-anchor="middle" fill="#262626" stroke="#262626" stroke-width="0.1">100</text>
<text transform="translate(440,296.8) scale(0.92,1)" font-size="10" text-anchor="middle" fill="#262626" stroke="#262626" stroke-width="0.1">200</text>
<text transform="translate(466.05,296.8) scale(0.92,1)" font-size="10" text-anchor="middle" fill="#262626" stroke="#262626" stroke-width="0.1">300</text>
<text transform="translate(492.1,296.8) scale(0.92,1)" font-size="10" text-anchor="middle" fill="#262626" stroke="#262626" stroke-width="0.1">400</text>
<text x="446.5" y="309.8" font-size="10.4" text-anchor="middle" fill="#262626" stroke="#262626" stroke-width="0.1"><tspan font-style="italic">T</tspan><tspan font-size="6.4" dy="2.6">ann</tspan><tspan dy="-2.6"> (<tspan font-size="6.2" dy="-3.4">o</tspan><tspan dy="3.4">C)</tspan></tspan></text>
<text x="0" y="0" font-size="10.4" text-anchor="middle" fill="#262626" stroke="#262626" stroke-width="0.1" transform="translate(357.2,225.5) rotate(-90)"><tspan font-style="italic">B</tspan><tspan font-size="6.4" dy="2.6">EB</tspan><tspan dy="-2.6"> (mT)</tspan></text>
<text x="0" y="0" font-size="10.4" text-anchor="middle" fill="#e8141c" stroke="#e8141c" stroke-width="0.1" transform="translate(546.2,226.2) rotate(-90)"><tspan font-style="italic">B</tspan><tspan font-size="6.3" dy="2.6">C</tspan><tspan font-size="6.3" dy="-6.2" dx="-3.9">top</tspan><tspan dy="3.6"> (mT)</tspan></text>
<line x1="441.5" y1="174.5" x2="460.9" y2="174.5" stroke="#1a1a1a" stroke-width="1.1"/>
<path d="M451.2,172.1 l2.4,2.4 l-2.4,2.4 l-2.4,-2.4 z" fill="#1a1a1a"/>
<line x1="441.5" y1="179.8" x2="460.9" y2="179.8" stroke="#e8141c" stroke-width="1.1"/>
<path d="M451.2,177.4 l2.4,2.4 l-2.4,2.4 l-2.4,-2.4 z" fill="#e8141c"/>
<line x1="441.5" y1="188.3" x2="460.9" y2="188.3" stroke="#1a1a1a" stroke-width="1.1"/>
<circle cx="451.2" cy="188.3" r="1.75" fill="#fff" stroke="#1a1a1a" stroke-width="1.2"/>
<line x1="441.5" y1="194.8" x2="460.9" y2="194.8" stroke="#e8141c" stroke-width="1.1"/>
<circle cx="451.2" cy="194.8" r="1.75" fill="#fff" stroke="#e8141c" stroke-width="1.2"/>
<text x="464.1" y="180.3" font-size="8.5" text-anchor="start" fill="#262626" stroke="#262626" stroke-width="0.1">Ta-capped</text>
<text x="464.8" y="194.1" font-size="8.5" text-anchor="start" fill="#262626" stroke="#262626" stroke-width="0.1">W-capped</text>
</svg></body></html>
